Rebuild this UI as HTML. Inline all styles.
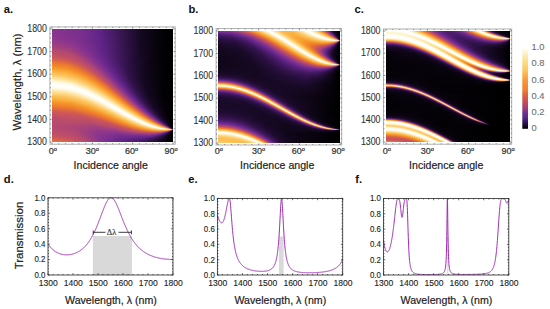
<!DOCTYPE html>
<html><head><meta charset="utf-8"><style>
html,body{margin:0;padding:0;background:#fff;width:550px;height:309px;overflow:hidden;position:relative}
.h{position:absolute;overflow:hidden}
.h i{display:block;height:1px}
svg{position:absolute;left:0;top:0;display:block;font-family:"Liberation Sans", sans-serif}
</style></head><body>
<div class="h" style="left:52px;top:29px;width:121px;height:113px"><i style="background:linear-gradient(90deg,#883490 0.5px,#772e8e 29.5px,#602588 46.5px,#13081f 89.5px,#010002 113.5px,#000000 120.5px)"></i><i style="background:linear-gradient(90deg,#88348f 0.5px,#782e8e 29.5px,#612588 46.5px,#13081f 89.5px,#010002 113.5px,#000000 120.5px)"></i><i style="background:linear-gradient(90deg,#88358f 0.5px,#782e8e 29.5px,#612588 46.5px,#13081f 89.5px,#010002 113.5px,#000000 120.5px)"></i><i style="background:linear-gradient(90deg,#89358f 0.5px,#772e8e 30.5px,#612589 46.5px,#13081f 89.5px,#010002 113.5px,#000000 120.5px)"></i><i style="background:linear-gradient(90deg,#8a358e 0.5px,#782e8e 30.5px,#602487 47.5px,#13081f 89.5px,#010002 113.5px,#000000 120.5px)"></i><i style="background:linear-gradient(90deg,#8a358e 0.5px,#772e8e 31.5px,#602487 47.5px,#13081f 89.5px,#010002 113.5px,#000000 120.5px)"></i><i style="background:linear-gradient(90deg,#8b368d 0.5px,#772e8e 31.5px,#612588 47.5px,#13081f 89.5px,#010002 113.5px,#000000 120.5px)"></i><i style="background:linear-gradient(90deg,#8d368d 0.5px,#772e8e 31.5px,#612588 47.5px,#14081f 89.5px,#010002 113.5px,#000000 120.5px)"></i><i style="background:linear-gradient(90deg,#8e378c 0.5px,#792e8e 30.5px,#612588 47.5px,#14081f 89.5px,#010002 113.5px,#000000 120.5px)"></i><i style="background:linear-gradient(90deg,#90388b 0.5px,#7c2f8f 28.5px,#612589 47.5px,#14081f 89.5px,#010002 113.5px,#000000 120.5px)"></i><i style="background:linear-gradient(90deg,#91388a 0.5px,#7d308f 27.5px,#622589 47.5px,#140820 89.5px,#010002 113.5px,#000000 120.5px)"></i><i style="background:linear-gradient(90deg,#933989 0.5px,#80318f 25.5px,#602487 48.5px,#140820 89.5px,#010002 113.5px,#000000 120.5px)"></i><i style="background:linear-gradient(90deg,#963a87 0.5px,#833290 24.5px,#612588 48.5px,#140820 89.5px,#010002 113.5px,#000000 120.5px)"></i><i style="background:linear-gradient(90deg,#983b86 0.5px,#853390 23.5px,#612588 48.5px,#140820 89.5px,#010002 113.5px,#000000 120.5px)"></i><i style="background:linear-gradient(90deg,#9b3d84 0.5px,#88348f 22.5px,#612588 48.5px,#140820 89.5px,#010002 113.5px,#000000 120.5px)"></i><i style="background:linear-gradient(90deg,#9e3e82 0.5px,#8c368d 21.5px,#622589 48.5px,#140820 89.5px,#010002 113.5px,#000000 120.5px)"></i><i style="background:linear-gradient(90deg,#a13f80 0.5px,#8f388b 20.5px,#742c8e 37.5px,#602487 49.5px,#140820 89.5px,#020103 112.5px,#000000 120.5px)"></i><i style="background:linear-gradient(90deg,#a5417d 0.5px,#923989 20.5px,#7c2f8f 33.5px,#602487 49.5px,#140820 89.5px,#020103 112.5px,#000000 120.5px)"></i><i style="background:linear-gradient(90deg,#a94379 0.5px,#963b87 19.5px,#7f318f 32.5px,#612588 49.5px,#140820 89.5px,#020103 112.5px,#000000 120.5px)"></i><i style="background:linear-gradient(90deg,#ad4576 0.5px,#9b3d84 18.5px,#80318f 32.5px,#612588 49.5px,#140820 89.5px,#020103 112.5px,#000000 120.5px)"></i><i style="background:linear-gradient(90deg,#b24872 0.5px,#a13f80 17.5px,#80318f 33.5px,#612589 49.5px,#140821 89.5px,#020103 112.5px,#000000 120.5px)"></i><i style="background:linear-gradient(90deg,#b64a6e 0.5px,#a7427b 16.5px,#82328f 33.5px,#622589 49.5px,#140821 89.5px,#020103 112.5px,#000000 120.5px)"></i><i style="background:linear-gradient(90deg,#b94b6b 0.5px,#af4674 14.5px,#82328f 34.5px,#602487 50.5px,#140821 89.5px,#020103 112.5px,#000000 120.5px)"></i><i style="background:linear-gradient(90deg,#bc4d69 0.5px,#b04773 16.5px,#82328f 35.5px,#612588 50.5px,#150821 89.5px,#020103 112.5px,#000000 120.5px)"></i><i style="background:linear-gradient(90deg,#bf4e66 0.5px,#b14872 18.5px,#82328f 36.5px,#622589 50.5px,#160923 88.5px,#020103 112.5px,#000000 120.5px)"></i><i style="background:linear-gradient(90deg,#c25063 0.5px,#b4496f 19.5px,#853390 36.5px,#602487 51.5px,#160923 88.5px,#020103 111.5px,#000000 120.5px)"></i><i style="background:linear-gradient(90deg,#c55260 0.5px,#b5496f 21.5px,#853390 37.5px,#612589 51.5px,#170925 87.5px,#020103 111.5px,#000000 120.5px)"></i><i style="background:linear-gradient(90deg,#c9545d 0.5px,#b74a6d 22.5px,#853390 38.5px,#62258a 51.5px,#180a27 86.5px,#030104 110.5px,#000000 120.5px)"></i><i style="background:linear-gradient(90deg,#cd5758 0.5px,#bb4d69 21.5px,#a3407e 30.5px,#82328f 40.5px,#612588 52.5px,#1a0a2a 85.5px,#030105 109.5px,#000000 120.5px)"></i><i style="background:linear-gradient(90deg,#d25c51 0.5px,#bf4e66 21.5px,#ac4576 29.5px,#843390 40.5px,#62258a 52.5px,#200c32 82.5px,#050209 105.5px,#000000 120.5px)"></i><i style="background:linear-gradient(90deg,#d7624a 0.5px,#c55260 19.5px,#ae4675 30.5px,#843390 41.5px,#612588 53.5px,#220d34 81.5px,#07030b 103.5px,#000000 120.5px)"></i><i style="background:linear-gradient(90deg,#dd6842 0.5px,#d25b52 14.5px,#b04773 31.5px,#843390 42.5px,#63258a 53.5px,#280f3d 78.5px,#0c0514 97.5px,#000000 118.5px,#000000 120.5px)"></i><i style="background:linear-gradient(90deg,#e36e39 0.5px,#d7614a 14.5px,#b24871 32.5px,#88348f 42.5px,#612589 54.5px,#2a1040 77.5px,#0d0515 96.5px,#000000 117.5px,#000000 120.5px)"></i><i style="background:linear-gradient(90deg,#ea7630 0.5px,#df6940 13.5px,#be4e67 29.5px,#a6427b 36.5px,#843390 44.5px,#602487 55.5px,#2c1043 76.5px,#0e0617 95.5px,#000000 117.5px,#000000 120.5px)"></i><i style="background:linear-gradient(90deg,#ed7c2c 0.5px,#e77235 12.5px,#bf4f65 30.5px,#a7437a 37.5px,#843390 45.5px,#622589 55.5px,#2e1146 75.5px,#0f0619 94.5px,#000001 116.5px,#000000 120.5px)"></i><i style="background:linear-gradient(90deg,#ef822b 0.5px,#ea7630 14.5px,#c14f64 31.5px,#a94379 38.5px,#843390 46.5px,#612588 56.5px,#2e1146 75.5px,#100619 94.5px,#000001 116.5px,#000000 120.5px)"></i><i style="background:linear-gradient(90deg,#f1882a 0.5px,#eb772f 17.5px,#c35063 32.5px,#aa4478 39.5px,#833390 47.5px,#63268a 56.5px,#301249 74.5px,#100619 94.5px,#000001 116.5px,#000000 120.5px)"></i><i style="background:linear-gradient(90deg,#f48f29 0.5px,#ee7d2c 17.5px,#e57037 22.5px,#c45161 33.5px,#ab4577 40.5px,#833290 48.5px,#622589 57.5px,#31124a 74.5px,#11071b 93.5px,#010001 115.5px,#000000 120.5px)"></i><i style="background:linear-gradient(90deg,#f69629 0.5px,#f0852b 16.5px,#e97531 23.5px,#c65260 34.5px,#ad4576 41.5px,#87348f 48.5px,#602487 58.5px,#2f1147 75.5px,#100619 94.5px,#000001 116.5px,#000000 120.5px)"></i><i style="background:linear-gradient(90deg,#f79d2e 0.5px,#f38e29 15.5px,#ea7630 25.5px,#c45161 36.5px,#ae4675 42.5px,#87348f 49.5px,#63268a 58.5px,#31124b 74.5px,#11071b 93.5px,#010001 115.5px,#000000 120.5px)"></i><i style="background:linear-gradient(90deg,#f8a535 0.5px,#f69529 15.5px,#ea7630 27.5px,#c65260 37.5px,#af4774 43.5px,#87348f 50.5px,#622589 59.5px,#301248 75.5px,#11071b 93.5px,#010001 115.5px,#000000 120.5px)"></i><i style="background:linear-gradient(90deg,#f9ad3d 0.5px,#f79d2e 15.5px,#f1862b 24.5px,#ea7630 29.5px,#c7535e 38.5px,#aa4478 45.5px,#87348f 51.5px,#602487 60.5px,#301249 75.5px,#11071b 93.5px,#010001 115.5px,#000000 120.5px)"></i><i style="background:linear-gradient(90deg,#fab445 0.5px,#f8a737 14.5px,#f49029 23.5px,#ea7630 31.5px,#c55260 40.5px,#ab4477 46.5px,#863490 52.5px,#63268b 60.5px,#31124a 75.5px,#12071d 92.5px,#010002 114.5px,#000000 120.5px)"></i><i style="background:linear-gradient(90deg,#fbba4d 0.5px,#f9ad3d 15.5px,#f49129 25.5px,#e97531 33.5px,#c6525f 41.5px,#ac4576 47.5px,#863490 53.5px,#622589 61.5px,#31124b 75.5px,#12071d 92.5px,#010002 114.5px,#000000 120.5px)"></i><i style="background:linear-gradient(90deg,#fcbf55 0.5px,#fab445 15.5px,#f59229 27.5px,#eb782e 34.5px,#c8535e 42.5px,#ad4576 48.5px,#863490 54.5px,#602588 62.5px,#301249 76.5px,#12071d 92.5px,#010002 114.5px,#000000 120.5px)"></i><i style="background:linear-gradient(90deg,#fcc661 0.5px,#fbb84b 16.5px,#f79a2c 27.5px,#ea772f 36.5px,#c55260 44.5px,#ae4675 49.5px,#863390 55.5px,#64268b 62.5px,#33134d 75.5px,#14081f 91.5px,#010102 113.5px,#000000 120.5px)"></i><i style="background:linear-gradient(90deg,#fdcd6f 0.5px,#fcc45e 12.5px,#f9aa3a 25.5px,#f59329 31.5px,#e97532 38.5px,#c6525f 45.5px,#af4674 50.5px,#853390 56.5px,#63258a 63.5px,#32124b 76.5px,#14081f 91.5px,#010102 113.5px,#000000 120.5px)"></i><i style="background:linear-gradient(90deg,#fdd47d 0.5px,#fccb6c 12.5px,#f9ab3b 27.5px,#f59229 33.5px,#eb782f 39.5px,#c8535e 46.5px,#b04773 51.5px,#853390 57.5px,#612589 64.5px,#301249 77.5px,#140820 91.5px,#010102 113.5px,#000000 120.5px)"></i><i style="background:linear-gradient(90deg,#fddc8e 0.5px,#fdd47d 11.5px,#f9ac3c 29.5px,#f49129 35.5px,#e97531 41.5px,#c9535d 47.5px,#b14773 52.5px,#8b368e 57.5px,#65268c 64.5px,#34134e 76.5px,#150822 90.5px,#020103 112.5px,#000000 120.5px)"></i><i style="background:linear-gradient(90deg,#fee39f 0.5px,#fddd91 10.5px,#fab445 29.5px,#f69529 36.5px,#eb782f 42.5px,#c55260 49.5px,#a94379 54.5px,#843390 59.5px,#64268b 65.5px,#32134c 77.5px,#140820 91.5px,#010102 113.5px,#000000 120.5px)"></i><i style="background:linear-gradient(90deg,#feeab0 0.5px,#fee39f 11.5px,#fcc865 24.5px,#f9a838 34.5px,#f59429 38.5px,#e97432 44.5px,#c6525f 50.5px,#aa4478 55.5px,#843390 60.5px,#63258a 66.5px,#31124a 78.5px,#140820 91.5px,#020103 112.5px,#000000 120.5px)"></i><i style="background:linear-gradient(90deg,#fff1c5 0.5px,#feecb6 9.5px,#fdda8a 20.5px,#f9ac3c 35.5px,#f59229 40.5px,#eb772f 45.5px,#c7535e 51.5px,#aa4478 56.5px,#833290 61.5px,#612588 67.5px,#32134c 78.5px,#140821 91.5px,#020103 112.5px,#000000 120.5px)"></i><i style="background:linear-gradient(90deg,#fff7d9 0.5px,#fff2c9 10.5px,#fdda8b 23.5px,#fab445 35.5px,#f69529 41.5px,#ec7a2d 46.5px,#c9535d 52.5px,#ab4477 57.5px,#83328f 62.5px,#602487 68.5px,#301249 79.5px,#13081f 92.5px,#010102 113.5px,#000000 120.5px)"></i><i style="background:linear-gradient(90deg,#fffbea 0.5px,#fff8dc 10.5px,#feebb4 19.5px,#fbb749 36.5px,#f59329 43.5px,#e97631 48.5px,#ca545c 53.5px,#ab4577 58.5px,#89358e 62.5px,#64268b 68.5px,#32134c 79.5px,#150822 91.5px,#020104 111.5px,#000000 120.5px)"></i><i style="background:linear-gradient(90deg,#fffdf7 0.5px,#fffbeb 11.5px,#fff2c9 19.5px,#fcc967 33.5px,#f9a838 41.5px,#f49029 45.5px,#eb782e 49.5px,#cb555b 54.5px,#ac4576 59.5px,#89358f 63.5px,#63268a 69.5px,#34134e 79.5px,#150922 91.5px,#020104 111.5px,#000000 120.5px)"></i><i style="background:linear-gradient(90deg,#fffffe 0.5px,#fffdf4 13.5px,#fff7d8 20.5px,#fdcd6f 34.5px,#f8a636 43.5px,#f59329 46.5px,#ed7a2d 50.5px,#c6525f 56.5px,#ac4576 60.5px,#88358f 64.5px,#622589 70.5px,#32134c 80.5px,#140820 92.5px,#020103 112.5px,#000000 120.5px)"></i><i style="background:linear-gradient(90deg,#fffffe 0.5px,#fffefa 15.5px,#fff8e0 22.5px,#fdd680 34.5px,#fbb94b 41.5px,#f69629 47.5px,#e97631 52.5px,#c7535e 57.5px,#ad4675 61.5px,#88348f 65.5px,#612588 71.5px,#30124a 81.5px,#150821 92.5px,#020104 111.5px,#000000 120.5px)"></i><i style="background:linear-gradient(90deg,#fffef8 0.5px,#fffefc 18.5px,#fffae6 24.5px,#fdda8a 35.5px,#fbbb4f 42.5px,#f59229 49.5px,#eb782f 53.5px,#c8535e 58.5px,#ae4675 62.5px,#88348f 66.5px,#66278c 71.5px,#32134c 81.5px,#150822 92.5px,#020104 111.5px,#000000 120.5px)"></i><i style="background:linear-gradient(90deg,#fffbec 0.5px,#fffffe 20.5px,#fffbeb 26.5px,#fee29d 35.5px,#fcbe54 43.5px,#f79c2e 49.5px,#ef812c 53.5px,#e77235 55.5px,#c9545c 59.5px,#ae4674 63.5px,#87348f 67.5px,#65268b 72.5px,#35134f 81.5px,#160923 92.5px,#030105 110.5px,#000000 120.5px)"></i><i style="background:linear-gradient(90deg,#fff7da 0.5px,#fffbed 12.5px,#ffffff 22.5px,#fffdf4 27.5px,#fff4d0 32.5px,#fbbd51 45.5px,#f6982b 51.5px,#ed7c2c 55.5px,#d96348 58.5px,#c45161 61.5px,#af4674 64.5px,#87348f 68.5px,#63268a 73.5px,#33134d 82.5px,#150821 93.5px,#020104 111.5px,#000000 120.5px)"></i><i style="background:linear-gradient(90deg,#fff1c6 0.5px,#fff7d8 11.5px,#fffffd 23.5px,#fffefb 28.5px,#fff9e5 32.5px,#fdd47c 42.5px,#fbb648 48.5px,#f59429 53.5px,#ea7730 57.5px,#cb555a 61.5px,#b04773 65.5px,#87348f 69.5px,#622589 74.5px,#31124b 83.5px,#150822 93.5px,#020104 111.5px,#000000 120.5px)"></i><i style="background:linear-gradient(90deg,#feeab1 0.5px,#feefc0 10.5px,#fffffd 26.5px,#fffef9 31.5px,#fff8de 35.5px,#fcc865 46.5px,#f79e2f 53.5px,#f1882a 56.5px,#ec792e 58.5px,#c65260 63.5px,#a5417c 67.5px,#86348f 70.5px,#612588 75.5px,#34134e 83.5px,#160923 93.5px,#030105 110.5px,#000000 120.5px)"></i><i style="background:linear-gradient(90deg,#fee39f 0.5px,#fee9ae 11.5px,#fff9e0 22.5px,#fffffd 29.5px,#fffefa 33.5px,#fff8df 37.5px,#fccb6c 47.5px,#f9aa39 53.5px,#f59229 56.5px,#ed7b2d 59.5px,#c7525f 64.5px,#a5427c 68.5px,#86348f 71.5px,#602487 76.5px,#32134c 84.5px,#150821 94.5px,#030104 111.5px,#000000 120.5px)"></i><i style="background:linear-gradient(90deg,#fddc8e 0.5px,#fee29d 11.5px,#feedba 19.5px,#fffef9 30.5px,#fffffe 34.5px,#fffae9 38.5px,#fdda8a 46.5px,#fbbe54 51.5px,#f59529 57.5px,#e97532 61.5px,#c8535e 65.5px,#a6427c 69.5px,#86338f 72.5px,#66278c 76.5px,#351450 84.5px,#150922 94.5px,#030105 110.5px,#000000 120.5px)"></i><i style="background:linear-gradient(90deg,#fdd47c 0.5px,#fdda8b 11.5px,#feecb5 22.5px,#fffdf7 32.5px,#fffffe 36.5px,#fffcf2 39.5px,#fff1c6 43.5px,#fcc158 52.5px,#f7a031 57.5px,#f48f29 59.5px,#ea7730 62.5px,#c9535d 66.5px,#a6427b 70.5px,#85338f 73.5px,#65268b 77.5px,#34134e 85.5px,#160924 94.5px,#030105 110.5px,#000000 120.5px)"></i><i style="background:linear-gradient(90deg,#fdcc6e 0.5px,#fdd57e 13.5px,#fee9ad 24.5px,#fffdf5 34.5px,#fffffe 38.5px,#fffcf2 41.5px,#fff1c4 45.5px,#fcc45d 53.5px,#f8a334 58.5px,#f59229 60.5px,#ec792e 63.5px,#ca545c 67.5px,#a7427b 71.5px,#85338f 74.5px,#64268b 78.5px,#32134c 86.5px,#150822 95.5px,#030104 111.5px,#000000 120.5px)"></i><i style="background:linear-gradient(90deg,#fcc55f 0.5px,#fdcd6f 13.5px,#fddd90 22.5px,#feeebb 29.5px,#fffef9 37.5px,#fffefc 41.5px,#fffae8 44.5px,#fdd47c 52.5px,#fbbb4f 56.5px,#f59529 61.5px,#ed7b2d 64.5px,#cb555a 68.5px,#a8437a 72.5px,#85338f 75.5px,#63268a 79.5px,#351451 86.5px,#160923 95.5px,#030106 110.5px,#000000 120.5px)"></i><i style="background:linear-gradient(90deg,#fcbe54 0.5px,#fcc561 13.5px,#fdd988 24.5px,#feefbe 32.5px,#fffdf8 39.5px,#fffffe 42.5px,#fffcf0 45.5px,#feeebd 49.5px,#fcc45e 56.5px,#f8a132 61.5px,#f48f29 63.5px,#e87432 66.5px,#c45161 70.5px,#a84379 73.5px,#85338f 76.5px,#622589 80.5px,#34134f 87.5px,#170925 95.5px,#040207 109.5px,#000000 120.5px)"></i><i style="background:linear-gradient(90deg,#fbb84b 0.5px,#fcc25a 16.5px,#fdd680 26.5px,#feedb8 34.5px,#fffdf7 41.5px,#fffffe 44.5px,#fffcef 47.5px,#fee19b 53.5px,#fcc158 58.5px,#f79b2d 63.5px,#ef802c 66.5px,#ea7730 67.5px,#c55260 71.5px,#a94479 74.5px,#85338f 77.5px,#622589 81.5px,#33134d 88.5px,#160923 96.5px,#040106 110.5px,#000000 120.5px)"></i><i style="background:linear-gradient(90deg,#fab343 0.5px,#fbbd52 17.5px,#fdce70 26.5px,#fee5a4 34.5px,#fffdf7 43.5px,#fffffe 46.5px,#fffbed 49.5px,#fdd886 56.5px,#fbbd53 60.5px,#f5952a 65.5px,#ec792e 68.5px,#c7525f 72.5px,#aa4478 75.5px,#85338f 78.5px,#612588 82.5px,#31124b 89.5px,#150822 97.5px,#030105 111.5px,#000000 120.5px)"></i><i style="background:linear-gradient(90deg,#f9ab3b 0.5px,#fbb749 17.5px,#fcc661 26.5px,#fddd90 34.5px,#fff2c7 40.5px,#fffdf7 45.5px,#fffffe 48.5px,#fffbea 51.5px,#fdd57f 58.5px,#fbba4d 62.5px,#f6982b 66.5px,#ed7c2d 69.5px,#c8535e 73.5px,#ac4577 76.5px,#85338f 79.5px,#602487 83.5px,#301249 90.5px,#140820 98.5px,#030104 112.5px,#000000 120.5px)"></i><i style="background:linear-gradient(90deg,#f8a233 0.5px,#fab242 18.5px,#fcc560 29.5px,#fdde94 37.5px,#fff5d0 43.5px,#fffdf7 47.5px,#fffffe 50.5px,#fffae7 53.5px,#fdd278 60.5px,#fbb648 64.5px,#f79b2d 67.5px,#ee7e2c 70.5px,#dd6842 72.5px,#c14f64 75.5px,#85338f 80.5px,#68288c 83.5px,#34134e 90.5px,#150822 98.5px,#030105 111.5px,#000000 120.5px)"></i><i style="background:linear-gradient(90deg,#f79a2c 0.5px,#f9aa3a 18.5px,#fcc25b 31.5px,#fddd91 39.5px,#fff4cf 45.5px,#fffef8 49.5px,#fffffd 52.5px,#fff9e2 55.5px,#fcc763 63.5px,#f79f30 68.5px,#f28a2a 70.5px,#ea7730 72.5px,#cb555a 75.5px,#ae4674 78.5px,#86338f 81.5px,#68278c 84.5px,#32134c 91.5px,#160924 98.5px,#040106 111.5px,#000000 120.5px)"></i><i style="background:linear-gradient(90deg,#f59329 0.5px,#f79f30 17.5px,#fbbc50 31.5px,#fdcd6f 37.5px,#fee8ab 44.5px,#fffcf1 50.5px,#fffffe 53.5px,#fffbec 56.5px,#fdda89 62.5px,#fbbc50 66.5px,#f6982b 70.5px,#ec792e 73.5px,#cd5758 76.5px,#b04773 79.5px,#86348f 82.5px,#67278c 85.5px,#371452 91.5px,#180a26 98.5px,#050207 110.5px,#000000 120.5px)"></i><i style="background:linear-gradient(90deg,#f38c2a 0.5px,#f79a2c 19.5px,#fbba4d 33.5px,#fccb6b 39.5px,#fee7aa 46.5px,#fffcf3 52.5px,#fffffe 55.5px,#fffdf3 57.5px,#fff1c6 60.5px,#fcc662 66.5px,#f79b2d 71.5px,#ed7c2d 74.5px,#c55260 78.5px,#a3407e 81.5px,#87348f 83.5px,#67278c 86.5px,#361451 92.5px,#170924 99.5px,#040206 111.5px,#000000 120.5px)"></i><i style="background:linear-gradient(90deg,#f0852b 0.5px,#f59329 19.5px,#f9ab3a 30.5px,#fcc661 40.5px,#fdde94 46.5px,#fffdf4 54.5px,#fffffe 57.5px,#fffcf0 59.5px,#fee19b 64.5px,#fcc25a 68.5px,#f79f30 72.5px,#f28a2a 74.5px,#e87433 76.5px,#c7535e 79.5px,#a4417d 82.5px,#87348e 84.5px,#67278c 87.5px,#35134f 93.5px,#160923 100.5px,#030105 112.5px,#000000 120.5px)"></i><i style="background:linear-gradient(90deg,#ee7f2c 0.5px,#f38c2a 20.5px,#f79c2d 28.5px,#fcbe54 40.5px,#fdd57f 46.5px,#fff1c4 52.5px,#fffdf5 56.5px,#fffffe 58.5px,#fffdf7 60.5px,#fff3ca 63.5px,#fcc661 69.5px,#f8a334 73.5px,#f38d2a 75.5px,#ea7730 77.5px,#c9545c 80.5px,#a7427b 83.5px,#89358e 85.5px,#67278c 88.5px,#33134e 94.5px,#170925 100.5px,#040207 111.5px,#000000 120.5px)"></i><i style="background:linear-gradient(90deg,#ec792d 0.5px,#f1872b 21.5px,#f79b2d 31.5px,#fcc057 43.5px,#fdd987 49.5px,#fff1c5 54.5px,#fffdf7 58.5px,#fffffe 60.5px,#fffdf4 62.5px,#fff0c3 65.5px,#fcc159 71.5px,#f79c2e 75.5px,#f1862b 77.5px,#ec7b2e 78.5px,#cb565a 81.5px,#a94479 84.5px,#8a358d 86.5px,#67278c 89.5px,#32134c 95.5px,#160924 101.5px,#040206 112.5px,#000000 120.5px)"></i><i style="background:linear-gradient(90deg,#e67235 0.5px,#f0842b 24.5px,#f79b2c 34.5px,#fcbf55 45.5px,#fdd987 51.5px,#fff1c6 56.5px,#fffcf0 59.5px,#fffffd 61.5px,#fffef9 63.5px,#fff9e1 65.5px,#fcc560 72.5px,#f8a132 76.5px,#f2892a 78.5px,#e67235 80.5px,#c35162 83.5px,#9b3d84 86.5px,#7e308f 88.5px,#67278c 90.5px,#381554 95.5px,#180a27 101.5px,#050208 111.5px,#000000 120.5px)"></i><i style="background:linear-gradient(90deg,#e06b3e 0.5px,#ec7a2d 21.5px,#f6982a 36.5px,#fbbe53 47.5px,#fdd886 53.5px,#fff2c8 58.5px,#fffcf2 61.5px,#fffffe 63.5px,#fffdf7 65.5px,#fff7db 67.5px,#fcc968 73.5px,#f8a636 77.5px,#f38e2a 79.5px,#e97631 81.5px,#c6525f 84.5px,#9d3e82 87.5px,#7f318f 89.5px,#68288c 91.5px,#371453 96.5px,#170925 102.5px,#040207 112.5px,#000000 120.5px)"></i><i style="background:linear-gradient(90deg,#da6546 0.5px,#e47038 19.5px,#f0832b 31.5px,#f79c2d 40.5px,#fcc058 50.5px,#fdde92 56.5px,#fffdf4 63.5px,#fffffe 65.5px,#fffdf4 67.5px,#fff5d4 69.5px,#fcc560 75.5px,#f79e30 79.5px,#f1862b 81.5px,#ec7a2e 82.5px,#c9545d 85.5px,#b24871 87.5px,#90388b 89.5px,#68288c 92.5px,#371452 97.5px,#160924 103.5px,#040106 113.5px,#000000 120.5px)"></i><i style="background:linear-gradient(90deg,#d55f4d 0.5px,#df6a40 20.5px,#ee7e2c 32.5px,#f6992b 42.5px,#fcc057 52.5px,#fdd886 57.5px,#fff3cd 62.5px,#fffdf6 65.5px,#fffffe 67.5px,#fffcf0 69.5px,#fee4a2 73.5px,#fcc159 77.5px,#f6972b 81.5px,#ee7f2c 83.5px,#e67236 84.5px,#cc5659 86.5px,#a4417d 89.5px,#83328f 91.5px,#69288c 93.5px,#361451 98.5px,#190a28 103.5px,#050208 112.5px,#000000 120.5px)"></i><i style="background:linear-gradient(90deg,#d05a54 0.5px,#da6447 21.5px,#ee7f2c 36.5px,#f79b2c 45.5px,#fcbf56 54.5px,#fdd886 59.5px,#fff4cf 64.5px,#fffdf8 67.5px,#fffffd 69.5px,#fffbec 71.5px,#fdd886 76.5px,#fbbd52 79.5px,#f79d2f 82.5px,#f0842b 84.5px,#ea7731 85.5px,#c45161 88.5px,#a94379 90.5px,#86338e 92.5px,#6b298d 94.5px,#521f76 96.5px,#280f3d 101.5px,#12071c 106.5px,#020104 115.5px,#000000 120.5px)"></i><i style="background:linear-gradient(90deg,#cc555a 0.5px,#d55f4d 22.5px,#ee7f2c 39.5px,#f6982b 47.5px,#fcbf55 56.5px,#fdd886 61.5px,#fff5d1 66.5px,#fffef9 69.5px,#fffefc 71.5px,#fffae7 73.5px,#fdd57e 78.5px,#fbb94c 81.5px,#f5962b 84.5px,#ed7c2e 86.5px,#c8535e 89.5px,#ad4675 91.5px,#89358d 93.5px,#6c298d 95.5px,#531f77 97.5px,#270f3c 102.5px,#11071b 107.5px,#020103 116.5px,#000000 120.5px)"></i><i style="background:linear-gradient(90deg,#c9535d 0.5px,#d15b52 24.5px,#e67235 37.5px,#f0842b 44.5px,#f79b2c 50.5px,#fcc25b 59.5px,#fdde94 64.5px,#fffcf2 70.5px,#fffffe 72.5px,#fffcf2 74.5px,#feecb6 77.5px,#fcc763 81.5px,#f79c2e 85.5px,#ef822c 87.5px,#e77434 88.5px,#cc5659 90.5px,#b24871 92.5px,#8c368c 94.5px,#6e2a8d 96.5px,#612587 97.5px,#351450 101.5px,#160923 106.5px,#040206 114.5px,#000000 120.5px)"></i><i style="background:linear-gradient(90deg,#c55260 0.5px,#cf5856 27.5px,#e57136 40.5px,#ef822b 46.5px,#f6992b 52.5px,#fcc25a 61.5px,#fddf94 66.5px,#fffdf4 72.5px,#fffffe 74.5px,#fffbee 76.5px,#fee099 80.5px,#fcc35d 83.5px,#f8a334 86.5px,#f5952b 87.5px,#ec7a2f 89.5px,#c45161 92.5px,#a5427c 94.5px,#91388a 95.5px,#712b8d 97.5px,#632689 98.5px,#35134f 102.5px,#150822 107.5px,#030105 115.5px,#000000 120.5px)"></i><i style="background:linear-gradient(90deg,#c35063 0.5px,#cd5658 30.5px,#e26d3b 42.5px,#ef802c 48.5px,#f79b2d 55.5px,#fcc159 63.5px,#fddf95 68.5px,#fffdf5 74.5px,#fffffd 76.5px,#fffbeb 78.5px,#fdd47c 83.5px,#fbb648 86.5px,#f79d2f 88.5px,#ef812c 90.5px,#e67236 91.5px,#c9545c 93.5px,#ac4576 95.5px,#84338e 97.5px,#66278a 99.5px,#351350 103.5px,#180a27 107.5px,#050208 114.5px,#000000 120.5px)"></i><i style="background:linear-gradient(90deg,#c04f65 0.5px,#ca545c 32.5px,#df6a3f 44.5px,#ee7e2c 50.5px,#f6992b 57.5px,#fcc158 65.5px,#fddf95 70.5px,#fffdf6 76.5px,#fffffd 78.5px,#fffae7 80.5px,#fdd176 85.5px,#fab343 88.5px,#f6972c 90.5px,#eb7a2f 92.5px,#cf5955 94.5px,#b34870 96.5px,#8a358d 98.5px,#69288c 100.5px,#351450 104.5px,#170926 108.5px,#040207 115.5px,#000000 120.5px)"></i><i style="background:linear-gradient(90deg,#be4e67 0.5px,#c8535e 34.5px,#d7614a 44.5px,#ed7b2d 52.5px,#f6982a 59.5px,#fcc057 67.5px,#fdde94 72.5px,#fffbeb 77.5px,#fffffd 79.5px,#fffdf4 81.5px,#fff4ce 83.5px,#fcc35d 88.5px,#f7a031 91.5px,#f4912a 92.5px,#ef822c 93.5px,#e67336 94.5px,#c8545d 96.5px,#a7427a 98.5px,#90388a 99.5px,#6d2a8d 101.5px,#5d2383 102.5px,#2c1143 106.5px,#13071e 110.5px,#020103 117.5px,#000000 120.5px)"></i><i style="background:linear-gradient(90deg,#bc4d69 0.5px,#c45161 35.5px,#d45e4e 46.5px,#ed7c2c 55.5px,#f79b2c 62.5px,#fcbf56 69.5px,#fdd784 73.5px,#fff1c6 77.5px,#fffdf7 80.5px,#fffefc 82.5px,#fff9e2 84.5px,#fccb6c 89.5px,#f9aa3b 92.5px,#f69b2e 93.5px,#f38c2a 94.5px,#ec7c2e 95.5px,#d05a54 97.5px,#b04773 99.5px,#84338e 101.5px,#612586 103.5px,#361452 106.5px,#160923 110.5px,#040106 116.5px,#000000 120.5px)"></i><i style="background:linear-gradient(90deg,#ba4c6a 0.5px,#c25063 37.5px,#d15b52 48.5px,#ee7e2c 58.5px,#f6982b 64.5px,#fbbe54 71.5px,#fdd682 75.5px,#fff1c5 79.5px,#fffdf7 82.5px,#fffefc 84.5px,#fffcf2 85.5px,#fff2c9 87.5px,#fcca68 91.5px,#f8a737 94.5px,#f5972c 95.5px,#f1872b 96.5px,#e97633 97.5px,#c9555c 99.5px,#a4417c 101.5px,#8c368b 102.5px,#66278a 104.5px,#381554 107.5px,#1b0b2b 110.5px,#07030b 115.5px,#000000 120.5px)"></i><i style="background:linear-gradient(90deg,#b94c6b 0.5px,#bf4f66 39.5px,#d15a53 51.5px,#ed7b2d 60.5px,#f79c2d 67.5px,#fcc25a 74.5px,#fddc8e 78.5px,#fffdf6 84.5px,#fffefc 86.5px,#fffcf2 87.5px,#fff2c8 89.5px,#fcc866 93.5px,#f8a334 96.5px,#f5932b 97.5px,#ef832c 98.5px,#e47138 99.5px,#c35162 101.5px,#983c85 103.5px,#81318e 104.5px,#6d2a8c 105.5px,#5a227f 106.5px,#2e1146 109.5px,#140821 112.5px,#030105 117.5px,#000000 120.5px)"></i><i style="background:linear-gradient(90deg,#b84b6c 0.5px,#bd4d68 41.5px,#d05a54 54.5px,#ed7c2c 63.5px,#f6992b 69.5px,#fcc057 76.5px,#fdda8a 80.5px,#fffdf4 86.5px,#fffefc 88.5px,#fffdf4 89.5px,#fff2ca 91.5px,#fcc866 95.5px,#f8a133 98.5px,#f4902b 99.5px,#ed7f2e 100.5px,#ce5955 102.5px,#a6427a 104.5px,#8c368b 105.5px,#752d8e 106.5px,#612585 107.5px,#2f1248 110.5px,#14081f 113.5px,#020103 118.5px,#000000 120.5px)"></i><i style="background:linear-gradient(90deg,#b74b6d 0.5px,#b84b6c 40.5px,#cd5758 56.5px,#ee7d2c 66.5px,#f79c2d 72.5px,#fcc35d 79.5px,#fdde94 83.5px,#fffcf0 88.5px,#fffffd 90.5px,#fffdf6 91.5px,#fff4cf 93.5px,#fcc968 97.5px,#f7a133 100.5px,#f38f2b 101.5px,#ec7c30 102.5px,#ca565a 104.5px,#9c3e81 106.5px,#81328d 107.5px,#6a298b 108.5px,#32124b 111.5px,#13071e 114.5px,#030104 118.5px,#000000 120.5px)"></i><i style="background:linear-gradient(90deg,#b74a6d 0.5px,#b34871 38.5px,#c8535d 57.5px,#e16c3c 65.5px,#ee7f2c 69.5px,#f6982b 74.5px,#fcc158 81.5px,#fddb8d 85.5px,#fffbea 90.5px,#fffefc 92.5px,#fffef9 93.5px,#fffbec 94.5px,#fee3a1 97.5px,#fbbf56 100.5px,#f8a234 102.5px,#f38f2c 103.5px,#eb7c31 104.5px,#c7545d 106.5px,#933987 108.5px,#772e8d 109.5px,#5f2482 110.5px,#260e3b 113.5px,#12071d 115.5px,#040106 118.5px,#000000 120.5px)"></i><i style="background:linear-gradient(90deg,#b64a6e 0.5px,#ae4675 40.5px,#ca545c 61.5px,#ea7630 70.5px,#f69a2c 77.5px,#fcc35c 84.5px,#fdde93 88.5px,#fffcf0 93.5px,#fffefa 94.5px,#fffefc 95.5px,#fffdf4 96.5px,#fff2c9 98.5px,#fcc35d 102.5px,#f8a637 104.5px,#f4922d 105.5px,#eb7d31 106.5px,#c5535f 108.5px,#8a3689 110.5px,#6d2a8a 111.5px,#521f75 112.5px,#280f3e 114.5px,#11071b 116.5px,#020103 119.5px,#000000 120.5px)"></i><i style="background:linear-gradient(90deg,#b64a6e 0.5px,#aa4478 42.5px,#c9545d 64.5px,#e67136 72.5px,#f2892a 77.5px,#f8a132 81.5px,#fcc45e 87.5px,#fddf96 91.5px,#fffcf2 96.5px,#fffefb 97.5px,#fffefa 98.5px,#fffcef 99.5px,#feefc0 101.5px,#fbbd53 105.5px,#f59931 107.5px,#ee832f 108.5px,#dd6a42 109.5px,#a74379 111.5px,#83338a 112.5px,#622583 113.5px,#2d1144 115.5px,#1b0a2a 116.5px,#08030d 118.5px,#000001 120.5px)"></i><i style="background:linear-gradient(90deg,#b74a6d 0.5px,#a5417c 44.5px,#c35162 65.5px,#d86249 72.5px,#ec7b2e 77.5px,#f69a2c 83.5px,#fcc35d 90.5px,#fdde94 94.5px,#fffcf0 99.5px,#fffef9 100.5px,#fffef9 101.5px,#fffcef 102.5px,#feeec0 104.5px,#fbb84e 108.5px,#f8a539 109.5px,#f28e30 110.5px,#e3733b 111.5px,#cb5a57 112.5px,#a84377 113.5px,#7e3188 114.5px,#562177 115.5px,#35144f 116.5px,#1c0b2c 117.5px,#0e0516 118.5px,#010001 120.5px)"></i><i style="background:linear-gradient(90deg,#b74b6d 0.5px,#a7437a 27.5px,#a1407f 48.5px,#c25063 68.5px,#d7604b 75.5px,#ee7e2c 81.5px,#f6982c 86.5px,#fcc159 93.5px,#fddb8c 97.5px,#fffae7 102.5px,#fffef8 104.5px,#fffdf4 105.5px,#fff9e5 106.5px,#fee8af 108.5px,#fbba52 111.5px,#f7a43c 112.5px,#ed8837 113.5px,#d76849 114.5px,#b04a6d 115.5px,#7c3081 116.5px,#481b66 117.5px,#210d33 118.5px,#0b0412 119.5px,#020103 120.5px)"></i><i style="background:linear-gradient(90deg,#b84b6c 0.5px,#ac4577 22.5px,#9b3d84 46.5px,#aa4478 61.5px,#d05a54 77.5px,#ec7a2e 84.5px,#f6992d 90.5px,#fcc058 97.5px,#fdd987 101.5px,#fffaea 107.5px,#fffcf2 108.5px,#fffcf2 109.5px,#fff9e7 110.5px,#fff3d3 111.5px,#fddc96 113.5px,#f8b151 115.5px,#ea8e47 116.5px,#c76559 117.5px,#85386c 118.5px,#341446 119.5px,#06030a 120.5px)"></i><i style="background:linear-gradient(90deg,#b94c6b 0.5px,#af4674 20.5px,#973b86 46.5px,#a2407f 62.5px,#cd5758 80.5px,#ee7e2c 89.5px,#f69b2e 95.5px,#fcc35d 103.5px,#fee19e 109.5px,#fef1cc 113.5px,#fff2ce 115.5px,#feeec3 116.5px,#fee5ae 117.5px,#fcd38d 118.5px,#eaa878 119.5px,#79566d 120.5px)"></i><i style="background:linear-gradient(90deg,#ba4c6a 0.5px,#b04773 20.5px,#933989 46.5px,#9a3c84 63.5px,#ce5856 85.5px,#ed7c2e 94.5px,#f5972d 101.5px,#f9ac3f 109.5px,#f7a53e 113.5px,#ef933f 115.5px,#e48246 116.5px,#cd6a56 117.5px,#9e4865 118.5px,#522057 119.5px,#0c0513 120.5px)"></i><i style="background:linear-gradient(90deg,#bc4d68 0.5px,#b04773 21.5px,#90388b 46.5px,#923989 64.5px,#ad4675 77.5px,#d45e4f 93.5px,#e67436 101.5px,#e77636 107.5px,#d86548 111.5px,#c2545f 113.5px,#943b80 115.5px,#722c82 116.5px,#4a1c68 117.5px,#260e3a 118.5px,#0e0516 119.5px,#020103 120.5px)"></i><i style="background:linear-gradient(90deg,#be4e67 0.5px,#b14872 22.5px,#8d378c 46.5px,#8b368e 64.5px,#a4417d 80.5px,#c35162 95.5px,#c6535f 104.5px,#b74b6c 108.5px,#973c83 111.5px,#732c8b 113.5px,#5e247f 114.5px,#1d0b2d 117.5px,#060209 119.5px,#010001 120.5px)"></i><i style="background:linear-gradient(90deg,#c14f64 0.5px,#b24871 23.5px,#8b368d 46.5px,#853390 66.5px,#9f3f81 86.5px,#ae4675 98.5px,#a03f7f 104.5px,#7a2f8e 109.5px,#622584 111.5px,#441963 113.5px,#190a27 116.5px,#030105 119.5px,#000001 120.5px)"></i><i style="background:linear-gradient(90deg,#c35162 0.5px,#b34970 24.5px,#8b368e 45.5px,#7e318f 66.5px,#90388a 96.5px,#80318e 103.5px,#68288a 107.5px,#4b1c6d 110.5px,#100619 116.5px,#020103 119.5px,#000000 120.5px)"></i><i style="background:linear-gradient(90deg,#c7525f 0.5px,#b5496f 25.5px,#8a358e 45.5px,#792e8e 66.5px,#7c2f8f 95.5px,#66278a 103.5px,#4d1d70 107.5px,#10061a 115.5px,#010102 119.5px,#000000 120.5px)"></i><i style="background:linear-gradient(90deg,#ca545b 0.5px,#b84b6d 25.5px,#88348f 46.5px,#732c8e 68.5px,#6d298d 94.5px,#5f2485 100.5px,#3a1557 107.5px,#0c0513 115.5px,#000000 120.5px)"></i><i style="background:linear-gradient(90deg,#cf5856 0.5px,#bb4d69 24.5px,#863490 47.5px,#6d2a8d 70.5px,#612587 93.5px,#4a1c6c 101.5px,#09040f 115.5px,#000000 120.5px)"></i><i style="background:linear-gradient(90deg,#d45e4f 0.5px,#c04f65 23.5px,#a84379 34.5px,#843390 48.5px,#68288c 71.5px,#5b2281 89.5px,#451965 99.5px,#07030c 115.5px,#000000 120.5px)"></i><i style="background:linear-gradient(90deg,#da6446 0.5px,#cd5758 16.5px,#b04773 33.5px,#873490 47.5px,#65268c 70.5px,#4c1d6e 92.5px,#2d1145 103.5px,#06020a 115.5px,#000000 120.5px)"></i><i style="background:linear-gradient(90deg,#e16c3d 0.5px,#d45e4e 15.5px,#ae4675 35.5px,#853390 48.5px,#602487 71.5px,#421861 93.5px,#1f0c31 105.5px,#030106 116.5px,#000000 120.5px)"></i><i style="background:linear-gradient(90deg,#e87432 0.5px,#dc6743 14.5px,#be4e66 30.5px,#a4417d 39.5px,#843390 49.5px,#602587 68.5px,#3b1658 93.5px,#030105 116.5px,#000000 120.5px)"></i></div>
<div class="h" style="left:218px;top:31px;width:122px;height:112px"><i style="background:linear-gradient(90deg,#7f318f 0.5px,#8c368c 11.5px,#ae4675 19.5px,#d45e4f 27.5px,#ec7b2e 31.5px,#f6982c 35.5px,#fbbe54 40.5px,#fddd90 44.5px,#fffcf1 49.5px,#fffffd 51.5px,#fffbea 53.5px,#fdd988 58.5px,#fcc55f 61.5px,#fab647 65.5px,#fab342 70.5px,#fcc057 76.5px,#fdda89 81.5px,#fffdf3 88.5px,#fffffe 90.5px,#fffcf0 92.5px,#feebb4 95.5px,#fcc560 99.5px,#f8a233 102.5px,#f4922b 103.5px,#ef832c 104.5px,#e57138 105.5px,#c25063 107.5px,#913889 109.5px,#782e8e 110.5px,#612586 111.5px,#290f3f 114.5px,#13081f 116.5px,#040206 119.5px,#000000 121.5px)"></i><i style="background:linear-gradient(90deg,#6c298d 0.5px,#792f8e 12.5px,#933989 19.5px,#d25c51 30.5px,#ec7b2e 34.5px,#f79b2d 38.5px,#fcc25b 43.5px,#fee29e 47.5px,#fffcf0 51.5px,#fffefb 52.5px,#fffffd 53.5px,#fffbea 55.5px,#fdd885 60.5px,#fcc35c 63.5px,#fab342 68.5px,#fab545 74.5px,#fcc45e 79.5px,#fde097 84.5px,#fffdf4 90.5px,#fffffe 92.5px,#fffcef 94.5px,#feeab2 97.5px,#fcc25c 101.5px,#f79d2f 104.5px,#f38c2a 105.5px,#eb7a30 106.5px,#c8545c 108.5px,#b4496f 109.5px,#973b85 110.5px,#7b2f8e 111.5px,#622586 112.5px,#260e3a 115.5px,#10061a 117.5px,#020103 120.5px,#000000 121.5px)"></i><i style="background:linear-gradient(90deg,#5c2382 0.5px,#6b298d 13.5px,#8c368c 22.5px,#cc5659 32.5px,#ee7e2d 37.5px,#f6972b 40.5px,#fcc057 45.5px,#fee19b 49.5px,#fffcf0 53.5px,#fffefb 54.5px,#fffffd 55.5px,#fffdf7 56.5px,#fff5d3 58.5px,#fdd681 62.5px,#fcc159 65.5px,#fab140 70.5px,#fab445 76.5px,#fcc45e 81.5px,#fddf96 86.5px,#fffcf3 92.5px,#fffffe 94.5px,#fffcf0 96.5px,#feeab1 99.5px,#fcc159 103.5px,#f6972d 106.5px,#f0852b 107.5px,#e57138 108.5px,#bc4d68 110.5px,#a03f7f 111.5px,#80318d 112.5px,#642687 113.5px,#33134e 115.5px,#150821 117.5px,#020104 120.5px,#000001 121.5px)"></i><i style="background:linear-gradient(90deg,#4e1d71 0.5px,#5a2280 12.5px,#712b8e 20.5px,#8f388b 26.5px,#c8535e 34.5px,#ec7a2e 39.5px,#f5942a 42.5px,#fbb84a 46.5px,#fdcf73 49.5px,#fff1c7 53.5px,#fffcf1 55.5px,#fffefb 56.5px,#fffffd 57.5px,#fffdf5 58.5px,#fff4ce 60.5px,#fddb8d 63.5px,#fcc55f 66.5px,#fab444 70.5px,#f9ae3d 75.5px,#fbbb50 81.5px,#fdcd6f 85.5px,#feeab0 90.5px,#fffcf1 94.5px,#fffffd 96.5px,#fffcf1 98.5px,#fff3cb 100.5px,#fcc058 105.5px,#f8a536 107.5px,#f4922c 108.5px,#ed7f2e 109.5px,#c6535e 111.5px,#ab4576 112.5px,#88358b 113.5px,#682788 114.5px,#31124a 116.5px,#1d0c2e 117.5px,#09030e 119.5px,#000001 121.5px)"></i><i style="background:linear-gradient(90deg,#431963 0.5px,#4e1d70 12.5px,#6b298d 22.5px,#90388b 29.5px,#c55161 36.5px,#e36e39 40.5px,#ef802c 42.5px,#f79b2d 45.5px,#fcc662 50.5px,#feeab1 54.5px,#fffcf3 57.5px,#fffefc 58.5px,#fffefc 59.5px,#fffcf2 60.5px,#fdd987 65.5px,#fcc25a 68.5px,#faaf3e 73.5px,#f9ad3d 78.5px,#fcc25a 85.5px,#fddc8f 90.5px,#fffbed 96.5px,#fffffd 98.5px,#fffdf5 100.5px,#fff4d1 102.5px,#fcc058 107.5px,#f8a334 109.5px,#f38e2c 110.5px,#e87734 111.5px,#b84b6b 113.5px,#933a86 114.5px,#6d2a8a 115.5px,#2d1145 117.5px,#190a27 118.5px,#050207 120.5px,#010001 121.5px)"></i><i style="background:linear-gradient(90deg,#3a1557 0.5px,#451a65 13.5px,#66278b 24.5px,#8b368d 31.5px,#c35062 38.5px,#d96348 41.5px,#e97631 43.5px,#f4912a 46.5px,#faaf3f 49.5px,#fcc663 52.5px,#feebb4 56.5px,#fff9e4 58.5px,#fffdf5 59.5px,#fffffd 60.5px,#fffefa 61.5px,#fffbee 62.5px,#fdd57f 67.5px,#fcbf55 70.5px,#f9ab3b 75.5px,#f9ab3a 80.5px,#fcc057 87.5px,#fdda89 92.5px,#fffcf2 99.5px,#fffffd 101.5px,#fffbed 103.5px,#fef0c2 105.5px,#fab447 110.5px,#f7a235 111.5px,#f28b2d 112.5px,#e3713b 113.5px,#c8565b 114.5px,#a3417b 115.5px,#762d8a 116.5px,#4c1c6d 117.5px,#29103f 118.5px,#13081f 119.5px,#07030b 120.5px,#010002 121.5px)"></i><i style="background:linear-gradient(90deg,#33134e 0.5px,#3e175c 14.5px,#5a227f 24.5px,#6b298d 28.5px,#90388b 34.5px,#c25063 40.5px,#d8624a 43.5px,#e97632 45.5px,#f4912a 48.5px,#faaf3f 51.5px,#fcc764 54.5px,#feedb9 58.5px,#fffae9 60.5px,#fffef8 61.5px,#fffffd 62.5px,#fffdf8 63.5px,#fff4d0 65.5px,#fdda8a 68.5px,#fcc25a 71.5px,#faaf3e 75.5px,#f8a535 80.5px,#fbb749 87.5px,#fccb6c 92.5px,#fee7a9 97.5px,#fffdf4 102.5px,#fffefc 104.5px,#fffae8 106.5px,#fee29e 109.5px,#fbb94d 112.5px,#f8a538 113.5px,#f18b2f 114.5px,#dd6b42 115.5px,#ba4d68 116.5px,#853486 117.5px,#4f1e6f 118.5px,#240e38 119.5px,#0c0514 120.5px,#020103 121.5px)"></i><i style="background:linear-gradient(90deg,#2e1145 0.5px,#381555 15.5px,#531f76 25.5px,#69288d 30.5px,#8e378c 36.5px,#c15064 42.5px,#d7624a 45.5px,#e97632 47.5px,#f4912a 50.5px,#fab040 53.5px,#fcc967 56.5px,#feefbf 60.5px,#fffcee 62.5px,#fffefb 63.5px,#fffffd 64.5px,#fffdf3 65.5px,#fff1c6 67.5px,#fdd681 70.5px,#fcbe54 73.5px,#f8a737 78.5px,#f8a233 83.5px,#fbb749 90.5px,#fccc6c 95.5px,#feecb6 101.5px,#fffcf2 105.5px,#fffefb 107.5px,#fffdf6 108.5px,#fff5d5 110.5px,#fdd37d 113.5px,#f9ad42 115.5px,#f19034 116.5px,#d86948 117.5px,#a24276 118.5px,#582172 119.5px,#1d0b2c 120.5px,#040206 121.5px)"></i><i style="background:linear-gradient(90deg,#290f3e 0.5px,#32134c 15.5px,#4d1d6f 26.5px,#68278c 32.5px,#8d378c 38.5px,#c15064 44.5px,#d86249 47.5px,#ea7731 49.5px,#f5932a 52.5px,#fab242 55.5px,#fccb6b 58.5px,#fff1c6 62.5px,#fffdf3 64.5px,#fffffd 65.5px,#fffefa 66.5px,#fffbed 67.5px,#fddb8c 71.5px,#fcc159 74.5px,#f9ab3a 78.5px,#f79d2e 83.5px,#f9ac3c 90.5px,#fcc560 97.5px,#fee39e 103.5px,#fffcf0 109.5px,#fffef9 111.5px,#fffcf3 112.5px,#fff9e5 113.5px,#fee8b1 115.5px,#fbc465 117.5px,#f4a247 118.5px,#d16e52 119.5px,#743068 120.5px,#11061a 121.5px)"></i><i style="background:linear-gradient(90deg,#240e38 0.5px,#2f1147 16.5px,#481b69 27.5px,#67278c 34.5px,#8d378c 40.5px,#c25063 46.5px,#d96348 49.5px,#eb7830 51.5px,#f5952a 54.5px,#fbbc50 58.5px,#fdd884 61.5px,#fffae7 65.5px,#fffef8 66.5px,#fffffd 67.5px,#fffdf6 68.5px,#fff3ca 70.5px,#fdd681 73.5px,#fbbd52 76.5px,#f8a131 81.5px,#f6992b 87.5px,#fab445 96.5px,#fdcd6e 103.5px,#fff6db 114.5px,#fff8e3 116.5px,#fff7df 117.5px,#fff3d1 118.5px,#fee9b7 119.5px,#facc8a 120.5px,#9f7074 121.5px)"></i><i style="background:linear-gradient(90deg,#210d33 0.5px,#2b1042 17.5px,#471a68 29.5px,#67278c 36.5px,#8e378c 42.5px,#bc4d68 47.5px,#d25b52 50.5px,#ec7a2e 53.5px,#f6972b 56.5px,#fbbe53 60.5px,#fddb8b 63.5px,#fffcef 67.5px,#fffefb 68.5px,#fffefc 69.5px,#fffcf0 70.5px,#fdd177 75.5px,#fcbf56 77.5px,#f79f30 82.5px,#f59329 87.5px,#f7a031 95.5px,#fcc866 110.5px,#fcc968 114.5px,#fbc05c 116.5px,#fab650 117.5px,#f4a246 118.5px,#df7f4d 119.5px,#994763 120.5px,#200c29 121.5px)"></i><i style="background:linear-gradient(90deg,#1e0c2f 0.5px,#270f3d 17.5px,#40175e 29.5px,#68278c 38.5px,#8f388b 44.5px,#be4e67 49.5px,#d45d4f 52.5px,#ed7c2d 55.5px,#f69a2c 58.5px,#fcc057 62.5px,#fdde93 65.5px,#fff9e1 68.5px,#fffdf5 69.5px,#fffffd 70.5px,#fffef8 71.5px,#fffae7 72.5px,#fdd680 76.5px,#fcc25b 78.5px,#f8a536 82.5px,#f69528 85.5px,#f38c2a 91.5px,#f7a031 102.5px,#f8a637 110.5px,#f69a31 113.5px,#ee8531 115.5px,#e2733c 116.5px,#cd5d54 117.5px,#a24277 118.5px,#632678 119.5px,#240e37 120.5px,#050208 121.5px)"></i><i style="background:linear-gradient(90deg,#1b0b2b 0.5px,#250e39 18.5px,#3c165a 30.5px,#68288c 40.5px,#89358e 45.5px,#bf4f66 51.5px,#d6604c 54.5px,#e87532 56.5px,#f4922a 59.5px,#fab243 62.5px,#fdcd6f 65.5px,#feebb5 68.5px,#fffbea 70.5px,#fffefa 71.5px,#fffefd 72.5px,#fffcf2 73.5px,#fdda8b 77.5px,#fcc661 79.5px,#f8a636 83.5px,#f59329 86.5px,#f0842b 92.5px,#f2892a 107.5px,#ea7a32 111.5px,#db6744 113.5px,#bc4e67 115.5px,#a0407d 116.5px,#792f89 117.5px,#4f1e6f 118.5px,#280f3d 119.5px,#0e0616 120.5px,#020103 121.5px)"></i><i style="background:linear-gradient(90deg,#190a28 0.5px,#220d35 18.5px,#3a1557 31.5px,#64268b 41.5px,#8b368d 47.5px,#c14f64 53.5px,#d86349 56.5px,#ea7830 58.5px,#f5952a 61.5px,#fbbd53 65.5px,#fddb8c 68.5px,#fffcf2 72.5px,#fffefd 73.5px,#fffefa 74.5px,#fffae9 75.5px,#fdd57e 79.5px,#fcc058 81.5px,#f79f30 85.5px,#f49129 87.5px,#ed7c2c 93.5px,#e36f39 106.5px,#c8555c 111.5px,#b04773 113.5px,#80318c 115.5px,#642685 116.5px,#2a1040 118.5px,#140821 119.5px,#08030c 120.5px,#010002 121.5px)"></i><i style="background:linear-gradient(90deg,#170925 0.5px,#200c32 19.5px,#381454 32.5px,#602587 42.5px,#85338f 48.5px,#ab4577 52.5px,#d25c51 57.5px,#ec7b2e 60.5px,#f6982c 63.5px,#fcc057 67.5px,#fddf95 70.5px,#fffae6 73.5px,#fffef8 74.5px,#fffffd 75.5px,#fffdf4 76.5px,#feefc0 78.5px,#fdce72 81.5px,#fbbb4f 83.5px,#f6972a 87.5px,#eb772e 93.5px,#c7535e 107.5px,#b34970 110.5px,#81328d 113.5px,#6d2a8c 114.5px,#57217b 115.5px,#190a28 118.5px,#050208 120.5px,#010001 121.5px)"></i><i style="background:linear-gradient(90deg,#160923 0.5px,#1f0c30 20.5px,#381555 34.5px,#622589 44.5px,#88348e 50.5px,#be4e66 56.5px,#d55f4e 59.5px,#e87433 61.5px,#f4912a 64.5px,#f8a738 66.5px,#fcc35d 69.5px,#fee39e 72.5px,#fffcef 75.5px,#fffefc 76.5px,#fffefa 77.5px,#fffbeb 78.5px,#fdd37b 82.5px,#fbbe54 84.5px,#f6972a 88.5px,#e97531 93.5px,#ce5857 100.5px,#b34871 107.5px,#81328e 111.5px,#622586 113.5px,#1c0b2d 117.5px,#030106 120.5px,#000001 121.5px)"></i><i style="background:linear-gradient(90deg,#150821 0.5px,#1e0c2e 21.5px,#361452 35.5px,#5f2486 45.5px,#83328f 51.5px,#a8437a 55.5px,#cf5955 60.5px,#ea7730 63.5px,#f5952a 66.5px,#fbbd53 70.5px,#fddc8f 73.5px,#fff9e1 76.5px,#fffdf6 77.5px,#fffffd 78.5px,#fffdf5 79.5px,#fff8df 80.5px,#fdd987 83.5px,#fcc25a 85.5px,#f6982b 89.5px,#ea772f 93.5px,#cd5658 98.5px,#b44970 104.5px,#81328f 109.5px,#68288b 111.5px,#4a1c6c 113.5px,#150821 117.5px,#030104 120.5px,#000001 121.5px)"></i><i style="background:linear-gradient(90deg,#140820 0.5px,#1c0b2d 22.5px,#351450 36.5px,#5c2382 46.5px,#6c298d 49.5px,#8e378c 54.5px,#bc4d68 59.5px,#d25b52 62.5px,#ec7a2e 65.5px,#f6982c 68.5px,#fcc058 72.5px,#fee098 75.5px,#fffbeb 78.5px,#fffefb 79.5px,#fffefb 80.5px,#fffbec 81.5px,#fdd279 85.5px,#fbbc50 87.5px,#f69a2c 90.5px,#ed7c2c 93.5px,#c9545c 98.5px,#ac4576 103.5px,#83338f 107.5px,#622588 110.5px,#180a26 116.5px,#050209 119.5px,#000000 121.5px)"></i><i style="background:linear-gradient(90deg,#13081e 0.5px,#1b0b2b 23.5px,#33134e 37.5px,#59217e 47.5px,#69288d 50.5px,#89358e 55.5px,#bf4e66 61.5px,#d55f4e 64.5px,#ee7d2c 67.5px,#f79c2e 70.5px,#fcc45e 74.5px,#fee4a2 77.5px,#fffcf3 80.5px,#fffffd 81.5px,#fffdf7 82.5px,#fff9e1 83.5px,#fdd886 86.5px,#fcc057 88.5px,#f79d2e 91.5px,#f0852b 93.5px,#ed7b2d 94.5px,#c9545c 98.5px,#ab4577 102.5px,#8a358e 105.5px,#6b298d 108.5px,#602486 109.5px,#1b0b2b 115.5px,#040207 119.5px,#000000 121.5px)"></i><i style="background:linear-gradient(90deg,#12071d 0.5px,#1b0b2a 24.5px,#35134f 39.5px,#5b2281 49.5px,#6b298d 52.5px,#8c368d 57.5px,#c14f64 63.5px,#d8624a 66.5px,#ea7731 68.5px,#f5942a 71.5px,#fbbe53 75.5px,#fddd91 78.5px,#fffae6 81.5px,#fffef8 82.5px,#fffefc 83.5px,#fffcef 84.5px,#fdde94 87.5px,#fcc560 89.5px,#f7a031 92.5px,#f5932a 93.5px,#ec7a2e 95.5px,#cd5659 98.5px,#b44970 101.5px,#8d378c 104.5px,#6c298d 107.5px,#612588 108.5px,#1f0c30 114.5px,#07030b 118.5px,#000000 121.5px)"></i><i style="background:linear-gradient(90deg,#11071c 0.5px,#1a0a29 25.5px,#33134e 40.5px,#58217d 50.5px,#68288c 53.5px,#8f378b 59.5px,#bd4d68 64.5px,#d25b52 67.5px,#ec7a2e 70.5px,#f6982b 73.5px,#fcc058 77.5px,#fee199 80.5px,#fffbee 83.5px,#fffefc 84.5px,#fffef9 85.5px,#fffae6 86.5px,#fccb6b 90.5px,#fab344 92.5px,#f6962b 94.5px,#ed7b2d 96.5px,#ca545c 99.5px,#a8437a 102.5px,#8a358e 104.5px,#66278c 107.5px,#230e37 113.5px,#0a0410 117.5px,#000000 121.5px)"></i><i style="background:linear-gradient(90deg,#11071b 0.5px,#190a28 26.5px,#32134c 41.5px,#5b2280 52.5px,#6a298d 55.5px,#8a358e 60.5px,#be4e66 66.5px,#d45e4f 69.5px,#ed7c2d 72.5px,#f69b2d 75.5px,#fcc35d 79.5px,#fee4a2 82.5px,#fff8dd 84.5px,#fffdf4 85.5px,#fffefc 86.5px,#fffdf4 87.5px,#fff7da 88.5px,#fdd27a 91.5px,#fbb94c 93.5px,#f79b2e 95.5px,#ed7d2d 97.5px,#c8535e 100.5px,#b04773 102.5px,#8c368d 104.5px,#64268a 107.5px,#29103f 112.5px,#0e0516 116.5px,#010002 120.5px,#000000 121.5px)"></i><i style="background:linear-gradient(90deg,#10071a 0.5px,#190a28 27.5px,#31124b 42.5px,#58217d 53.5px,#67278c 56.5px,#8d378c 62.5px,#c04f65 68.5px,#d6604b 71.5px,#e97532 73.5px,#f5922a 76.5px,#fab445 79.5px,#fcc661 81.5px,#fee7a9 84.5px,#fff9e5 86.5px,#fffef8 87.5px,#fffefb 88.5px,#fffbec 89.5px,#fdda8b 92.5px,#fbbf55 94.5px,#f8a233 96.5px,#f4912a 97.5px,#ef812c 98.5px,#e57137 99.5px,#c7535e 101.5px,#a94478 103.5px,#83338f 105.5px,#66278b 107.5px,#32124b 111.5px,#12071c 115.5px,#010002 120.5px,#000000 121.5px)"></i><i style="background:linear-gradient(90deg,#100619 0.5px,#180a27 28.5px,#301249 43.5px,#56207a 54.5px,#6a288d 58.5px,#90388b 64.5px,#c25063 70.5px,#d86348 73.5px,#ea7730 75.5px,#f5952a 78.5px,#fbbe54 82.5px,#fdd37b 84.5px,#fffbeb 88.5px,#fffefb 89.5px,#fffef9 90.5px,#fff9e4 91.5px,#fcc663 95.5px,#f9aa3b 97.5px,#f6982d 98.5px,#f1872b 99.5px,#e87633 100.5px,#c8545d 102.5px,#a6427b 104.5px,#8f388b 105.5px,#6c298d 107.5px,#5c2382 108.5px,#280f3d 112.5px,#11071c 115.5px,#010002 120.5px,#000000 121.5px)"></i><i style="background:linear-gradient(90deg,#100619 0.5px,#180926 28.5px,#2f1248 44.5px,#531f77 55.5px,#67278c 59.5px,#8a358e 65.5px,#bd4e67 71.5px,#d25b52 74.5px,#eb792f 77.5px,#f6972b 80.5px,#fcc057 84.5px,#fdd580 86.5px,#fffcf0 90.5px,#fffefc 91.5px,#fffdf5 92.5px,#fff7dc 93.5px,#fdd075 96.5px,#fab345 98.5px,#f8a233 99.5px,#f38f2b 100.5px,#ec7c2f 101.5px,#cb565a 103.5px,#a5427c 105.5px,#8d368c 106.5px,#66278a 108.5px,#361452 111.5px,#180926 114.5px,#030104 119.5px,#000000 121.5px)"></i><i style="background:linear-gradient(90deg,#0f0618 0.5px,#170925 29.5px,#2f1147 45.5px,#55207a 57.5px,#69288d 61.5px,#8c368d 67.5px,#be4e66 73.5px,#d35d50 76.5px,#ec7a2e 79.5px,#f6982c 82.5px,#fcc159 86.5px,#fee29d 89.5px,#fff7da 91.5px,#fffcf2 92.5px,#fffefc 93.5px,#fffcf2 94.5px,#fff5d6 95.5px,#fccc6d 98.5px,#f9ad3e 100.5px,#f69a2e 101.5px,#f0862b 102.5px,#e47138 103.5px,#d15b52 104.5px,#a84379 106.5px,#8d378b 107.5px,#762d8e 108.5px,#622587 109.5px,#301249 112.5px,#13081f 115.5px,#030105 119.5px,#000000 121.5px)"></i><i style="background:linear-gradient(90deg,#0f0618 0.5px,#170925 30.5px,#2e1146 46.5px,#531f77 58.5px,#66278c 62.5px,#8e378c 69.5px,#bf4f66 75.5px,#d45d4f 78.5px,#ec7b2e 81.5px,#f6982c 84.5px,#fcc15a 88.5px,#fee39e 91.5px,#fff7dc 93.5px,#fffdf3 94.5px,#fffefb 95.5px,#fffcef 96.5px,#fee8ac 98.5px,#fcc867 100.5px,#f8a738 102.5px,#f4922c 103.5px,#ec7d30 104.5px,#c6535f 106.5px,#923988 108.5px,#772e8e 109.5px,#612586 110.5px,#2b1042 113.5px,#0f0619 116.5px,#010002 120.5px,#000000 121.5px)"></i><i style="background:linear-gradient(90deg,#0f0618 0.5px,#160924 30.5px,#2b1042 46.5px,#511e74 59.5px,#68278c 64.5px,#89358e 70.5px,#c04f65 77.5px,#d45e4f 80.5px,#ec7b2e 83.5px,#f6982c 86.5px,#fcc159 90.5px,#fdd783 92.5px,#fffcf3 96.5px,#fffefb 97.5px,#fffbee 98.5px,#fee7aa 100.5px,#fcc764 102.5px,#f8a235 104.5px,#f28c2c 105.5px,#e67437 106.5px,#d15c52 107.5px,#9c3d82 109.5px,#7d308e 110.5px,#632686 111.5px,#371453 113.5px,#1b0b2b 115.5px,#07030c 118.5px,#000000 121.5px)"></i><i style="background:linear-gradient(90deg,#0f0618 0.5px,#160923 31.5px,#2b1041 47.5px,#4f1d71 60.5px,#69288d 66.5px,#8a358e 72.5px,#bf4f65 79.5px,#d35d50 82.5px,#eb7a2f 85.5px,#f5962b 88.5px,#fbb649 91.5px,#fcc968 93.5px,#feebb6 96.5px,#fffcef 98.5px,#fffefa 99.5px,#fffcf0 100.5px,#fff4d3 101.5px,#fcc764 104.5px,#f7a034 106.5px,#f0872d 107.5px,#e06d3e 108.5px,#ac4576 110.5px,#89358a 111.5px,#6a2889 112.5px,#381553 114.5px,#180a27 116.5px,#050208 119.5px,#000000 121.5px)"></i><i style="background:linear-gradient(90deg,#0f0617 0.5px,#160923 32.5px,#2c1043 49.5px,#501e73 62.5px,#66278c 67.5px,#8a358e 74.5px,#c45161 82.5px,#da6447 85.5px,#ea7731 87.5px,#f5932b 90.5px,#fab345 93.5px,#fcc662 95.5px,#fee8ac 98.5px,#fffae8 100.5px,#fffef8 101.5px,#fffdf5 102.5px,#fff7dc 103.5px,#fcca6a 106.5px,#fab74b 107.5px,#f7a135 108.5px,#ef862f 109.5px,#dd6943 110.5px,#9e3f7e 112.5px,#782e8c 113.5px,#57217a 114.5px,#260e3a 116.5px,#0d0515 118.5px,#000001 121.5px)"></i><i style="background:linear-gradient(90deg,#0f0617 0.5px,#160923 33.5px,#2b1042 50.5px,#521f75 64.5px,#67278c 69.5px,#8a358e 76.5px,#c35062 84.5px,#d7614b 87.5px,#ed7c2d 90.5px,#f6992d 93.5px,#fbb84a 96.5px,#fccb6b 98.5px,#feecba 101.5px,#fffcf0 103.5px,#fffdf8 104.5px,#fffaea 105.5px,#fef1ca 106.5px,#fbbe56 109.5px,#f8a63b 110.5px,#f08b31 111.5px,#dd6b43 112.5px,#be5064 113.5px,#953b82 114.5px,#6a2885 115.5px,#451a64 116.5px,#290f3e 117.5px,#160923 118.5px,#040206 120.5px,#010001 121.5px)"></i><i style="background:linear-gradient(90deg,#0f0618 0.5px,#150922 33.5px,#290f3f 50.5px,#4f1e72 65.5px,#67278c 71.5px,#89358e 78.5px,#c65260 87.5px,#e26d3b 91.5px,#f1882a 94.5px,#f8a636 97.5px,#fcc25b 100.5px,#fdd784 102.5px,#fff6d9 105.5px,#fffcef 106.5px,#fffdf5 107.5px,#fff9e5 108.5px,#feefc4 109.5px,#fccc70 111.5px,#fab54d 112.5px,#f49937 113.5px,#e3763e 114.5px,#c2555e 115.5px,#913980 116.5px,#5d2379 117.5px,#32134b 118.5px,#160923 119.5px,#08030d 120.5px,#010002 121.5px)"></i><i style="background:linear-gradient(90deg,#0f0618 0.5px,#150922 34.5px,#2a1041 52.5px,#501e73 67.5px,#67278c 73.5px,#8d378c 81.5px,#c7535e 90.5px,#e97632 95.5px,#f4902b 98.5px,#f9ad3e 101.5px,#fcc866 104.5px,#fee7ac 107.5px,#fff8e0 109.5px,#fffbee 110.5px,#fffaea 111.5px,#fff3d3 112.5px,#fdd382 114.5px,#fab858 115.5px,#ef9543 116.5px,#d36d50 117.5px,#9c426f 118.5px,#542066 119.5px,#1b0a2a 120.5px,#040106 121.5px)"></i><i style="background:linear-gradient(90deg,#0f0618 0.5px,#150922 35.5px,#2a1040 53.5px,#511e74 69.5px,#67278c 75.5px,#8a358e 83.5px,#c65260 93.5px,#e57137 98.5px,#f1892b 101.5px,#f7a234 104.5px,#fcc35d 108.5px,#fddc93 111.5px,#feecbf 113.5px,#fef1cf 114.5px,#fff4d4 115.5px,#fef1cc 116.5px,#fee9b7 117.5px,#fcd89a 118.5px,#f1b886 119.5px,#c08685 120.5px,#614a54 121.5px)"></i><i style="background:linear-gradient(90deg,#0f0619 0.5px,#150922 36.5px,#29103f 54.5px,#511e74 71.5px,#69288d 78.5px,#8f388b 87.5px,#c25064 96.5px,#e06b3e 102.5px,#f1892c 107.5px,#f7a23a 113.5px,#f29b45 116.5px,#eb914a 117.5px,#dc8055 118.5px,#ba6562 119.5px,#7b3c54 120.5px,#1e0c22 121.5px)"></i><i style="background:linear-gradient(90deg,#10061a 0.5px,#150821 36.5px,#280f3e 55.5px,#511e74 73.5px,#67278c 80.5px,#8c368c 90.5px,#bf4f66 101.5px,#d05c52 110.5px,#c4545e 113.5px,#ab4574 115.5px,#953b7f 116.5px,#772e81 117.5px,#511f6e 118.5px,#2b1042 119.5px,#100619 120.5px,#020104 121.5px)"></i><i style="background:linear-gradient(90deg,#11071a 0.5px,#150821 37.5px,#280f3d 56.5px,#531f77 76.5px,#68278c 83.5px,#8d368c 95.5px,#a6427b 105.5px,#9e3e80 109.5px,#86348b 112.5px,#6b2988 114.5px,#59227b 115.5px,#1d0b2e 118.5px,#06020a 120.5px,#010001 121.5px)"></i><i style="background:linear-gradient(90deg,#11071c 0.5px,#150822 38.5px,#290f3f 58.5px,#59227e 81.5px,#6b298d 88.5px,#82328f 102.5px,#762d8e 108.5px,#612585 111.5px,#3e175d 114.5px,#0f0619 118.5px,#000001 121.5px)"></i><i style="background:linear-gradient(90deg,#12071d 0.5px,#150821 38.5px,#270f3c 58.5px,#66278b 91.5px,#6c298d 102.5px,#5e2484 107.5px,#431962 111.5px,#100619 117.5px,#020103 120.5px,#000000 121.5px)"></i><i style="background:linear-gradient(90deg,#13081f 0.5px,#150821 39.5px,#280f3d 60.5px,#5d2383 93.5px,#5a227f 102.5px,#431963 108.5px,#0b0412 117.5px,#000000 121.5px)"></i><i style="background:linear-gradient(90deg,#150821 0.5px,#140821 39.5px,#260e3a 60.5px,#511e74 91.5px,#4f1d71 100.5px,#391556 107.5px,#050208 118.5px,#000000 121.5px)"></i><i style="background:linear-gradient(90deg,#160924 0.5px,#140820 39.5px,#240e37 60.5px,#481b69 90.5px,#431963 100.5px,#2a1041 108.5px,#040207 118.5px,#000000 121.5px)"></i><i style="background:linear-gradient(90deg,#190a28 0.5px,#140820 39.5px,#230e37 61.5px,#411860 89.5px,#3c1659 99.5px,#270f3b 107.5px,#030105 118.5px,#000000 121.5px)"></i><i style="background:linear-gradient(90deg,#1d0b2d 0.5px,#14081f 37.5px,#210d33 60.5px,#3b1658 88.5px,#351350 99.5px,#1d0b2d 108.5px,#010102 119.5px,#000000 121.5px)"></i><i style="background:linear-gradient(90deg,#220d35 0.5px,#140820 36.5px,#1f0c31 60.5px,#361452 88.5px,#2f1247 99.5px,#010002 119.5px,#000000 121.5px)"></i><i style="background:linear-gradient(90deg,#290f3f 0.5px,#140821 33.5px,#1b0b2b 57.5px,#32134c 87.5px,#2a1040 99.5px,#010002 119.5px,#000000 121.5px)"></i><i style="background:linear-gradient(90deg,#32134c 0.5px,#230d36 16.5px,#150822 33.5px,#1a0a2a 57.5px,#2e1147 87.5px,#260e3a 99.5px,#010001 119.5px,#000000 121.5px)"></i><i style="background:linear-gradient(90deg,#40185f 0.5px,#31124b 12.5px,#180a26 29.5px,#160924 50.5px,#2b1042 87.5px,#200c32 100.5px,#010001 119.5px,#000000 121.5px)"></i><i style="background:linear-gradient(90deg,#56207a 0.5px,#471a68 9.5px,#1e0c30 26.5px,#150822 41.5px,#1f0c31 67.5px,#280f3e 88.5px,#1b0b2b 101.5px,#010001 119.5px,#000000 121.5px)"></i><i style="background:linear-gradient(90deg,#752d8e 0.5px,#642688 8.5px,#2b1041 23.5px,#180a27 34.5px,#170925 54.5px,#260e3a 87.5px,#190a28 101.5px,#010001 119.5px,#000000 121.5px)"></i><i style="background:linear-gradient(90deg,#a5427b 0.5px,#943a86 6.5px,#712b8d 12.5px,#58217d 16.5px,#31124a 24.5px,#1b0b2b 34.5px,#160923 51.5px,#230d37 87.5px,#160923 102.5px,#010001 119.5px,#000000 121.5px)"></i><i style="background:linear-gradient(90deg,#d86349 0.5px,#c9565b 6.5px,#a94478 11.5px,#81328d 15.5px,#68278a 18.5px,#391555 25.5px,#200c32 33.5px,#160923 45.5px,#210d33 88.5px,#0f0618 106.5px,#000000 120.5px,#000000 121.5px)"></i><i style="background:linear-gradient(90deg,#f69e34 0.5px,#f28c2e 6.5px,#e77836 9.5px,#c15063 14.5px,#903888 18.5px,#6d2a8c 21.5px,#4a1c6c 25.5px,#2c1042 31.5px,#190a29 40.5px,#180926 59.5px,#1f0c30 87.5px,#0e0616 106.5px,#000000 121.5px)"></i><i style="background:linear-gradient(90deg,#fdd480 0.5px,#fccd71 4.5px,#f9ac3e 10.5px,#f28e2e 13.5px,#e67637 15.5px,#b84b6b 19.5px,#8a358b 22.5px,#652688 25.5px,#3b1658 30.5px,#210d34 37.5px,#170925 47.5px,#1c0b2d 89.5px,#07030b 111.5px,#000000 121.5px)"></i><i style="background:linear-gradient(90deg,#fffbee 0.5px,#fff9e6 4.5px,#fef2ce 7.5px,#fdda8c 11.5px,#fab246 15.5px,#f59831 17.5px,#f0892f 18.5px,#dd6943 20.5px,#9e3e80 24.5px,#7c308e 26.5px,#622586 28.5px,#371453 33.5px,#220d34 39.5px,#170925 49.5px,#1a0b2a 89.5px,#000000 121.5px)"></i><i style="background:linear-gradient(90deg,#fee5a8 0.5px,#feebba 4.5px,#fffcf0 10.5px,#fffaeb 12.5px,#fef0c9 14.5px,#fcc35f 18.5px,#f8a63a 20.5px,#f49530 21.5px,#ed8230 22.5px,#d35f4f 24.5px,#9c3e81 27.5px,#772e8e 29.5px,#5d2382 31.5px,#391555 35.5px,#220d35 41.5px,#170925 51.5px,#180a27 90.5px,#000000 121.5px)"></i><i style="background:linear-gradient(90deg,#fab043 0.5px,#fbbb52 5.5px,#fdd078 9.5px,#fee7ae 12.5px,#fffaea 15.5px,#fffcf1 16.5px,#fffaea 17.5px,#fff4d6 18.5px,#fbbe57 22.5px,#f9ad41 23.5px,#f59a33 24.5px,#ef8530 25.5px,#d15d51 27.5px,#943a86 30.5px,#702b8d 32.5px,#4a1c6c 35.5px,#2f1248 39.5px,#1c0b2c 46.5px,#170924 61.5px,#170925 90.5px,#000000 121.5px)"></i><i style="background:linear-gradient(90deg,#e57538 0.5px,#ef852f 6.5px,#f7a136 10.5px,#fbbc53 13.5px,#fdd077 15.5px,#fff9e4 19.5px,#fffcf0 20.5px,#fffae8 21.5px,#fef1cd 22.5px,#fbc15c 25.5px,#f9ae42 26.5px,#f59932 27.5px,#ed8231 28.5px,#cb5858 30.5px,#9f3f7f 32.5px,#87348b 33.5px,#652788 35.5px,#3b1658 39.5px,#240e38 44.5px,#180926 53.5px,#150922 92.5px,#000000 121.5px)"></i><i style="background:linear-gradient(90deg,#b74a6d 0.5px,#c45360 6.5px,#e06d3e 11.5px,#f28c2e 14.5px,#f8a439 16.5px,#fbbe57 18.5px,#fdda8c 20.5px,#fff3d3 22.5px,#fffbec 23.5px,#fffbed 24.5px,#fff4d4 25.5px,#fdd37d 27.5px,#fbbf58 28.5px,#f8a93d 29.5px,#f39130 30.5px,#e77737 31.5px,#bf4f65 33.5px,#8e3789 35.5px,#792e8e 36.5px,#5a227e 38.5px,#3b1658 41.5px,#240e37 46.5px,#180926 55.5px,#140820 93.5px,#000000 121.5px)"></i><i style="background:linear-gradient(90deg,#83338d 0.5px,#903889 6.5px,#b84b6c 12.5px,#dc6843 16.5px,#ee8330 18.5px,#f4922f 19.5px,#fab246 21.5px,#fdd17a 23.5px,#fef1ca 25.5px,#fffae9 26.5px,#fffbed 27.5px,#fff2cf 28.5px,#fccd71 30.5px,#fab64c 31.5px,#f69e35 32.5px,#ed8331 33.5px,#c5545e 35.5px,#933986 37.5px,#7b2f8e 38.5px,#69288a 39.5px,#421962 42.5px,#2a1040 46.5px,#1a0a2a 53.5px,#12071d 95.5px,#000000 121.5px)"></i><i style="background:linear-gradient(90deg,#612586 0.5px,#6f2a8d 8.5px,#8b368b 13.5px,#b64a6e 17.5px,#da6646 20.5px,#ef862f 22.5px,#f59832 23.5px,#f9ab3e 24.5px,#fbbd55 25.5px,#fdcf75 26.5px,#fef2cd 28.5px,#fffbec 29.5px,#fff9e7 30.5px,#feedbf 31.5px,#fdd889 32.5px,#fbc15c 33.5px,#f8a83c 34.5px,#f18c30 35.5px,#e16f3e 36.5px,#b14872 38.5px,#953b85 39.5px,#7d308d 40.5px,#6a288a 41.5px,#421861 44.5px,#29103f 48.5px,#1a0a29 55.5px,#11071a 96.5px,#000000 121.5px)"></i><i style="background:linear-gradient(90deg,#491b6a 0.5px,#56207a 9.5px,#792e8e 16.5px,#993c83 19.5px,#c35261 22.5px,#ec8031 25.5px,#f49530 26.5px,#f8a93d 27.5px,#fbbe57 28.5px,#fdd27b 29.5px,#fff6da 31.5px,#fffbee 32.5px,#fff4d5 33.5px,#fcc96b 35.5px,#f9af44 36.5px,#f39331 37.5px,#e4743a 38.5px,#cd5a55 39.5px,#963b84 41.5px,#7c308d 42.5px,#69288a 43.5px,#40185f 46.5px,#280f3e 50.5px,#190a29 57.5px,#100619 96.5px,#000000 121.5px)"></i><i style="background:linear-gradient(90deg,#391556 0.5px,#431963 10.5px,#602485 17.5px,#81328d 21.5px,#9d3e80 23.5px,#ce5b54 26.5px,#ec8131 28.5px,#f59731 29.5px,#f9ae42 30.5px,#fcc461 31.5px,#fdda8d 32.5px,#feeec3 33.5px,#fffaea 34.5px,#fff8e3 35.5px,#fee8b2 36.5px,#fdd078 37.5px,#fab54b 38.5px,#f49733 39.5px,#e67738 40.5px,#cf5c53 41.5px,#953b85 43.5px,#7b2f8d 44.5px,#672789 45.5px,#3e175d 48.5px,#270f3c 52.5px,#190a28 59.5px,#0f0617 97.5px,#000000 121.5px)"></i><i style="background:linear-gradient(90deg,#2f1248 0.5px,#391556 12.5px,#521f75 19.5px,#702b8d 23.5px,#88358b 25.5px,#ac4576 27.5px,#d05c52 29.5px,#ef8730 31.5px,#f7a036 32.5px,#fab84e 33.5px,#fdcf76 34.5px,#fff7e0 36.5px,#fffaea 37.5px,#feedbf 38.5px,#fdd481 39.5px,#fab84f 40.5px,#f59934 41.5px,#e77838 42.5px,#ce5b54 43.5px,#933986 45.5px,#782e8d 46.5px,#642687 47.5px,#3c165a 50.5px,#260e3b 54.5px,#180a26 62.5px,#0d0515 98.5px,#000000 121.5px)"></i><i style="background:linear-gradient(90deg,#280f3d 0.5px,#32134b 14.5px,#471a68 21.5px,#6d2a8c 26.5px,#88358b 28.5px,#af4674 30.5px,#d6624b 32.5px,#e87936 33.5px,#f39331 34.5px,#f9ad42 35.5px,#fcc666 36.5px,#fff4d5 38.5px,#fffbec 39.5px,#fef0c8 40.5px,#fdd787 41.5px,#fbba52 42.5px,#f59a34 43.5px,#e67739 44.5px,#cc5a56 45.5px,#ae4674 46.5px,#8e3788 47.5px,#742d8d 48.5px,#612585 49.5px,#3a1557 52.5px,#250e39 56.5px,#180926 64.5px,#0b0512 100.5px,#000000 121.5px)"></i><i style="background:linear-gradient(90deg,#230d36 0.5px,#2b1042 15.5px,#3f175e 23.5px,#632587 28.5px,#7b2f8e 30.5px,#a1407e 32.5px,#cc5857 34.5px,#e06d3f 35.5px,#f08830 36.5px,#f7a43a 37.5px,#fbbf5a 38.5px,#fdda8e 39.5px,#fef1cc 40.5px,#fffbec 41.5px,#fef1cc 42.5px,#fdd889 43.5px,#fab951 44.5px,#f49834 45.5px,#e4743b 46.5px,#c9575a 47.5px,#a94478 48.5px,#89358a 49.5px,#702b8c 50.5px,#40185f 53.5px,#270f3c 57.5px,#180a27 64.5px,#0a040f 102.5px,#000000 121.5px)"></i><i style="background:linear-gradient(90deg,#1f0c31 0.5px,#270f3c 17.5px,#391556 25.5px,#511e74 29.5px,#712b8d 32.5px,#943a86 34.5px,#c25261 36.5px,#eb8033 38.5px,#f69d35 39.5px,#fbba52 40.5px,#fdd685 41.5px,#feefc6 42.5px,#fffbeb 43.5px,#fef1cc 44.5px,#fdd787 45.5px,#fab74f 46.5px,#f39433 47.5px,#e16f3e 48.5px,#c45360 49.5px,#a3417c 50.5px,#82328c 51.5px,#6a298a 52.5px,#3d165b 55.5px,#250e3a 59.5px,#180a26 66.5px,#08030d 104.5px,#000000 121.5px)"></i><i style="background:linear-gradient(90deg,#1c0b2d 0.5px,#240e38 19.5px,#351450 27.5px,#4a1c6c 31.5px,#6a288b 34.5px,#8b368a 36.5px,#bb4d69 38.5px,#d25f4f 39.5px,#e87936 40.5px,#f59833 41.5px,#fab64d 42.5px,#fdd480 43.5px,#feeec3 44.5px,#fffaea 45.5px,#fef0ca 46.5px,#fdd583 47.5px,#fab34a 48.5px,#f18f32 49.5px,#dc6a44 50.5px,#bd4f66 51.5px,#9b3d81 52.5px,#7b2f8d 53.5px,#642687 54.5px,#3a1557 57.5px,#240e37 61.5px,#170924 69.5px,#060209 107.5px,#000000 121.5px)"></i><i style="background:linear-gradient(90deg,#1a0a2a 0.5px,#220d35 21.5px,#31124b 29.5px,#4e1d70 34.5px,#722b8d 37.5px,#83338c 38.5px,#9b3d82 39.5px,#ce5b55 41.5px,#e4743a 42.5px,#f49532 43.5px,#fab44b 44.5px,#fdd37e 45.5px,#feeec3 46.5px,#fffaea 47.5px,#feeec4 48.5px,#fdd17b 49.5px,#f9ae44 50.5px,#ee8833 51.5px,#d6634b 52.5px,#b54a6e 53.5px,#913986 54.5px,#742c8d 55.5px,#5e2482 56.5px,#361452 59.5px,#220d35 63.5px,#160923 71.5px,#000000 121.5px)"></i><i style="background:linear-gradient(90deg,#190a28 0.5px,#200c32 23.5px,#2f1147 31.5px,#491b6b 36.5px,#6d298c 39.5px,#7e308d 40.5px,#953a85 41.5px,#ca5858 43.5px,#e2723c 44.5px,#f39332 45.5px,#fab44a 46.5px,#fdd380 47.5px,#feefc7 48.5px,#fffae9 49.5px,#feebbb 50.5px,#fccc71 51.5px,#f8a73e 52.5px,#ea7f35 53.5px,#ce5c54 54.5px,#ab4576 55.5px,#88358a 56.5px,#6c298b 57.5px,#481b69 59.5px,#2d1144 62.5px,#1c0b2c 67.5px,#10071a 86.5px,#000000 121.5px)"></i><i style="background:linear-gradient(90deg,#180a27 0.5px,#1e0c30 25.5px,#2c1144 33.5px,#461a66 38.5px,#69288a 41.5px,#7a2f8e 42.5px,#913987 43.5px,#ad4575 44.5px,#c8565b 45.5px,#e1703d 46.5px,#f39332 47.5px,#fab54c 48.5px,#fdd584 49.5px,#fef1cd 50.5px,#fff9e7 51.5px,#fee7af 52.5px,#fcc565 53.5px,#f69f38 54.5px,#e4753b 55.5px,#c5555e 56.5px,#a0407d 57.5px,#7e308d 58.5px,#652687 59.5px,#431962 61.5px,#2a1041 64.5px,#190a28 70.5px,#000000 121.5px)"></i><i style="background:linear-gradient(90deg,#180a26 0.5px,#1d0b2e 27.5px,#2e1146 36.5px,#431963 40.5px,#662788 43.5px,#772e8e 44.5px,#8e3788 45.5px,#ab4576 46.5px,#c7565c 47.5px,#e1713d 48.5px,#f39433 49.5px,#fab74f 50.5px,#fdd98c 51.5px,#fff3d4 52.5px,#fff8e2 53.5px,#fee1a0 54.5px,#fbbd58 55.5px,#f39534 56.5px,#dd6b43 57.5px,#bb4d68 58.5px,#953a84 59.5px,#752d8d 60.5px,#5d2381 61.5px,#3e175c 63.5px,#280f3d 66.5px,#180a26 72.5px,#000000 121.5px)"></i><i style="background:linear-gradient(90deg,#180a26 0.5px,#1c0b2c 29.5px,#2c1144 38.5px,#411860 42.5px,#642687 45.5px,#752d8d 46.5px,#8c3789 47.5px,#aa4477 48.5px,#c8565b 49.5px,#e2723c 50.5px,#f49734 51.5px,#fbbb54 52.5px,#fddd96 53.5px,#fff6dc 54.5px,#fff5d9 55.5px,#fdd98e 56.5px,#fab34b 57.5px,#ef8934 58.5px,#d4614d 59.5px,#af4773 60.5px,#893589 61.5px,#6c298a 62.5px,#451a66 64.5px,#2b1041 67.5px,#1a0a29 72.5px,#000001 118.5px,#000000 121.5px)"></i><i style="background:linear-gradient(90deg,#180a26 0.5px,#1b0b2b 31.5px,#2b1042 40.5px,#3f175e 44.5px,#632586 47.5px,#742d8d 48.5px,#8c3689 49.5px,#aa4477 50.5px,#c9575a 51.5px,#e4753b 52.5px,#f59b36 53.5px,#fbbf5b 54.5px,#fee2a3 55.5px,#fff8e2 56.5px,#fef1cc 57.5px,#fdd17c 58.5px,#f8a940 59.5px,#e87d37 60.5px,#c95859 61.5px,#a2417c 62.5px,#7d308c 63.5px,#632686 64.5px,#40185f 66.5px,#280f3d 69.5px,#170925 75.5px,#000000 120.5px,#000000 121.5px)"></i><i style="background:linear-gradient(90deg,#180a27 0.5px,#1a0a2a 33.5px,#2a1040 42.5px,#3e175d 46.5px,#622586 49.5px,#742c8d 50.5px,#8d3789 51.5px,#ac4576 52.5px,#cb5957 53.5px,#e67839 54.5px,#f69f39 55.5px,#fcc565 56.5px,#fee7b2 57.5px,#fff9e5 58.5px,#feebbb 59.5px,#fcc769 60.5px,#f59d38 61.5px,#e0703f 62.5px,#bd4f66 63.5px,#953a84 64.5px,#732c8c 65.5px,#481b69 67.5px,#2b1041 70.5px,#190a28 75.5px,#020103 112.5px,#000000 121.5px)"></i><i style="background:linear-gradient(90deg,#190a28 0.5px,#1a0a29 35.5px,#29103f 44.5px,#3d175c 48.5px,#622585 51.5px,#742d8d 52.5px,#8e3788 53.5px,#ae4674 54.5px,#ce5c54 55.5px,#e97d36 56.5px,#f7a53d 57.5px,#fccb71 58.5px,#feedc1 59.5px,#fff8e4 60.5px,#fee3a7 61.5px,#fbbc58 62.5px,#f19035 63.5px,#d6654a 64.5px,#af4772 65.5px,#883589 66.5px,#692889 67.5px,#421861 69.5px,#280f3d 72.5px,#180926 77.5px,#010001 116.5px,#000000 121.5px)"></i><i style="background:linear-gradient(90deg,#1a0a29 0.5px,#190a28 37.5px,#280f3e 46.5px,#3d165b 50.5px,#622585 53.5px,#752d8d 54.5px,#903887 55.5px,#b14871 56.5px,#d25f50 57.5px,#ec8335 58.5px,#f8ac43 59.5px,#fdd27f 60.5px,#fef2cf 61.5px,#fff6dc 62.5px,#fdda90 63.5px,#f9b049 64.5px,#eb8237 65.5px,#cb5a57 66.5px,#a2407c 67.5px,#7b2f8c 68.5px,#602483 69.5px,#3d165a 71.5px,#250e39 74.5px,#160924 79.5px,#000001 117.5px,#000000 121.5px)"></i><i style="background:linear-gradient(90deg,#1b0b2a 0.5px,#180a27 38.5px,#250e39 47.5px,#351451 51.5px,#531f76 54.5px,#632586 55.5px,#772e8d 56.5px,#933a85 57.5px,#b54a6e 58.5px,#d6634b 59.5px,#ef8a34 60.5px,#f9b34b 61.5px,#fdda90 62.5px,#fff5da 63.5px,#fef1ce 64.5px,#fcd07a 65.5px,#f7a43e 66.5px,#e3753d 67.5px,#be5064 68.5px,#943a84 69.5px,#712b8b 70.5px,#451a65 72.5px,#280f3d 75.5px,#170924 80.5px,#030104 110.5px,#000000 121.5px)"></i><i style="background:linear-gradient(90deg,#1c0b2d 0.5px,#170926 39.5px,#220d35 48.5px,#351450 53.5px,#531f77 56.5px,#642686 57.5px,#792e8d 58.5px,#963b84 59.5px,#b94c6a 60.5px,#da6846 61.5px,#f19134 62.5px,#faba55 63.5px,#fee1a2 64.5px,#fff8e1 65.5px,#feebbc 66.5px,#fbc566 67.5px,#f39738 68.5px,#d96847 69.5px,#b04871 70.5px,#873489 71.5px,#672787 72.5px,#3f175d 74.5px,#250e39 77.5px,#150922 82.5px,#020103 112.5px,#000000 121.5px)"></i><i style="background:linear-gradient(90deg,#1e0c2f 0.5px,#170925 41.5px,#210d34 50.5px,#351450 55.5px,#541f77 58.5px,#652687 59.5px,#7b2f8d 60.5px,#9a3d81 61.5px,#be5065 62.5px,#de6e41 63.5px,#f49837 64.5px,#fbc261 65.5px,#fee8b3 66.5px,#fff8e1 67.5px,#fee3a7 68.5px,#fab955 69.5px,#ee8937 70.5px,#ce5d53 71.5px,#a3417b 72.5px,#7b2f8c 73.5px,#5e2481 74.5px,#3a1556 76.5px,#220d35 79.5px,#140820 84.5px,#020102 113.5px,#000000 121.5px)"></i><i style="background:linear-gradient(90deg,#200c32 0.5px,#170924 42.5px,#210d33 52.5px,#351450 57.5px,#542078 60.5px,#662788 61.5px,#7d308c 62.5px,#9e3f7f 63.5px,#c25360 64.5px,#e2743d 65.5px,#f69f3b 66.5px,#fcca6f 67.5px,#feedc3 68.5px,#fff6db 69.5px,#fdda91 70.5px,#f8ad47 71.5px,#e77c3b 72.5px,#c25460 73.5px,#963b82 74.5px,#702b8a 75.5px,#421962 77.5px,#2c1143 79.5px,#180a27 83.5px,#0a040f 97.5px,#000000 121.5px)"></i><i style="background:linear-gradient(90deg,#220d36 0.5px,#160923 42.5px,#1e0c30 53.5px,#2f1147 58.5px,#471a68 61.5px,#682788 63.5px,#80318c 64.5px,#a2407c 65.5px,#c7565c 66.5px,#e67a3a 67.5px,#f7a640 68.5px,#fcd17e 69.5px,#fef2d0 70.5px,#fff2d1 71.5px,#fcd07d 72.5px,#f6a13e 73.5px,#df7042 74.5px,#b64b6c 75.5px,#893688 76.5px,#672787 77.5px,#3d175b 79.5px,#220d35 82.5px,#13081f 87.5px,#020104 111.5px,#000000 121.5px)"></i><i style="background:linear-gradient(90deg,#250e3a 0.5px,#150922 43.5px,#1e0c2f 55.5px,#2f1147 60.5px,#471b68 63.5px,#692889 65.5px,#83328b 66.5px,#a54279 67.5px,#cb5a57 68.5px,#e98038 69.5px,#f8ad46 70.5px,#fdd88d 71.5px,#fff5d7 72.5px,#feedc3 73.5px,#fcc76b 74.5px,#f2963a 75.5px,#d6664b 76.5px,#aa4575 77.5px,#7f318a 78.5px,#5f2481 79.5px,#381554 81.5px,#200c31 84.5px,#10071a 90.5px,#010001 115.5px,#000000 121.5px)"></i><i style="background:linear-gradient(90deg,#290f3e 0.5px,#150822 43.5px,#1c0b2c 56.5px,#2e1146 62.5px,#471b68 65.5px,#6a2889 67.5px,#85338a 68.5px,#a94477 69.5px,#cf5d53 70.5px,#ec8537 71.5px,#f9b34d 72.5px,#fddd9a 73.5px,#fff6db 74.5px,#fee8b5 75.5px,#fabe5d 76.5px,#ee8b39 77.5px,#cd5d54 78.5px,#9f3f7c 79.5px,#752d8a 80.5px,#58217b 81.5px,#34134f 83.5px,#1d0b2e 86.5px,#0e0616 93.5px,#000000 118.5px,#000000 121.5px)"></i><i style="background:linear-gradient(90deg,#2c1144 0.5px,#1c0b2c 26.5px,#150822 49.5px,#1d0b2e 59.5px,#2e1146 64.5px,#471b68 67.5px,#6b298a 69.5px,#873489 70.5px,#ab4575 71.5px,#d2604f 72.5px,#ee8a37 73.5px,#fab854 74.5px,#fee2a5 75.5px,#fff6db 76.5px,#fee2a7 77.5px,#f9b653 78.5px,#e9823b 79.5px,#c4565d 80.5px,#953b82 81.5px,#6d2a88 82.5px,#521f74 83.5px,#31124a 85.5px,#1b0b2b 88.5px,#0c0513 96.5px,#000000 120.5px,#000000 121.5px)"></i><i style="background:linear-gradient(90deg,#31124a 0.5px,#220d35 22.5px,#150821 44.5px,#190a29 59.5px,#290f3e 65.5px,#3c1659 68.5px,#57217b 70.5px,#6b2989 71.5px,#883589 72.5px,#ad4673 73.5px,#d3634d 74.5px,#ef8d38 75.5px,#fabc5a 76.5px,#fee5ae 77.5px,#fff5d9 78.5px,#fddd9c 79.5px,#f8af4c 80.5px,#e47b3e 81.5px,#bd5164 82.5px,#8d3785 83.5px,#672785 84.5px,#4d1d6e 85.5px,#2e1145 87.5px,#190a28 90.5px,#0b0411 98.5px,#000000 121.5px)"></i><i style="background:linear-gradient(90deg,#361451 0.5px,#280f3d 19.5px,#160923 41.5px,#170925 59.5px,#240e38 66.5px,#3b1658 70.5px,#56207a 72.5px,#6b2989 73.5px,#883589 74.5px,#ad4773 75.5px,#d4644c 76.5px,#ef8f39 77.5px,#fabe5e 78.5px,#fee6b2 79.5px,#fff4d7 80.5px,#fdda95 81.5px,#f7aa48 82.5px,#e17641 83.5px,#b74d69 84.5px,#883586 85.5px,#622582 86.5px,#491b6a 87.5px,#2b1042 89.5px,#170926 92.5px,#09030e 101.5px,#000000 121.5px)"></i><i style="background:linear-gradient(90deg,#3c165a 0.5px,#2e1147 17.5px,#160924 40.5px,#160924 60.5px,#230e37 68.5px,#3a1557 72.5px,#552078 74.5px,#6a2888 75.5px,#873489 76.5px,#ac4674 77.5px,#d3634d 78.5px,#ef8e3a 79.5px,#fabe5f 80.5px,#fee7b3 81.5px,#fff4d4 82.5px,#fdd892 83.5px,#f6a848 84.5px,#df7343 85.5px,#b34b6c 86.5px,#843387 87.5px,#5f2480 88.5px,#461a66 89.5px,#290f3f 91.5px,#160923 94.5px,#08030c 103.5px,#000000 121.5px)"></i><i style="background:linear-gradient(90deg,#441964 0.5px,#361452 15.5px,#180926 39.5px,#150821 60.5px,#200c31 69.5px,#31124a 73.5px,#431963 75.5px,#672787 77.5px,#833389 78.5px,#a94476 79.5px,#d16150 80.5px,#ed8b3b 81.5px,#fabb5c 82.5px,#fee5af 83.5px,#fff3d3 84.5px,#fdd994 85.5px,#f6a849 86.5px,#df7444 87.5px,#b34b6c 88.5px,#833386 89.5px,#5e247e 90.5px,#441964 91.5px,#270f3d 93.5px,#150822 96.5px,#07030a 105.5px,#000000 121.5px)"></i><i style="background:linear-gradient(90deg,#4d1d70 0.5px,#3e175d 14.5px,#190a27 39.5px,#140820 60.5px,#1c0b2d 70.5px,#2f1248 75.5px,#411860 77.5px,#632684 79.5px,#7e318a 80.5px,#a3417a 81.5px,#cc5d55 82.5px,#ea853c 83.5px,#f9b655 84.5px,#fde1a5 85.5px,#fff3d2 86.5px,#fddd9d 87.5px,#f7ad4f 88.5px,#e17843 89.5px,#b64e69 90.5px,#853485 91.5px,#5f247e 92.5px,#441964 93.5px,#270f3b 95.5px,#140820 98.5px,#060209 107.5px,#000000 121.5px)"></i><i style="background:linear-gradient(90deg,#59227e 0.5px,#4b1c6d 12.5px,#1c0b2d 37.5px,#13081e 56.5px,#190a29 71.5px,#280f3d 76.5px,#3e175c 79.5px,#5e2480 81.5px,#772e8a 82.5px,#9a3d7f 83.5px,#c3565e 84.5px,#e57c3f 85.5px,#f7ac4c 86.5px,#fdd995 87.5px,#fef1ce 88.5px,#fee3ac 89.5px,#f9b65a 90.5px,#e58042 91.5px,#bd5362 92.5px,#8c3782 93.5px,#632680 94.5px,#461a66 95.5px,#270f3c 97.5px,#14081f 100.5px,#060209 108.5px,#000000 121.5px)"></i><i style="background:linear-gradient(90deg,#67278c 0.5px,#5b2281 10.5px,#220d34 35.5px,#140820 51.5px,#160923 70.5px,#220d35 77.5px,#31124b 80.5px,#461a66 82.5px,#6e2a88 84.5px,#8e3884 85.5px,#b64d6a 86.5px,#db6f46 87.5px,#f39d43 88.5px,#fccd7c 89.5px,#feedc3 90.5px,#feeabd 91.5px,#fbc571 92.5px,#ec8f44 93.5px,#ca5f57 94.5px,#983d7c 95.5px,#6b2982 96.5px,#4c1c6c 97.5px,#280f3e 99.5px,#13081f 102.5px,#050208 110.5px,#000000 121.5px)"></i><i style="background:linear-gradient(90deg,#762d8e 0.5px,#64268a 12.5px,#280f3e 33.5px,#160923 47.5px,#13081f 68.5px,#1d0b2e 78.5px,#2e1146 82.5px,#40185e 84.5px,#632683 86.5px,#7f3188 87.5px,#a44278 88.5px,#cd5f54 89.5px,#ea8941 90.5px,#f9b95e 91.5px,#fde2a9 92.5px,#feefc7 93.5px,#fdd794 94.5px,#f4a650 95.5px,#d9724b 96.5px,#ac496e 97.5px,#7c3082 98.5px,#562075 99.5px,#3c1659 100.5px,#200c32 102.5px,#10061a 105.5px,#030105 113.5px,#000000 121.5px)"></i><i style="background:linear-gradient(90deg,#8a358d 0.5px,#762d8e 11.5px,#5e2485 18.5px,#2d1144 33.5px,#170925 47.5px,#12071d 69.5px,#1b0b2b 80.5px,#2a1040 84.5px,#451a65 87.5px,#6d2a87 89.5px,#8e3883 90.5px,#b54d6a 91.5px,#da7049 92.5px,#f19c47 93.5px,#fbcb7d 94.5px,#feeabb 95.5px,#fee8b7 96.5px,#fac576 97.5px,#ea904b 98.5px,#c76058 99.5px,#973d79 100.5px,#6a287e 101.5px,#491b68 102.5px,#250e38 104.5px,#11071a 107.5px,#030106 114.5px,#000000 121.5px)"></i><i style="background:linear-gradient(90deg,#a6427b 0.5px,#963b87 8.5px,#762d8e 16.5px,#602486 21.5px,#2f1247 34.5px,#180a26 47.5px,#11071c 69.5px,#190a28 82.5px,#2b1041 87.5px,#481b69 90.5px,#742c87 92.5px,#963c7e 93.5px,#bd5462 94.5px,#df7847 95.5px,#f3a550 96.5px,#fcd28b 97.5px,#feeaba 98.5px,#fde2ab 99.5px,#f8bc6e 100.5px,#e4884e 101.5px,#bf5a5e 102.5px,#8e397a 103.5px,#622578 104.5px,#431961 105.5px,#210d33 107.5px,#0e0617 110.5px,#020103 117.5px,#000000 121.5px)"></i><i style="background:linear-gradient(90deg,#c14f64 0.5px,#b4496f 8.5px,#85338e 17.5px,#65268a 23.5px,#34134f 34.5px,#190a28 47.5px,#11071b 68.5px,#170925 84.5px,#250e39 89.5px,#3b1657 92.5px,#5a227a 94.5px,#722c85 95.5px,#933b7e 96.5px,#b95264 97.5px,#da754b 98.5px,#f09f51 99.5px,#fbcb83 100.5px,#fee5af 101.5px,#fde2aa 102.5px,#f9c37d 103.5px,#e79157 104.5px,#c4635c 105.5px,#963f72 106.5px,#692876 107.5px,#461a63 108.5px,#2f1247 109.5px,#170924 111.5px,#07030b 115.5px,#000000 121.5px)"></i><i style="background:linear-gradient(90deg,#db6545 0.5px,#cc5758 8.5px,#af4674 15.5px,#89358d 20.5px,#632689 26.5px,#34134f 36.5px,#1a0a29 48.5px,#10071a 68.5px,#160924 87.5px,#230d36 92.5px,#361452 95.5px,#511e72 97.5px,#662780 98.5px,#833381 99.5px,#a54571 100.5px,#c76159 101.5px,#e3864f 102.5px,#f4af68 103.5px,#fcd393 104.5px,#fee1a4 105.5px,#fcd697 106.5px,#f2b47a 107.5px,#da8561 108.5px,#b55b63 109.5px,#89396c 110.5px,#5e246b 111.5px,#3d1757 112.5px,#270f3c 113.5px,#11071c 115.5px,#030104 119.5px,#000000 121.5px)"></i><i style="background:linear-gradient(90deg,#f1882a 0.5px,#e97733 8.5px,#bd4e68 17.5px,#8a358d 23.5px,#67278b 28.5px,#371453 37.5px,#1c0b2c 48.5px,#10071a 66.5px,#140820 89.5px,#1f0c31 95.5px,#361451 99.5px,#501e6f 101.5px,#63267c 102.5px,#7d317e 103.5px,#b95861 105.5px,#d37759 106.5px,#e89b65 107.5px,#f5bb82 108.5px,#fbd08c 109.5px,#fcd389 110.5px,#f7c284 111.5px,#e5a685 112.5px,#a45a66 114.5px,#7d3b59 115.5px,#552254 116.5px,#321345 117.5px,#1b0a2a 118.5px,#0d0515 119.5px,#010002 121.5px)"></i><i style="background:linear-gradient(90deg,#f9ad3f 0.5px,#f79f32 7.5px,#f0852b 12.5px,#de6940 16.5px,#bb4c69 21.5px,#89358d 26.5px,#622589 31.5px,#361452 39.5px,#1c0b2d 49.5px,#10061a 66.5px,#13071e 92.5px,#1f0c31 100.5px,#34134e 104.5px,#562171 107.5px,#7c3173 109.5px,#a55065 111.5px,#b66567 112.5px,#c47b74 113.5px,#cd8d8a 114.5px,#d99879 116.5px,#d68f78 117.5px,#c37c74 118.5px,#a56357 119.5px,#7b3f40 120.5px,#2b1227 121.5px)"></i><i style="background:linear-gradient(90deg,#fdd076 0.5px,#fcc662 6.5px,#f8a536 13.5px,#f0852b 17.5px,#de6941 20.5px,#bc4d68 24.5px,#8f388a 28.5px,#6b298d 32.5px,#391556 40.5px,#1d0b2e 50.5px,#10061a 66.5px,#11071b 96.5px,#200c32 109.5px,#250e38 114.5px,#1b0a2a 117.5px,#010102 121.5px)"></i><i style="background:linear-gradient(90deg,#fff3d0 0.5px,#feedbd 5.5px,#fdd580 11.5px,#f9ab3c 17.5px,#f38d2b 20.5px,#ea7832 22.5px,#c45161 26.5px,#89358d 31.5px,#65268a 35.5px,#381554 42.5px,#1e0c2e 51.5px,#10071a 66.5px,#0f0618 105.5px,#0a0410 115.5px,#000000 121.5px)"></i><i style="background:linear-gradient(90deg,#fffefc 0.5px,#fffef8 7.5px,#fffae7 10.5px,#feeebe 13.5px,#fbbe55 19.5px,#f79f32 22.5px,#f1872b 24.5px,#e26d3c 26.5px,#c14f64 29.5px,#8d368c 33.5px,#65268a 37.5px,#371452 44.5px,#1c0b2d 53.5px,#0f0619 69.5px,#07030b 113.5px,#000000 121.5px)"></i><i style="background:linear-gradient(90deg,#fff8dd 0.5px,#fffcf0 8.5px,#fffefb 13.5px,#fffcf0 15.5px,#fff3d1 17.5px,#fcc560 22.5px,#f7a234 25.5px,#f0862b 27.5px,#de6940 29.5px,#bb4d69 32.5px,#8f388a 35.5px,#6d2a8d 38.5px,#531f77 41.5px,#31124a 47.5px,#190a28 56.5px,#0d0515 76.5px,#030105 115.5px,#000000 121.5px)"></i><i style="background:linear-gradient(90deg,#fee9ae 0.5px,#feefbe 7.5px,#fffefb 17.5px,#fffdf5 19.5px,#fffae8 20.5px,#feebb6 22.5px,#fcc866 25.5px,#f7a033 28.5px,#ee812d 30.5px,#d86249 32.5px,#a1407f 36.5px,#83328e 38.5px,#632689 41.5px,#371454 47.5px,#1d0b2e 55.5px,#100619 69.5px,#000000 121.5px)"></i><i style="background:linear-gradient(90deg,#fdda89 0.5px,#fee098 8.5px,#feeebc 14.5px,#fffdf5 20.5px,#fffefa 22.5px,#fffcf2 23.5px,#fff7dd 24.5px,#fcc764 28.5px,#f9ab3c 30.5px,#f2892b 32.5px,#ea7932 33.5px,#ce5956 35.5px,#91388a 39.5px,#6b298c 42.5px,#3a1558 48.5px,#1e0c2f 56.5px,#100619 69.5px,#000000 121.5px)"></i><i style="background:linear-gradient(90deg,#fdcd6e 0.5px,#fdd37b 9.5px,#fee099 15.5px,#fff2ca 20.5px,#fffdf8 24.5px,#fffefb 25.5px,#fffdf5 26.5px,#fff8e0 27.5px,#fdd279 30.5px,#fab346 32.5px,#f8a335 33.5px,#f4902c 34.5px,#ed7e2f 35.5px,#d15b52 37.5px,#90388a 41.5px,#69288c 44.5px,#3e175c 49.5px,#210d34 56.5px,#12071d 66.5px,#000000 121.5px)"></i><i style="background:linear-gradient(90deg,#fcc45e 0.5px,#fcca69 11.5px,#fdd783 17.5px,#feeab2 22.5px,#fffdf6 27.5px,#fffefb 28.5px,#fffdf3 29.5px,#fff6db 30.5px,#fccb6c 33.5px,#f9a93b 35.5px,#f5962e 36.5px,#ef832d 37.5px,#e36f3a 38.5px,#c35162 40.5px,#8e378b 43.5px,#66278a 46.5px,#3b1658 51.5px,#1f0c31 58.5px,#11071b 69.5px,#000000 121.5px)"></i><i style="background:linear-gradient(90deg,#fcc056 0.5px,#fcc55f 14.5px,#fdd279 20.5px,#fee39e 24.5px,#fffdf7 30.5px,#fffefa 31.5px,#fffbed 32.5px,#fff2cd 33.5px,#fdd27a 35.5px,#f9ae40 37.5px,#f69a30 38.5px,#f0862c 39.5px,#e47139 40.5px,#c35162 42.5px,#8b368c 45.5px,#622588 48.5px,#381554 53.5px,#1d0b2e 60.5px,#0f0617 73.5px,#000000 121.5px)"></i><i style="background:linear-gradient(90deg,#fcbf56 0.5px,#fcc159 17.5px,#fccb6c 22.5px,#fddc8e 26.5px,#feedb9 29.5px,#fffcef 32.5px,#fffef9 33.5px,#fffdf7 34.5px,#fff7de 35.5px,#fcc561 38.5px,#fab245 39.5px,#f69d32 40.5px,#f1872c 41.5px,#e47239 42.5px,#c25063 44.5px,#9a3d83 46.5px,#87348d 47.5px,#6a288c 49.5px,#3b1658 54.5px,#210d33 60.5px,#11071b 70.5px,#000000 121.5px)"></i><i style="background:linear-gradient(90deg,#fcc159 0.5px,#fcbf55 20.5px,#fcc967 25.5px,#fddb8c 29.5px,#feeebd 32.5px,#fffdf5 35.5px,#fffefa 36.5px,#fffaea 37.5px,#feefc2 38.5px,#fcc968 40.5px,#fab548 41.5px,#f79f33 42.5px,#f1882c 43.5px,#e4713a 44.5px,#bf4f65 46.5px,#953a86 48.5px,#732c8e 50.5px,#5a227f 52.5px,#371453 56.5px,#1c0b2c 63.5px,#0d0515 77.5px,#000000 121.5px)"></i><i style="background:linear-gradient(90deg,#fcc662 0.5px,#fbbd52 22.5px,#fcc45e 27.5px,#fdd680 31.5px,#feeab0 34.5px,#fffcef 37.5px,#fffefa 38.5px,#fffcf1 39.5px,#fff2cd 40.5px,#fccb6c 42.5px,#fab64a 43.5px,#f79f33 44.5px,#f0872d 45.5px,#e26f3c 46.5px,#ce5a55 47.5px,#90388a 50.5px,#6e2a8d 52.5px,#552079 54.5px,#34134e 58.5px,#1a0a29 65.5px,#0c0513 80.5px,#000000 121.5px)"></i><i style="background:linear-gradient(90deg,#fdcd70 0.5px,#fcc45e 13.5px,#fbbb4f 25.5px,#fcc35c 30.5px,#fdd176 33.5px,#fee5a6 36.5px,#fffae9 39.5px,#fffef8 40.5px,#fffdf5 41.5px,#fff4d4 42.5px,#fccc6f 44.5px,#fab64a 45.5px,#f69e33 46.5px,#ef852e 47.5px,#df6b3f 48.5px,#cb5759 49.5px,#a03f7f 51.5px,#89358c 52.5px,#69288b 54.5px,#3d165b 58.5px,#200c32 64.5px,#11071b 73.5px,#010001 115.5px,#000000 121.5px)"></i></div>
<div class="h" style="left:386px;top:31px;width:124px;height:111px"><i style="background:linear-gradient(90deg,#fff8e0 0.5px,#fffcf2 10.5px,#ffffff 18.5px,#fffef8 21.5px,#fff9e4 23.5px,#fdd178 29.5px,#fab040 33.5px,#f6992d 35.5px,#f0832b 37.5px,#e06c3d 39.5px,#c25063 42.5px,#8b368d 47.5px,#622589 53.5px,#4f1e71 59.5px,#501e74 66.5px,#6f2a8d 73.5px,#89358d 76.5px,#bf4f66 80.5px,#d86348 82.5px,#e67336 83.5px,#f0842c 84.5px,#f5952d 85.5px,#fab649 87.5px,#fdd57f 89.5px,#fffbed 92.5px,#fffefb 93.5px,#fffdf4 94.5px,#fff5d6 95.5px,#fcce73 97.5px,#f9b149 98.5px,#f19036 99.5px,#db6b45 100.5px,#b74d69 101.5px,#8f3883 102.5px,#6a2884 103.5px,#381553 105.5px,#1e0c2f 107.5px,#0e0617 110.5px,#020103 118.5px,#000000 123.5px)"></i><i style="background:linear-gradient(90deg,#fff4cd 0.5px,#fff5d3 9.5px,#fffefc 19.5px,#fffefb 24.5px,#fffae8 26.5px,#fdd885 31.5px,#fbbd52 34.5px,#f79d2f 37.5px,#f0852b 39.5px,#e26d3c 41.5px,#c25063 44.5px,#88358e 49.5px,#602486 55.5px,#4d1d6f 61.5px,#4f1e71 68.5px,#6d2a8d 75.5px,#86348e 78.5px,#b04773 81.5px,#d5604d 84.5px,#ee802d 86.5px,#f4912c 87.5px,#f8a234 88.5px,#fcc15a 90.5px,#fee098 92.5px,#fff9e4 94.5px,#fffef8 95.5px,#fffef9 96.5px,#fff9e4 97.5px,#feecbb 98.5px,#fbbe59 100.5px,#f59f3b 101.5px,#e57b3c 102.5px,#c85a58 103.5px,#a14179 104.5px,#7a2f86 105.5px,#592278 106.5px,#2e1146 108.5px,#190a27 110.5px,#09040e 114.5px,#000000 123.5px)"></i><i style="background:linear-gradient(90deg,#fff8dc 0.5px,#fff3ca 13.5px,#fff7da 17.5px,#fffef9 22.5px,#fffefc 27.5px,#fffae8 29.5px,#fdd47c 34.5px,#fbb749 37.5px,#f5932b 40.5px,#ec7b2f 42.5px,#cb565a 45.5px,#9d3e82 49.5px,#86348f 51.5px,#622589 56.5px,#4c1c6e 62.5px,#4b1c6d 69.5px,#65268b 76.5px,#84338e 80.5px,#9d3e82 82.5px,#d15c52 86.5px,#eb7b31 88.5px,#f28b2b 89.5px,#f69c30 90.5px,#fbbb51 92.5px,#fdd989 94.5px,#fff4d3 96.5px,#fffcf0 97.5px,#fffefb 98.5px,#fffcf1 99.5px,#fff4d4 100.5px,#fcce75 102.5px,#f9b24c 103.5px,#f19239 104.5px,#dc6f45 105.5px,#933a7f 107.5px,#6d2a82 108.5px,#381553 110.5px,#1c0b2d 112.5px,#0c0513 115.5px,#000001 122.5px,#000000 123.5px)"></i><i style="background:linear-gradient(90deg,#fffdf6 0.5px,#fffbeb 8.5px,#fff1c6 17.5px,#fff4cf 20.5px,#fffdf7 25.5px,#ffffff 29.5px,#fffdf3 31.5px,#fff3cd 33.5px,#fdcd70 37.5px,#faaf3f 40.5px,#f5952b 42.5px,#ec7b2f 44.5px,#ca555b 47.5px,#a84379 50.5px,#83328f 53.5px,#5f2486 58.5px,#4a1c6b 64.5px,#491b6b 71.5px,#5d2383 77.5px,#772e8e 81.5px,#973b86 84.5px,#cc5759 88.5px,#e67337 90.5px,#ef832d 91.5px,#f4932d 92.5px,#fab346 94.5px,#fdcf75 96.5px,#fff7dd 99.5px,#fffdf4 100.5px,#fffefa 101.5px,#fffbec 102.5px,#fef1cc 103.5px,#fcca6f 105.5px,#f8ae49 106.5px,#ee8e3b 107.5px,#d86c49 108.5px,#8e387f 110.5px,#68287e 111.5px,#34134d 113.5px,#190a27 115.5px,#09040e 118.5px,#000000 123.5px)"></i><i style="background:linear-gradient(90deg,#ffffff 0.5px,#fffef8 11.5px,#fff8e0 16.5px,#fff1c4 20.5px,#fff2c7 23.5px,#fffdf6 28.5px,#fffffe 32.5px,#fffbed 34.5px,#fddb8d 38.5px,#fbbb4f 41.5px,#f5952c 44.5px,#eb7b2f 46.5px,#c8545d 49.5px,#8a358d 54.5px,#622589 59.5px,#4a1b6b 65.5px,#461a66 72.5px,#55207a 78.5px,#6c298d 82.5px,#90388a 86.5px,#d15c52 91.5px,#e97933 93.5px,#f1882c 94.5px,#f8a739 96.5px,#fcc45e 98.5px,#fedf98 100.5px,#fff6dc 102.5px,#fffcf2 103.5px,#fffef9 104.5px,#fffbed 105.5px,#fff3d1 106.5px,#fccf7a 108.5px,#f9b552 109.5px,#f0963f 110.5px,#dd7546 111.5px,#963d78 113.5px,#6f2b7b 114.5px,#4d1d6a 115.5px,#210d33 117.5px,#0e0516 119.5px,#020103 122.5px,#000000 123.5px)"></i><i style="background:linear-gradient(90deg,#ffffff 0.5px,#fffefb 15.5px,#fffae8 19.5px,#feefbe 24.5px,#fef0c1 26.5px,#fffdf7 31.5px,#ffffff 34.5px,#fffdf4 36.5px,#fff2c9 38.5px,#fcc764 42.5px,#f8a434 45.5px,#f1872b 47.5px,#eb7930 48.5px,#c6535f 51.5px,#923989 55.5px,#742c8e 58.5px,#5f2486 61.5px,#471a68 67.5px,#441964 74.5px,#57217c 81.5px,#6e2a8d 85.5px,#89358d 88.5px,#c7545d 93.5px,#ea7a32 96.5px,#f1892c 97.5px,#f8a638 99.5px,#fcc15b 101.5px,#fddb8f 103.5px,#fff2cf 105.5px,#fff9e7 106.5px,#fffdf5 107.5px,#fffdf5 108.5px,#fff8e3 109.5px,#feeec5 110.5px,#fcca72 112.5px,#f7af51 113.5px,#eb8f47 114.5px,#d36f51 115.5px,#853674 117.5px,#5b236c 118.5px,#371550 119.5px,#1e0b2e 120.5px,#0f0617 121.5px,#010002 123.5px)"></i><i style="background:linear-gradient(90deg,#fffdf7 0.5px,#fffffe 18.5px,#fffbed 22.5px,#feedba 27.5px,#feeebd 29.5px,#fffef9 34.5px,#fffffe 37.5px,#fffef8 38.5px,#fffae9 39.5px,#fdd47d 43.5px,#fbbd52 45.5px,#f8a334 47.5px,#f5942b 48.5px,#ea7831 50.5px,#d05a54 52.5px,#9c3d83 56.5px,#82328f 58.5px,#622589 62.5px,#471a68 68.5px,#401860 75.5px,#4f1e72 82.5px,#69288c 87.5px,#8a358c 91.5px,#c6535f 96.5px,#ef832e 100.5px,#f79e33 102.5px,#fbb84d 104.5px,#fddb8f 107.5px,#fff7de 110.5px,#fffbed 111.5px,#fffcf3 112.5px,#fffaeb 113.5px,#fff4d7 114.5px,#fdd996 116.5px,#fac374 117.5px,#efa45f 118.5px,#d8825d 119.5px,#b15d60 120.5px,#7b375a 121.5px,#381643 122.5px,#08030d 123.5px)"></i><i style="background:linear-gradient(90deg,#fff2cb 0.5px,#fff7dc 6.5px,#fffefc 14.5px,#fffefb 23.5px,#fff9e4 26.5px,#feeebc 29.5px,#feebb4 31.5px,#fff2c8 33.5px,#fffdf5 36.5px,#ffffff 39.5px,#fffefb 40.5px,#fffbee 41.5px,#fee19b 44.5px,#fbbd52 47.5px,#f8a233 49.5px,#f4932b 50.5px,#f0842b 51.5px,#e87534 52.5px,#cd5857 54.5px,#a7437a 57.5px,#8a358d 59.5px,#65268b 63.5px,#471a68 69.5px,#3e175c 76.5px,#4b1c6d 84.5px,#68288c 90.5px,#88348d 94.5px,#c04f64 99.5px,#e67537 103.5px,#f28d2d 105.5px,#f9af42 108.5px,#fdd482 112.5px,#feebbb 115.5px,#fff3d4 117.5px,#fff4d6 119.5px,#fef0cb 120.5px,#fee7b6 121.5px,#f9cf97 122.5px,#b6867a 123.5px)"></i><i style="background:linear-gradient(90deg,#fdd47e 0.5px,#fddb8d 5.5px,#feebb6 10.5px,#fffcf1 16.5px,#ffffff 21.5px,#fffefb 26.5px,#fffbee 28.5px,#feebb4 32.5px,#fee9af 33.5px,#feeebd 35.5px,#fffcf0 38.5px,#fffffe 40.5px,#fffefc 42.5px,#fffcf1 43.5px,#feedbb 45.5px,#fcc866 48.5px,#f7a032 51.5px,#f4912b 52.5px,#ef822c 53.5px,#e67236 54.5px,#ca555b 56.5px,#923989 60.5px,#712b8d 63.5px,#5b2280 66.5px,#421861 72.5px,#3c165a 80.5px,#4d1d70 88.5px,#6c298d 94.5px,#8a358c 98.5px,#cc5857 105.5px,#e77737 109.5px,#f39433 113.5px,#f59e3c 117.5px,#ef9542 119.5px,#e88946 120.5px,#d87651 121.5px,#af5562 122.5px,#481d48 123.5px)"></i><i style="background:linear-gradient(90deg,#f9aa3c 0.5px,#fab74b 6.5px,#fdce72 11.5px,#fff2c9 17.5px,#fffcf0 20.5px,#fffffe 23.5px,#fffefb 29.5px,#fffae9 31.5px,#feecb6 34.5px,#fee8ac 35.5px,#fee8ab 36.5px,#feebb3 37.5px,#fffbeb 40.5px,#fffffd 42.5px,#fffffd 44.5px,#fffcf3 45.5px,#fff7dc 46.5px,#fcc764 50.5px,#f79e30 53.5px,#f38e2a 54.5px,#ed7f2d 55.5px,#c7535e 58.5px,#8d378c 62.5px,#65268b 66.5px,#441964 72.5px,#391556 79.5px,#421861 88.5px,#652689 97.5px,#8a358b 103.5px,#b64a6e 110.5px,#bd4f66 114.5px,#ad4773 117.5px,#903981 119.5px,#762e82 120.5px,#542071 121.5px,#0c0513 123.5px)"></i><i style="background:linear-gradient(90deg,#e16e3d 0.5px,#ec7f31 6.5px,#f59a31 10.5px,#fab244 13.5px,#fdd27a 17.5px,#fff7da 22.5px,#fffdf3 24.5px,#ffffff 27.5px,#fffef9 32.5px,#fff8e0 34.5px,#fee8ab 37.5px,#fee6a6 38.5px,#fee8ab 39.5px,#fff4d0 41.5px,#fffdf4 43.5px,#ffffff 45.5px,#fffffd 46.5px,#fffdf4 47.5px,#fff7dc 48.5px,#fdd47d 51.5px,#fbba4d 53.5px,#f69b2f 55.5px,#f28b2a 56.5px,#ec7b2f 57.5px,#d05a54 59.5px,#a7437a 62.5px,#88348e 64.5px,#612588 68.5px,#451a65 73.5px,#371453 80.5px,#3b1659 89.5px,#5f2484 101.5px,#782e8e 109.5px,#742c8c 114.5px,#5d237f 117.5px,#421961 119.5px,#050208 123.5px)"></i><i style="background:linear-gradient(90deg,#a6427a 0.5px,#b84b6c 6.5px,#d96547 11.5px,#ee8330 14.5px,#f69b32 16.5px,#fbbd54 19.5px,#fddc8f 22.5px,#fffae5 26.5px,#fffefa 28.5px,#fffffe 33.5px,#fffdf4 35.5px,#fff4d1 37.5px,#fee7aa 39.5px,#fee4a2 40.5px,#fee5a5 41.5px,#feebb3 42.5px,#fffcf2 45.5px,#fffffe 47.5px,#fffffd 48.5px,#fffdf4 49.5px,#fff7dc 50.5px,#fdd27a 53.5px,#fbb84b 55.5px,#f6982d 57.5px,#f1872b 58.5px,#e97732 59.5px,#cc5758 61.5px,#a1407f 64.5px,#83328f 66.5px,#65268b 69.5px,#421861 75.5px,#34134e 83.5px,#3a1558 94.5px,#531f77 108.5px,#4b1c6d 113.5px,#34134e 117.5px,#030104 123.5px)"></i><i style="background:linear-gradient(90deg,#692889 0.5px,#772d8d 6.5px,#9b3d81 11.5px,#c7555c 15.5px,#e77836 18.5px,#ef872f 19.5px,#f8a538 21.5px,#fccb6d 24.5px,#fff4d2 28.5px,#fffdf4 30.5px,#ffffff 33.5px,#fffdf6 37.5px,#fff5d5 39.5px,#fee7a8 41.5px,#fee29e 42.5px,#fee39f 43.5px,#fee8ac 44.5px,#fffcf0 47.5px,#fffffe 49.5px,#fffffd 50.5px,#fffdf3 51.5px,#fff7da 52.5px,#fdd176 55.5px,#fab547 57.5px,#f5942c 59.5px,#f0832c 60.5px,#e67236 61.5px,#c8545d 63.5px,#8b368d 67.5px,#612588 71.5px,#431962 76.5px,#32124b 84.5px,#351450 97.5px,#3b1658 108.5px,#2e1146 114.5px,#020103 123.5px)"></i><i style="background:linear-gradient(90deg,#411860 0.5px,#4d1d6f 7.5px,#702b8b 13.5px,#913986 16.5px,#be4f65 19.5px,#e77836 22.5px,#f18a2f 23.5px,#f9ad3f 25.5px,#fdd784 28.5px,#fff6d8 31.5px,#fffdf7 33.5px,#ffffff 37.5px,#fffef8 39.5px,#fffbec 40.5px,#fee6a6 43.5px,#fee099 44.5px,#fee099 45.5px,#fee6a6 46.5px,#fffcef 49.5px,#fffffe 51.5px,#fffffd 52.5px,#fffcf2 53.5px,#fff6d8 54.5px,#fdce72 57.5px,#fab244 59.5px,#f8a233 60.5px,#f4902b 61.5px,#ee7f2d 62.5px,#d25c51 64.5px,#a6427b 67.5px,#85338e 69.5px,#65278b 72.5px,#3f175e 78.5px,#2f1147 86.5px,#2b1042 109.5px,#160923 117.5px,#010002 123.5px)"></i><i style="background:linear-gradient(90deg,#2a1041 0.5px,#351450 9.5px,#4b1c6d 14.5px,#6f2a8b 18.5px,#8b3689 20.5px,#c15162 23.5px,#e2703d 25.5px,#ee8430 26.5px,#f59931 27.5px,#f9ab3e 28.5px,#fccb6c 30.5px,#fff1c8 33.5px,#fff9e1 34.5px,#fffcf3 35.5px,#fffffe 37.5px,#fffef9 41.5px,#fffbed 42.5px,#fee4a2 45.5px,#fdde94 46.5px,#fdde93 47.5px,#fee3a1 48.5px,#fffbee 51.5px,#fffefa 52.5px,#fffffd 54.5px,#fffcf1 55.5px,#fff5d4 56.5px,#fccc6d 59.5px,#faaf40 61.5px,#f79e30 62.5px,#f28c2a 63.5px,#eb7a30 64.5px,#cd5857 66.5px,#8e378b 70.5px,#6a288c 73.5px,#451a65 78.5px,#301249 85.5px,#280f3d 99.5px,#200c32 110.5px,#010001 123.5px)"></i><i style="background:linear-gradient(90deg,#1c0b2d 0.5px,#250e39 10.5px,#381554 16.5px,#56207a 20.5px,#6e2a8b 22.5px,#903986 24.5px,#ba4d69 26.5px,#e06e3f 28.5px,#ee8430 29.5px,#f69a32 30.5px,#f9ae41 31.5px,#fdd076 33.5px,#fff6d7 36.5px,#fffbed 37.5px,#fffffe 39.5px,#fffefa 43.5px,#fffbed 44.5px,#fee29e 47.5px,#fddc8e 48.5px,#fddc8d 49.5px,#fee29c 50.5px,#fffbee 53.5px,#fffefa 54.5px,#fffefc 56.5px,#fffbee 57.5px,#fdd887 60.5px,#fbbb4f 62.5px,#f6992e 64.5px,#f1872b 65.5px,#e87534 66.5px,#c9555c 68.5px,#983c85 71.5px,#7b2f8f 73.5px,#66278b 75.5px,#421861 80.5px,#2d1145 87.5px,#160924 112.5px,#010001 123.5px)"></i><i style="background:linear-gradient(90deg,#150822 0.5px,#1d0c2e 13.5px,#301249 19.5px,#4d1d6f 23.5px,#672787 25.5px,#772e8c 26.5px,#8b3688 27.5px,#b94d6a 29.5px,#e2713c 31.5px,#f08a2f 32.5px,#f7a136 33.5px,#fab64a 34.5px,#fdd888 36.5px,#fff3cd 38.5px,#fffae8 39.5px,#fffdf7 40.5px,#ffffff 43.5px,#fffefa 45.5px,#fffbed 46.5px,#fee098 49.5px,#fdd987 50.5px,#fdd987 51.5px,#fde098 52.5px,#fffbee 55.5px,#fffefb 56.5px,#fffefc 58.5px,#fffbeb 59.5px,#fdd681 62.5px,#fbb84b 64.5px,#f5952c 66.5px,#ef832c 67.5px,#e47039 68.5px,#c55260 70.5px,#923989 73.5px,#762d8e 75.5px,#612588 77.5px,#3e175d 82.5px,#290f3e 90.5px,#0e0617 115.5px,#010001 123.5px)"></i><i style="background:linear-gradient(90deg,#11071b 0.5px,#180926 15.5px,#270f3b 21.5px,#3f175d 25.5px,#642685 28.5px,#762d8c 29.5px,#8c3788 30.5px,#bf5065 32.5px,#e87a35 34.5px,#f49531 35.5px,#f9ac3f 36.5px,#fdd27b 38.5px,#fef0c5 40.5px,#fff9e3 41.5px,#fffdf5 42.5px,#ffffff 44.5px,#fffef9 47.5px,#fffbeb 48.5px,#fddd91 51.5px,#fdd680 52.5px,#fdd682 53.5px,#fdde94 54.5px,#fff5d5 56.5px,#fffcef 57.5px,#fffefb 58.5px,#fffefb 60.5px,#fffae8 61.5px,#fdd37b 64.5px,#fab446 66.5px,#f8a334 67.5px,#f4902b 68.5px,#ed7e2e 69.5px,#cf5955 71.5px,#8c368c 75.5px,#67278b 78.5px,#40185f 83.5px,#29103f 90.5px,#050207 120.5px,#000001 123.5px)"></i><i style="background:linear-gradient(90deg,#0e0516 0.5px,#150822 18.5px,#230e37 24.5px,#3d165a 28.5px,#662786 31.5px,#7a2f8c 32.5px,#933a84 33.5px,#ae4673 34.5px,#df6e40 36.5px,#f08930 37.5px,#f7a338 38.5px,#fbba50 39.5px,#feeebf 42.5px,#fff8df 43.5px,#fffdf4 44.5px,#ffffff 46.5px,#fffef8 49.5px,#fffae8 50.5px,#fdda89 53.5px,#fdd37a 54.5px,#fdd47d 55.5px,#fddd91 56.5px,#fff5d5 58.5px,#fffcf0 59.5px,#fffefc 60.5px,#fffffe 61.5px,#fffef9 62.5px,#fff9e3 63.5px,#fdd074 66.5px,#fab142 68.5px,#f79e31 69.5px,#f28b2b 70.5px,#ea7931 71.5px,#ca565a 73.5px,#973b86 76.5px,#782e8e 78.5px,#622588 80.5px,#3d165b 85.5px,#250e38 93.5px,#000001 123.5px)"></i><i style="background:linear-gradient(90deg,#0c0512 0.5px,#12071d 20.5px,#1e0c2f 26.5px,#34134e 30.5px,#59227c 33.5px,#6c2989 34.5px,#83338a 35.5px,#a03f7d 36.5px,#d7644a 38.5px,#eb7f34 39.5px,#f69c34 40.5px,#fab549 41.5px,#fddd91 43.5px,#fff7dd 45.5px,#fffdf3 46.5px,#ffffff 48.5px,#fffffe 50.5px,#fffdf7 51.5px,#fff9e4 52.5px,#fdd680 55.5px,#fdcf73 56.5px,#fdd278 57.5px,#fddc8f 58.5px,#fff6d7 60.5px,#fffcf1 61.5px,#fffefc 62.5px,#fffffe 63.5px,#fffdf7 64.5px,#fff8de 65.5px,#fccc6e 68.5px,#f9ad3e 70.5px,#f69a2f 71.5px,#f1872b 72.5px,#e77436 73.5px,#c6535f 75.5px,#913889 78.5px,#742c8e 80.5px,#5e2484 82.5px,#3a1556 87.5px,#220d34 95.5px,#000001 123.5px)"></i><i style="background:linear-gradient(90deg,#0a0410 0.5px,#10071a 22.5px,#1d0b2e 29.5px,#361451 33.5px,#612582 36.5px,#772e8c 37.5px,#933a84 38.5px,#b14870 39.5px,#e67738 41.5px,#f49531 42.5px,#fab044 43.5px,#fddb8d 45.5px,#fff7dc 47.5px,#fffcf3 48.5px,#ffffff 50.5px,#fffffd 52.5px,#fffdf5 53.5px,#fff8de 54.5px,#fdde94 56.5px,#fdd177 57.5px,#fccb6b 58.5px,#fdcf74 59.5px,#fddb8e 60.5px,#fff6d9 62.5px,#fffcf2 63.5px,#fffefd 64.5px,#fffffe 65.5px,#fffdf5 66.5px,#fff6d9 67.5px,#fcc969 70.5px,#f9a93a 72.5px,#f5952d 73.5px,#ef822c 74.5px,#e36f3a 75.5px,#c25063 77.5px,#8b368c 80.5px,#642689 83.5px,#3c1659 88.5px,#230d36 95.5px,#09040e 115.5px,#000001 123.5px)"></i><i style="background:linear-gradient(90deg,#09030e 0.5px,#100619 25.5px,#1e0c2f 32.5px,#301249 35.5px,#58217b 38.5px,#6d2a89 39.5px,#883589 40.5px,#a84378 41.5px,#e2713d 43.5px,#f29031 44.5px,#f9ad41 45.5px,#fcc562 46.5px,#feebb6 48.5px,#fff7dc 49.5px,#fffdf4 50.5px,#ffffff 52.5px,#fffefc 54.5px,#fffcf2 55.5px,#fff6d7 56.5px,#fdd989 58.5px,#fdcc6d 59.5px,#fcc764 60.5px,#fdcd70 61.5px,#fddb8d 62.5px,#fff7da 64.5px,#fffdf3 65.5px,#fffffd 66.5px,#fffffe 67.5px,#fffcf2 68.5px,#fff5d4 69.5px,#fdd785 71.5px,#fbb74a 73.5px,#f8a536 74.5px,#f4912c 75.5px,#ed7e2e 76.5px,#cd5856 78.5px,#983c85 81.5px,#782e8e 83.5px,#602586 85.5px,#391555 90.5px,#1e0c2f 98.5px,#000000 123.5px)"></i><i style="background:linear-gradient(90deg,#08030d 0.5px,#0e0617 27.5px,#1b0b2a 34.5px,#2c1043 37.5px,#511e74 40.5px,#662785 41.5px,#80318b 42.5px,#a1407d 43.5px,#de6c41 45.5px,#f18d31 46.5px,#f9ab3f 47.5px,#fcc460 48.5px,#feecb7 50.5px,#fff7de 51.5px,#fffdf5 52.5px,#ffffff 54.5px,#fffefb 56.5px,#fffbee 57.5px,#fff3ce 58.5px,#fdd47d 60.5px,#fcc763 61.5px,#fcc45d 62.5px,#fccb6c 63.5px,#fdda8c 64.5px,#fff7dc 66.5px,#fffdf5 67.5px,#fffffd 68.5px,#fffffd 69.5px,#fffcf0 70.5px,#fff3cf 71.5px,#fdd57f 73.5px,#fab446 75.5px,#f7a234 76.5px,#f38d2b 77.5px,#ea7a31 78.5px,#ca565b 80.5px,#933988 83.5px,#742c8e 85.5px,#5d2382 87.5px,#361451 92.5px,#1b0b2b 100.5px,#000000 123.5px)"></i><i style="background:linear-gradient(90deg,#07030b 0.5px,#0d0515 29.5px,#180a27 36.5px,#280f3e 39.5px,#3c1659 41.5px,#602481 43.5px,#7a2f8b 44.5px,#9b3d80 45.5px,#dc6a44 47.5px,#f08b31 48.5px,#f9aa3e 49.5px,#fcc460 50.5px,#feecba 52.5px,#fff8e0 53.5px,#fffdf6 54.5px,#ffffff 56.5px,#fffefa 58.5px,#fffae8 59.5px,#fef0c4 60.5px,#fdce71 62.5px,#fcc25a 63.5px,#fcc158 64.5px,#fcca69 65.5px,#fdda8c 66.5px,#fff7de 68.5px,#fffdf6 69.5px,#fffffe 70.5px,#fffefd 71.5px,#fffbed 72.5px,#fee3a0 74.5px,#fcc25b 76.5px,#f79e31 78.5px,#f28a2b 79.5px,#e87634 80.5px,#c7535e 82.5px,#8e378a 85.5px,#702b8d 87.5px,#59227e 89.5px,#33134e 94.5px,#190a27 102.5px,#000000 123.5px)"></i><i style="background:linear-gradient(90deg,#07030a 0.5px,#0c0514 31.5px,#170924 38.5px,#250e3a 41.5px,#381554 43.5px,#5b237e 45.5px,#752d8b 46.5px,#963b82 47.5px,#ba4e68 48.5px,#da6846 49.5px,#f08a31 50.5px,#f9aa3f 51.5px,#fcc562 52.5px,#feeebe 54.5px,#fff9e3 55.5px,#fffdf8 56.5px,#ffffff 58.5px,#fffdf7 60.5px,#fff8e0 61.5px,#fdd98a 63.5px,#fcc765 64.5px,#fbbd52 65.5px,#fbbe53 66.5px,#fcc867 67.5px,#fdda8b 68.5px,#fff8df 70.5px,#fffdf6 71.5px,#fffffe 72.5px,#fffefc 73.5px,#fffaea 74.5px,#fdd076 77.5px,#faaf40 79.5px,#f69b30 80.5px,#f1872b 81.5px,#e67337 82.5px,#c45261 84.5px,#8b368c 87.5px,#6d2a8d 89.5px,#56207a 91.5px,#31124a 96.5px,#170924 104.5px,#000000 123.5px)"></i><i style="background:linear-gradient(90deg,#06020a 0.5px,#0c0513 33.5px,#180a27 41.5px,#2b1042 44.5px,#441964 46.5px,#722b8a 48.5px,#933a83 49.5px,#b84c6a 50.5px,#da6746 51.5px,#f08a32 52.5px,#f9ab40 53.5px,#fcc664 54.5px,#feefc2 56.5px,#fffae7 57.5px,#fffef9 58.5px,#fffffd 61.5px,#fffdf3 62.5px,#fff6d7 63.5px,#fdd37c 65.5px,#fcc15a 66.5px,#fbb94b 67.5px,#fbbb4f 68.5px,#fcc764 69.5px,#feecb8 71.5px,#fff8e0 72.5px,#fffdf7 73.5px,#fffffe 74.5px,#fffefb 75.5px,#fffae8 76.5px,#fdcf73 79.5px,#f9ad3e 81.5px,#f6992f 82.5px,#f0852c 83.5px,#e47039 84.5px,#c25063 86.5px,#87348d 89.5px,#6a288c 91.5px,#3a1556 96.5px,#1b0b2b 103.5px,#030105 120.5px,#000000 123.5px)"></i><i style="background:linear-gradient(90deg,#060209 0.5px,#0b0412 35.5px,#170925 43.5px,#290f3f 46.5px,#421861 48.5px,#6f2b89 50.5px,#923984 51.5px,#b84c6a 52.5px,#da6846 53.5px,#f08c32 54.5px,#f9ad42 55.5px,#fcc868 56.5px,#fff1c8 58.5px,#fffbeb 59.5px,#fffefb 60.5px,#fffefc 63.5px,#fffbee 64.5px,#fff2cc 65.5px,#fccc6e 67.5px,#fbbb50 68.5px,#fab444 69.5px,#fbb84a 70.5px,#fcc561 71.5px,#feebb7 73.5px,#fff8e0 74.5px,#fffdf7 75.5px,#fffffe 76.5px,#fffefb 77.5px,#fffae7 78.5px,#fdce71 81.5px,#f9ac3d 83.5px,#f5982e 84.5px,#ef832d 85.5px,#e26f3b 86.5px,#c04f64 88.5px,#983c84 90.5px,#85338d 91.5px,#68288b 93.5px,#3e175d 97.5px,#200c31 103.5px,#0a0410 114.5px,#000000 123.5px)"></i><i style="background:linear-gradient(90deg,#050209 0.5px,#0b0411 37.5px,#160924 45.5px,#270f3d 48.5px,#40185e 50.5px,#6e2a89 52.5px,#913984 53.5px,#b84d6a 54.5px,#db6945 55.5px,#f18e32 56.5px,#f9b044 57.5px,#fccb6d 58.5px,#fff3ce 60.5px,#fffcef 61.5px,#fffefc 62.5px,#fffefa 65.5px,#fffae8 66.5px,#feeec0 67.5px,#fcc561 69.5px,#fab546 70.5px,#f9ae3d 71.5px,#fab345 72.5px,#fcc35e 73.5px,#feebb5 75.5px,#fff8df 76.5px,#fffdf6 77.5px,#fffffe 78.5px,#fffefb 79.5px,#fffae7 80.5px,#fdce71 83.5px,#f9ac3d 85.5px,#f5972e 86.5px,#ef832d 87.5px,#e26e3c 88.5px,#bf4f65 90.5px,#973b85 92.5px,#742c8e 94.5px,#5a227f 96.5px,#361451 100.5px,#1a0a29 106.5px,#030105 120.5px,#000001 123.5px)"></i><i style="background:linear-gradient(90deg,#050208 0.5px,#0a0410 39.5px,#160922 47.5px,#260f3b 50.5px,#3f175d 52.5px,#6e2a88 54.5px,#923984 55.5px,#b94d68 56.5px,#dc6b43 57.5px,#f29132 58.5px,#fab348 59.5px,#fee5a5 61.5px,#fff5d4 62.5px,#fffcf2 63.5px,#fffffd 64.5px,#fffffe 66.5px,#fffdf8 67.5px,#fff8e0 68.5px,#fdd47f 70.5px,#fbbe55 71.5px,#f9ad3d 72.5px,#f8a636 73.5px,#f9af40 74.5px,#fbc059 75.5px,#fdd581 76.5px,#fff7dc 78.5px,#fffdf5 79.5px,#fffffe 80.5px,#fffefb 81.5px,#fffae8 82.5px,#fdce73 85.5px,#f9ac3e 87.5px,#f5982f 88.5px,#ef832d 89.5px,#e26f3c 90.5px,#bf4f65 92.5px,#973b85 94.5px,#732c8e 96.5px,#59227e 98.5px,#34134f 102.5px,#180a27 108.5px,#010002 122.5px,#000001 123.5px)"></i><i style="background:linear-gradient(90deg,#050208 0.5px,#0a0410 41.5px,#150821 49.5px,#250e3a 52.5px,#3e175c 54.5px,#6e2a88 56.5px,#933a83 57.5px,#bb4f66 58.5px,#de6e41 59.5px,#f39433 60.5px,#fab64c 61.5px,#fee7ad 63.5px,#fff6da 64.5px,#fffdf5 65.5px,#ffffff 67.5px,#fffffd 68.5px,#fffdf4 69.5px,#fff5d6 70.5px,#fccd71 72.5px,#fab64a 73.5px,#f8a435 74.5px,#f79e2f 75.5px,#f9a93a 76.5px,#fbbc53 77.5px,#fdd27b 78.5px,#fff6d8 80.5px,#fffdf3 81.5px,#fffffd 82.5px,#fffefc 83.5px,#fffbeb 84.5px,#fee19d 86.5px,#fbbf57 88.5px,#f9ae40 89.5px,#f69a30 90.5px,#f0852d 91.5px,#e3703a 92.5px,#c15064 94.5px,#983c84 96.5px,#742c8e 98.5px,#58217d 100.5px,#33134d 104.5px,#170924 110.5px,#000001 123.5px)"></i><i style="background:linear-gradient(90deg,#050208 0.5px,#09040f 43.5px,#140821 51.5px,#250e39 54.5px,#3d175b 56.5px,#6f2a88 58.5px,#953b82 59.5px,#be5164 60.5px,#e0713f 61.5px,#f49834 62.5px,#fbb950 63.5px,#feeab4 65.5px,#fff8e0 66.5px,#fffdf7 67.5px,#ffffff 69.5px,#fffefc 70.5px,#fffcef 71.5px,#fff2cb 72.5px,#fcc664 74.5px,#f9ae40 75.5px,#f69a2c 76.5px,#f5962b 77.5px,#f7a235 78.5px,#fab74c 79.5px,#fcce73 80.5px,#fff4d1 82.5px,#fffcf0 83.5px,#fffefc 84.5px,#fffffd 85.5px,#fffbef 86.5px,#fff3ce 87.5px,#fdd37d 89.5px,#fab143 91.5px,#f79e32 92.5px,#f1892c 93.5px,#e67437 94.5px,#c35261 96.5px,#9b3d82 98.5px,#86348c 99.5px,#662789 101.5px,#391556 105.5px,#1c0b2c 110.5px,#040207 120.5px,#000001 123.5px)"></i><i style="background:linear-gradient(90deg,#050207 0.5px,#09040f 45.5px,#140820 53.5px,#240e38 56.5px,#3d175b 58.5px,#702b88 60.5px,#973c81 61.5px,#c15361 62.5px,#e3743d 63.5px,#f59b36 64.5px,#fbbd55 65.5px,#feedbb 67.5px,#fff9e5 68.5px,#fffef9 69.5px,#ffffff 71.5px,#fffefb 72.5px,#fffae9 73.5px,#feeec0 74.5px,#fbbf58 76.5px,#f8a537 77.5px,#f4902a 78.5px,#f38c2a 79.5px,#f59930 80.5px,#f9af44 81.5px,#fcc868 82.5px,#fef0c7 84.5px,#fffaea 85.5px,#fffefa 86.5px,#fffffe 87.5px,#fffdf4 88.5px,#fff5d7 89.5px,#fdd887 91.5px,#fab64a 93.5px,#f8a336 94.5px,#f38f2d 95.5px,#e97a33 96.5px,#c8555c 98.5px,#8a368b 101.5px,#69288a 103.5px,#391556 107.5px,#1a0a29 112.5px,#020103 122.5px,#010001 123.5px)"></i><i style="background:linear-gradient(90deg,#050207 0.5px,#09040e 47.5px,#14081f 55.5px,#240e37 58.5px,#3d175b 60.5px,#712b89 62.5px,#993d80 63.5px,#c3555e 64.5px,#e5773b 65.5px,#f69f38 66.5px,#fbc05b 67.5px,#feefc2 69.5px,#fffae9 70.5px,#fffefb 71.5px,#fffffe 73.5px,#fffef9 74.5px,#fff9e3 75.5px,#feebb5 76.5px,#fdd37d 77.5px,#fab84d 78.5px,#f69b31 79.5px,#f1862b 80.5px,#ef822b 81.5px,#f38e2d 82.5px,#f8a63b 83.5px,#fbc05a 84.5px,#feebb8 86.5px,#fff8e0 87.5px,#fffdf7 88.5px,#fffffe 89.5px,#fffef9 90.5px,#fff9e3 91.5px,#fccd70 94.5px,#f9ab3d 96.5px,#f5972f 97.5px,#ee822f 98.5px,#cf5a54 100.5px,#923987 103.5px,#6d2a8c 105.5px,#441964 108.5px,#1d0c2e 113.5px,#040207 121.5px,#010001 123.5px)"></i><i style="background:linear-gradient(90deg,#040207 0.5px,#09030e 49.5px,#13081f 57.5px,#230e37 60.5px,#3d175b 62.5px,#542076 63.5px,#732c89 64.5px,#9b3e7e 65.5px,#c6575b 66.5px,#e77b39 67.5px,#f7a23a 68.5px,#fcc35f 69.5px,#fef1c7 71.5px,#fffbec 72.5px,#fffefc 73.5px,#fffffe 75.5px,#fffdf7 76.5px,#fff7dd 77.5px,#fee7ab 78.5px,#fcce72 79.5px,#f9b045 80.5px,#f4922e 81.5px,#ed7c2d 82.5px,#e97632 83.5px,#ed8130 84.5px,#f59934 85.5px,#fab44b 86.5px,#fee3a4 88.5px,#fff3d1 89.5px,#fffcef 90.5px,#fffefc 91.5px,#fffefc 92.5px,#fffcef 93.5px,#fff3d1 94.5px,#fdd682 96.5px,#fab448 98.5px,#f7a135 99.5px,#f28d2d 100.5px,#e87835 101.5px,#c6545e 103.5px,#9d3e81 105.5px,#86348b 106.5px,#742c8d 107.5px,#552079 109.5px,#2a1040 113.5px,#0f0618 118.5px,#010001 123.5px)"></i><i style="background:linear-gradient(90deg,#040207 0.5px,#08030d 51.5px,#13081e 59.5px,#230d36 62.5px,#3d175b 64.5px,#542076 65.5px,#742c88 66.5px,#9d3f7d 67.5px,#c85959 68.5px,#e87d38 69.5px,#f7a53c 70.5px,#fcc564 71.5px,#fff2cc 73.5px,#fffcef 74.5px,#fffefc 75.5px,#fffffe 77.5px,#fffdf5 78.5px,#fff5d6 79.5px,#fee3a2 80.5px,#fcc96a 81.5px,#f8a93e 82.5px,#f0892e 83.5px,#e36f3a 84.5px,#dc6644 85.5px,#e2703c 86.5px,#ee8832 87.5px,#f7a43c 88.5px,#fbc05c 89.5px,#feebb9 91.5px,#fff7df 92.5px,#fffdf6 93.5px,#fffffd 94.5px,#fffef9 95.5px,#fff9e6 96.5px,#fdd077 99.5px,#f9af41 101.5px,#f69b32 102.5px,#f0872e 103.5px,#d35f4f 105.5px,#943a85 108.5px,#7f318d 109.5px,#6c298a 110.5px,#3f175d 113.5px,#1a0a2a 117.5px,#010002 123.5px)"></i><i style="background:linear-gradient(90deg,#040207 0.5px,#08030d 53.5px,#13071e 61.5px,#230d36 64.5px,#3d175b 66.5px,#552076 67.5px,#752d88 68.5px,#9f3f7c 69.5px,#ca5a57 70.5px,#e97f38 71.5px,#f8a73e 72.5px,#fcc767 73.5px,#fff3cf 75.5px,#fffcf1 76.5px,#fffffd 77.5px,#fffffd 79.5px,#fffcf2 80.5px,#fff4d1 81.5px,#fee09b 82.5px,#fcc563 83.5px,#f7a33a 84.5px,#ec8032 85.5px,#d96348 86.5px,#cd5757 87.5px,#d35e4f 88.5px,#e2723e 89.5px,#f08e35 90.5px,#f8ac44 91.5px,#fcc768 92.5px,#feefc3 94.5px,#fff9e5 95.5px,#fffdf8 96.5px,#fffffd 97.5px,#fffdf6 98.5px,#fff8e1 99.5px,#fdcf75 102.5px,#f9ad41 104.5px,#f59a33 105.5px,#ef8630 106.5px,#d25e50 108.5px,#a84378 110.5px,#7a2f8c 112.5px,#662786 113.5px,#361452 116.5px,#180925 119.5px,#020103 123.5px)"></i><i style="background:linear-gradient(90deg,#040207 0.5px,#08030d 55.5px,#12071d 63.5px,#220d35 66.5px,#3d175a 68.5px,#542076 69.5px,#752d88 70.5px,#9f407c 71.5px,#cb5b56 72.5px,#ea8138 73.5px,#f8a83f 74.5px,#fcc869 75.5px,#fff4d1 77.5px,#fffcf2 78.5px,#fffffd 79.5px,#fffffd 81.5px,#fffcf1 82.5px,#fff2ce 83.5px,#fdde96 84.5px,#fbc25e 85.5px,#f69f38 86.5px,#e67839 87.5px,#cf5a54 88.5px,#c14f64 89.5px,#c15063 90.5px,#ce5c54 91.5px,#e07240 92.5px,#f09038 93.5px,#f9ae47 94.5px,#fcc96b 95.5px,#feefc4 97.5px,#fff9e4 98.5px,#fffdf7 99.5px,#fffefd 100.5px,#fffdf7 101.5px,#fff9e4 102.5px,#fdd37d 105.5px,#fab247 107.5px,#f6a037 108.5px,#f08c31 109.5px,#e57639 110.5px,#c15261 112.5px,#913984 114.5px,#782e8b 115.5px,#622582 116.5px,#2a1041 119.5px,#0a0410 122.5px,#030104 123.5px)"></i><i style="background:linear-gradient(90deg,#040207 0.5px,#08030c 57.5px,#12071d 65.5px,#220d34 68.5px,#3c1659 70.5px,#531f75 71.5px,#742d88 72.5px,#9e3f7c 73.5px,#ca5b57 74.5px,#e98038 75.5px,#f8a83f 76.5px,#fcc869 77.5px,#fff4d2 79.5px,#fffcf2 80.5px,#fffffd 81.5px,#fffffd 83.5px,#fffcf0 84.5px,#fff2cc 85.5px,#fddd95 86.5px,#fbc05c 87.5px,#f59c38 88.5px,#e2733d 89.5px,#c7555c 90.5px,#b34870 91.5px,#aa4478 92.5px,#b14871 93.5px,#c5565c 94.5px,#db6d45 95.5px,#ec8a3b 96.5px,#f7a843 97.5px,#fbc262 98.5px,#feeab6 100.5px,#fff5d9 101.5px,#fffcef 102.5px,#fffefa 103.5px,#fffefb 104.5px,#fffbef 105.5px,#fff5d8 106.5px,#fbbf5a 110.5px,#f9ad43 111.5px,#f59b36 112.5px,#ec8536 113.5px,#df7041 114.5px,#b44b6d 116.5px,#983c7f 117.5px,#792f86 118.5px,#5b227a 119.5px,#270f3b 121.5px,#050209 123.5px)"></i><i style="background:linear-gradient(90deg,#040207 0.5px,#08030c 59.5px,#12071c 67.5px,#210d33 70.5px,#3b1658 72.5px,#521f73 73.5px,#722c87 74.5px,#9c3e7d 75.5px,#c85959 76.5px,#e87f39 77.5px,#f7a73e 78.5px,#fcc767 79.5px,#fff3d0 81.5px,#fffcf1 82.5px,#fffffd 83.5px,#fffffd 85.5px,#fffcf1 86.5px,#fff2ce 87.5px,#fdde97 88.5px,#fbc15e 89.5px,#f59c39 90.5px,#e07240 91.5px,#c15262 92.5px,#a2407e 93.5px,#8f378b 94.5px,#8f3889 95.5px,#9c3e7f 96.5px,#cc5f54 98.5px,#e27942 99.5px,#f0953e 100.5px,#f8b04d 101.5px,#fddc94 103.5px,#fff5d8 105.5px,#fffbed 106.5px,#fffef8 107.5px,#fffefa 108.5px,#fffcf1 109.5px,#feefc6 111.5px,#fcc86b 114.5px,#f6a441 116.5px,#ee8d3c 117.5px,#df7644 118.5px,#c85d58 119.5px,#a44572 120.5px,#752d7a 121.5px,#3e1757 122.5px,#0f0618 123.5px)"></i><i style="background:linear-gradient(90deg,#040207 0.5px,#07030c 61.5px,#11071c 69.5px,#200c32 72.5px,#391555 74.5px,#4f1e70 75.5px,#6e2a86 76.5px,#983c7f 77.5px,#c4565d 78.5px,#e67b3b 79.5px,#f7a33c 80.5px,#fcc463 81.5px,#fff2cb 83.5px,#fffbee 84.5px,#fffefc 85.5px,#fffffd 87.5px,#fffcf3 88.5px,#fff4d3 89.5px,#fee19d 90.5px,#fbc464 91.5px,#f59f3c 92.5px,#e17440 93.5px,#be5164 94.5px,#983c83 95.5px,#7c308e 96.5px,#712b8e 97.5px,#732c8d 98.5px,#923a80 100.5px,#c45a5b 102.5px,#da7249 103.5px,#ea8a42 104.5px,#f4a347 105.5px,#fab95b 106.5px,#fee8b6 109.5px,#fff7e1 111.5px,#fffdf5 113.5px,#fffaea 115.5px,#feeec7 117.5px,#fdda99 119.5px,#fbc980 120.5px,#f3b16e 121.5px,#d98c6c 122.5px,#7e4554 123.5px)"></i><i style="background:linear-gradient(90deg,#050207 0.5px,#07030c 63.5px,#11071b 71.5px,#1e0c30 74.5px,#361452 76.5px,#4b1c6c 77.5px,#692884 78.5px,#923981 79.5px,#be5263 80.5px,#e2753f 81.5px,#f59e3a 82.5px,#fbc05c 83.5px,#feefc4 85.5px,#fffaea 86.5px,#fffefb 87.5px,#fffffe 89.5px,#fffdf6 90.5px,#fff6da 91.5px,#fee5a8 92.5px,#fcca6f 93.5px,#f7a642 94.5px,#e57b3e 95.5px,#c1555f 96.5px,#963b81 97.5px,#722c8c 98.5px,#5e2483 99.5px,#542078 100.5px,#59227a 102.5px,#752d80 104.5px,#9e4274 106.5px,#c66158 108.5px,#e2834b 110.5px,#f4ad5e 113.5px,#fac781 116.5px,#fac98c 118.5px,#eebb97 120.5px,#daa896 121.5px,#b08686 122.5px,#665051 123.5px)"></i><i style="background:linear-gradient(90deg,#050208 0.5px,#07030b 65.5px,#10061a 73.5px,#1d0b2d 76.5px,#33134d 78.5px,#461a66 79.5px,#622580 80.5px,#883584 81.5px,#b44c6b 82.5px,#db6d45 83.5px,#f29538 84.5px,#fab852 85.5px,#feebb7 87.5px,#fff8e2 88.5px,#fffdf8 89.5px,#fffffe 91.5px,#fffef9 92.5px,#fff9e4 93.5px,#feebb9 94.5px,#fdd380 95.5px,#f9b24d 96.5px,#eb883d 97.5px,#cb5e55 98.5px,#9d3f7b 99.5px,#732c87 100.5px,#552077 101.5px,#421962 102.5px,#351450 104.5px,#3c1658 107.5px,#57216e 111.5px,#67286a 114.5px,#5a235f 117.5px,#3a164c 119.5px,#12071d 121.5px,#06020a 122.5px,#010001 123.5px)"></i><i style="background:linear-gradient(90deg,#050208 0.5px,#07030b 67.5px,#0f0619 75.5px,#1b0b2a 78.5px,#2f1247 80.5px,#5a2279 82.5px,#7d3086 83.5px,#a74475 84.5px,#d1624f 85.5px,#ec8839 86.5px,#f9ad46 87.5px,#fccc71 88.5px,#fff4d4 90.5px,#fffcf2 91.5px,#fffffd 92.5px,#fffefc 94.5px,#fffcef 95.5px,#fff2ce 96.5px,#fddf9a 97.5px,#fbc262 98.5px,#f39b40 99.5px,#da7048 100.5px,#af4a6c 101.5px,#7f3282 102.5px,#582177 103.5px,#3e175c 104.5px,#250e39 106.5px,#190a28 109.5px,#0c0514 117.5px,#000000 123.5px)"></i><i style="background:linear-gradient(90deg,#050209 0.5px,#07030a 69.5px,#11071b 78.5px,#200c32 81.5px,#391555 83.5px,#4f1e70 84.5px,#6e2a84 85.5px,#963c7e 86.5px,#c1555f 87.5px,#e2773f 88.5px,#f59e3c 89.5px,#fbbf5c 90.5px,#feedbf 92.5px,#fff9e5 93.5px,#fffef8 94.5px,#fffffe 96.5px,#fffef8 97.5px,#fff8e3 98.5px,#feebba 99.5px,#fdd483 100.5px,#f9b452 101.5px,#ea8b41 102.5px,#ca6155 103.5px,#9a3f77 104.5px,#6b297c 105.5px,#471b65 106.5px,#301248 107.5px,#180a26 109.5px,#09040e 114.5px,#000000 123.5px)"></i><i style="background:linear-gradient(90deg,#060209 0.5px,#06030a 71.5px,#100619 80.5px,#1c0b2c 83.5px,#31124a 85.5px,#5d237b 87.5px,#813284 88.5px,#aa4672 89.5px,#d2644f 90.5px,#eb883b 91.5px,#f8ac45 92.5px,#fcca6e 93.5px,#fff2cd 95.5px,#fffbec 96.5px,#fffefb 97.5px,#fffffd 99.5px,#fffdf5 100.5px,#fff6dc 101.5px,#fee7b1 102.5px,#fcd07b 103.5px,#f7ae4f 104.5px,#e68445 105.5px,#c25c5b 106.5px,#923b76 107.5px,#632675 108.5px,#3f185b 109.5px,#280f3d 110.5px,#12071d 112.5px,#050208 116.5px,#000000 123.5px)"></i><i style="background:linear-gradient(90deg,#07030b 0.5px,#060209 72.5px,#0e0617 82.5px,#180a27 85.5px,#29103f 87.5px,#4c1c6c 89.5px,#682880 90.5px,#8d3881 91.5px,#b54e68 92.5px,#d96c48 93.5px,#ef903b 94.5px,#f9b24c 95.5px,#fee3a5 97.5px,#fff3d0 98.5px,#fffbed 99.5px,#fffefa 100.5px,#fffffd 102.5px,#fffdf5 103.5px,#fff7de 104.5px,#fee9b7 105.5px,#fdd384 106.5px,#f8b457 107.5px,#e88c49 108.5px,#c76458 109.5px,#99416f 110.5px,#692972 111.5px,#42195c 112.5px,#280f3d 113.5px,#190a27 114.5px,#0a0410 116.5px,#010001 121.5px,#000000 123.5px)"></i><i style="background:linear-gradient(90deg,#08030c 0.5px,#050208 72.5px,#0d0515 84.5px,#1a0a29 88.5px,#2c1043 90.5px,#4f1e6f 92.5px,#6c2981 93.5px,#90397f 94.5px,#d86c49 96.5px,#ed8e3d 97.5px,#f8ae4a 98.5px,#fedf9b 100.5px,#feefc5 101.5px,#fff9e4 102.5px,#fffdf6 103.5px,#fffffe 105.5px,#fffefa 106.5px,#fffaeb 107.5px,#fef1ce 108.5px,#fee1a3 109.5px,#fbc874 110.5px,#f2a555 111.5px,#db7e52 112.5px,#b55860 113.5px,#85386a 114.5px,#572164 115.5px,#321349 116.5px,#1c0b2b 117.5px,#08030e 119.5px,#000000 123.5px)"></i><i style="background:linear-gradient(90deg,#09040f 0.5px,#040206 68.5px,#0a0410 85.5px,#150822 90.5px,#2b1041 93.5px,#4c1c6b 95.5px,#65277d 96.5px,#863580 97.5px,#aa4770 98.5px,#cc6154 99.5px,#e47f42 100.5px,#f39d42 101.5px,#faba59 102.5px,#fee3a6 104.5px,#fef0ca 105.5px,#fff9e4 106.5px,#fffdf5 107.5px,#fffffe 109.5px,#fffefa 110.5px,#fffbed 111.5px,#fff3d6 112.5px,#fcd18a 114.5px,#f4b26a 115.5px,#de8d60 116.5px,#ba675f 117.5px,#592454 119.5px,#2b113d 120.5px,#100619 121.5px,#040207 122.5px,#000001 123.5px)"></i><i style="background:linear-gradient(90deg,#0b0512 0.5px,#030105 56.5px,#08030d 86.5px,#140820 93.5px,#260f3b 96.5px,#40185e 98.5px,#6e2a7e 100.5px,#8c377d 101.5px,#c96056 103.5px,#e07a47 104.5px,#ee9445 105.5px,#f7ae50 106.5px,#fdd78b 108.5px,#feefc7 110.5px,#fffaec 112.5px,#fffefb 114.5px,#fffdf4 116.5px,#fff8e4 117.5px,#fddeae 119.5px,#f2c29b 120.5px,#d09c8f 121.5px,#986c6d 122.5px,#3f292a 123.5px)"></i><i style="background:linear-gradient(90deg,#0f0619 0.5px,#040106 43.5px,#07030c 88.5px,#12071c 96.5px,#250e3a 100.5px,#4a1c68 103.5px,#5d2376 104.5px,#8b3878 106.5px,#cd6955 109.5px,#e78c4d 111.5px,#f6b667 114.5px,#fac988 117.5px,#f7c693 119.5px,#efbd98 120.5px,#dcaa98 121.5px,#b38989 122.5px,#695457 123.5px)"></i><i style="background:linear-gradient(90deg,#170925 0.5px,#050208 32.5px,#060209 89.5px,#10071a 100.5px,#220d34 105.5px,#4f1e68 111.5px,#622669 114.5px,#612663 116.5px,#4c1e57 118.5px,#3b164c 119.5px,#13071e 121.5px,#06020a 122.5px,#010001 123.5px)"></i><i style="background:linear-gradient(90deg,#2c1043 0.5px,#1d0b2e 9.5px,#0b0411 22.5px,#030105 52.5px,#07030c 97.5px,#12071d 113.5px,#000000 123.5px)"></i><i style="background:linear-gradient(90deg,#6c2980 0.5px,#592278 5.5px,#220d34 14.5px,#0f0619 21.5px,#050208 37.5px,#060209 100.5px,#050208 115.5px,#000000 123.5px)"></i><i style="background:linear-gradient(90deg,#e68849 0.5px,#da764e 4.5px,#bf585f 7.5px,#90397d 10.5px,#6c297f 12.5px,#4d1d6d 14.5px,#260e3a 18.5px,#12071d 23.5px,#06020a 35.5px,#040207 103.5px,#000000 123.5px)"></i><i style="background:linear-gradient(90deg,#fee8b5 0.5px,#fee9b7 5.5px,#fde1a9 7.5px,#fbc980 9.5px,#f8b766 10.5px,#f0a054 11.5px,#e6894b 12.5px,#d7724f 13.5px,#8c377e 16.5px,#722c80 17.5px,#5a2278 18.5px,#2e1146 21.5px,#190a28 24.5px,#0a0411 31.5px,#030105 55.5px,#000000 123.5px)"></i><i style="background:linear-gradient(90deg,#d16a51 0.5px,#de7c4b 4.5px,#ea8f4c 6.5px,#f5ad5c 8.5px,#fddfa5 11.5px,#fee7b4 12.5px,#fee9b8 13.5px,#fee3ab 14.5px,#fcd08b 15.5px,#f6b464 16.5px,#ea924e 17.5px,#d67250 18.5px,#963d79 20.5px,#752d80 21.5px,#582176 22.5px,#34134e 24.5px,#1a0a29 27.5px,#0b0411 33.5px,#030105 53.5px,#000000 123.5px)"></i><i style="background:linear-gradient(90deg,#572176 0.5px,#62257d 4.5px,#88367f 8.5px,#a9486e 10.5px,#ce6853 12.5px,#df7e4b 13.5px,#ed9750 14.5px,#f7b565 15.5px,#fcd18d 16.5px,#fee4ae 17.5px,#fee9b6 18.5px,#fddea3 19.5px,#f9c074 20.5px,#ec9751 21.5px,#d47051 22.5px,#b14e69 23.5px,#88367e 24.5px,#64267c 25.5px,#361450 27.5px,#1f0c31 29.5px,#0f0618 33.5px,#050208 44.5px,#000000 123.5px)"></i><i style="background:linear-gradient(90deg,#250e39 0.5px,#2d1145 6.5px,#41185f 10.5px,#63267d 13.5px,#8e387d 15.5px,#c55f5a 17.5px,#de7c4d 18.5px,#ef9f54 19.5px,#fac57b 20.5px,#fde1a8 21.5px,#fee8b5 22.5px,#fcd899 23.5px,#f5b063 24.5px,#e0814e 25.5px,#bc5760 26.5px,#8f397b 27.5px,#66277c 28.5px,#481b67 29.5px,#260e3b 31.5px,#13081e 34.5px,#07030b 42.5px,#000000 123.5px)"></i><i style="background:linear-gradient(90deg,#140821 0.5px,#1b0b2b 9.5px,#2f1147 14.5px,#4e1d6e 17.5px,#61257c 18.5px,#7c3080 19.5px,#9b4077 20.5px,#bf595e 21.5px,#dd7c4d 22.5px,#f2a65a 23.5px,#fcd18d 24.5px,#fee7b3 25.5px,#fde0a6 26.5px,#f7ba6e 27.5px,#e3854f 28.5px,#bb5761 29.5px,#8a377c 30.5px,#5e2479 31.5px,#41185f 32.5px,#210d34 34.5px,#11071b 37.5px,#06020a 45.5px,#000000 123.5px)"></i><i style="background:linear-gradient(90deg,#0e0617 0.5px,#160922 13.5px,#220d35 17.5px,#3b1657 20.5px,#60257b 22.5px,#80327f 23.5px,#a7476f 24.5px,#ce6955 25.5px,#eb9651 26.5px,#fac880 27.5px,#fee5b0 28.5px,#fddfa6 29.5px,#f6b56a 30.5px,#dc7c4f 31.5px,#ae4d6a 32.5px,#792f7e 33.5px,#501e6f 34.5px,#361451 35.5px,#1c0b2c 37.5px,#0c0514 41.5px,#040206 54.5px,#000000 123.5px)"></i><i style="background:linear-gradient(90deg,#0b0411 0.5px,#12071c 16.5px,#200d33 21.5px,#31124a 23.5px,#541f72 25.5px,#732c7f 26.5px,#9c4175 27.5px,#c96458 28.5px,#ea9452 29.5px,#fbca84 30.5px,#fee6b1 31.5px,#fcd799 32.5px,#efa15a 33.5px,#cb6757 34.5px,#943c78 35.5px,#612579 36.5px,#3f185d 37.5px,#2b1041 38.5px,#170924 40.5px,#09040f 45.5px,#030104 66.5px,#000000 123.5px)"></i><i style="background:linear-gradient(90deg,#08030d 0.5px,#0e0617 18.5px,#180a26 23.5px,#2c1144 26.5px,#501e6f 28.5px,#712b7e 29.5px,#9e4274 30.5px,#ce6a55 31.5px,#efa159 32.5px,#fcd798 33.5px,#fee5af 34.5px,#f9c27a 35.5px,#df8251 36.5px,#ac4b6b 37.5px,#712c7d 38.5px,#481b66 39.5px,#2f1247 40.5px,#180926 42.5px,#0b0411 46.5px,#030105 62.5px,#000000 123.5px)"></i><i style="background:linear-gradient(90deg,#07030b 0.5px,#0d0515 21.5px,#160924 26.5px,#2b1042 29.5px,#3b1657 30.5px,#531f71 31.5px,#792f7e 32.5px,#ac4c6b 33.5px,#dc7d50 34.5px,#f7ba71 35.5px,#fee4ad 36.5px,#fcd798 37.5px,#ec9a57 38.5px,#be5b5f 39.5px,#80327c 40.5px,#4f1e6d 41.5px,#32134c 42.5px,#220d35 43.5px,#13071e 45.5px,#07030b 51.5px,#010102 97.5px,#000000 123.5px)"></i><i style="background:linear-gradient(90deg,#060209 0.5px,#0c0514 24.5px,#160923 29.5px,#220d35 31.5px,#2e1145 32.5px,#40185e 33.5px,#5e2478 34.5px,#8d397b 35.5px,#c5615b 36.5px,#ee9e59 37.5px,#fcd89a 38.5px,#fde1a8 39.5px,#f3ae67 40.5px,#cc6957 41.5px,#8c3979 42.5px,#552072 43.5px,#35144f 44.5px,#230d36 45.5px,#13071e 47.5px,#07030b 53.5px,#010002 104.5px,#000000 123.5px)"></i><i style="background:linear-gradient(90deg,#050208 0.5px,#0b0411 26.5px,#170924 32.5px,#250e3a 34.5px,#34134e 35.5px,#4c1c6b 36.5px,#742d7d 37.5px,#ad4d6a 38.5px,#e18552 39.5px,#fac985 40.5px,#fee4ad 41.5px,#f7bd77 42.5px,#d57454 43.5px,#953d76 44.5px,#592274 45.5px,#361451 46.5px,#230d36 47.5px,#12071d 49.5px,#07030b 55.5px,#000001 114.5px,#000000 123.5px)"></i><i style="background:linear-gradient(90deg,#050207 0.5px,#0a0410 28.5px,#140820 34.5px,#200c31 36.5px,#2c1042 37.5px,#3f185d 38.5px,#622579 39.5px,#994075 40.5px,#d57354 41.5px,#f6ba73 42.5px,#fee4ac 43.5px,#f9c682 44.5px,#da7c54 45.5px,#994074 46.5px,#5b2374 47.5px,#361451 48.5px,#220d35 49.5px,#12071d 51.5px,#06030a 57.5px,#000000 123.5px)"></i><i style="background:linear-gradient(90deg,#040207 0.5px,#0a040f 31.5px,#160923 37.5px,#260e3a 39.5px,#371552 40.5px,#552072 41.5px,#89377a 42.5px,#c96659 43.5px,#f3ae68 44.5px,#fde1a8 45.5px,#facc8a 46.5px,#dc8055 47.5px,#9b4172 48.5px,#5b2274 49.5px,#35144f 50.5px,#210d34 51.5px,#11071c 53.5px,#06020a 59.5px,#000000 123.5px)"></i><i style="background:linear-gradient(90deg,#040206 0.5px,#09040e 33.5px,#140820 39.5px,#220d35 41.5px,#31124a 42.5px,#4c1d6b 43.5px,#7d317c 44.5px,#bf5d5f 45.5px,#efa562 46.5px,#fddfa4 47.5px,#fbce8d 48.5px,#dc8156 49.5px,#994173 50.5px,#582172 51.5px,#33134c 52.5px,#200c32 53.5px,#11071b 55.5px,#060209 61.5px,#000000 123.5px)"></i><i style="background:linear-gradient(90deg,#040206 0.5px,#08030d 35.5px,#13071e 41.5px,#1f0c31 43.5px,#2d1145 44.5px,#461a64 45.5px,#752e7c 46.5px,#b95862 47.5px,#eda05f 48.5px,#fddea2 49.5px,#facd8c 50.5px,#db7f57 51.5px,#953e74 52.5px,#54206f 53.5px,#301249 54.5px,#1e0c2f 55.5px,#100619 57.5px,#060209 63.5px,#000000 123.5px)"></i><i style="background:linear-gradient(90deg,#040106 0.5px,#08030d 37.5px,#12071c 43.5px,#1d0b2e 45.5px,#2a1041 46.5px,#421960 47.5px,#702b7b 48.5px,#b55564 49.5px,#ec9e5f 50.5px,#fddda1 51.5px,#facb89 52.5px,#d77a57 53.5px,#8e3b75 54.5px,#4e1e6b 55.5px,#2d1144 56.5px,#1c0b2c 57.5px,#0f0618 59.5px,#050208 66.5px,#000000 123.5px)"></i><i style="background:linear-gradient(90deg,#040106 0.5px,#08030c 39.5px,#11071b 45.5px,#1c0b2c 47.5px,#280f3e 48.5px,#40185d 49.5px,#6e2a7a 50.5px,#b45465 51.5px,#ec9f60 52.5px,#fddea2 53.5px,#f9c684 54.5px,#d17358 55.5px,#863678 56.5px,#481b65 57.5px,#29103f 58.5px,#1a0a29 59.5px,#0b0512 62.5px,#030105 73.5px,#000000 123.5px)"></i><i style="background:linear-gradient(90deg,#030106 0.5px,#07030c 41.5px,#10061a 47.5px,#1b0b2a 49.5px,#270f3c 50.5px,#3f185c 51.5px,#6d2a79 52.5px,#b55564 53.5px,#eda364 54.5px,#fddfa3 55.5px,#f6bf7d 56.5px,#c96a5b 57.5px,#7b3178 58.5px,#42195f 59.5px,#260e3a 60.5px,#180a26 61.5px,#0b0411 64.5px,#030104 76.5px,#000000 123.5px)"></i><i style="background:linear-gradient(90deg,#030106 0.5px,#07030b 43.5px,#100619 49.5px,#1a0a2a 51.5px,#270f3c 52.5px,#3f185b 53.5px,#6e2b79 54.5px,#b85863 55.5px,#efa869 56.5px,#fddfa4 57.5px,#f4b674 58.5px,#bf6060 59.5px,#702b78 60.5px,#3b1657 61.5px,#220d35 62.5px,#160923 63.5px,#0a0410 66.5px,#020104 79.5px,#000000 123.5px)"></i><i style="background:linear-gradient(90deg,#030106 0.5px,#07030b 45.5px,#0f0619 51.5px,#1a0a29 53.5px,#270f3b 54.5px,#40185c 55.5px,#722c79 56.5px,#bd5d61 57.5px,#f2b070 58.5px,#fddfa3 59.5px,#efaa6c 60.5px,#b35565 61.5px,#642775 62.5px,#35144f 63.5px,#1f0c30 64.5px,#0f0618 66.5px,#050208 72.5px,#000000 123.5px)"></i><i style="background:linear-gradient(90deg,#040106 0.5px,#07030b 47.5px,#0f0618 53.5px,#1a0a29 55.5px,#270f3c 56.5px,#41185e 57.5px,#762e79 58.5px,#c3635d 59.5px,#f5b978 60.5px,#fddda0 61.5px,#e99d65 62.5px,#a64b6b 63.5px,#5a2270 64.5px,#2f1248 65.5px,#1c0b2c 66.5px,#0e0617 68.5px,#050208 74.5px,#000000 123.5px)"></i><i style="background:linear-gradient(90deg,#040106 0.5px,#06030a 49.5px,#0f0618 55.5px,#1a0a29 57.5px,#280f3d 58.5px,#431960 59.5px,#7c3178 60.5px,#c96b5c 61.5px,#f7c181 62.5px,#fcd99b 63.5px,#e28f60 64.5px,#984170 65.5px,#4f1e6a 66.5px,#2a1041 67.5px,#1a0a29 68.5px,#0d0515 70.5px,#040207 77.5px,#000000 123.5px)"></i><i style="background:linear-gradient(90deg,#040206 0.5px,#06030a 51.5px,#0f0618 57.5px,#1a0a2a 59.5px,#290f3e 60.5px,#461a63 61.5px,#833576 62.5px,#d0745b 63.5px,#f9c989 64.5px,#fbd394 65.5px,#d9815d 66.5px,#8a3973 67.5px,#461a63 68.5px,#260e3b 69.5px,#170925 70.5px,#0a0410 73.5px,#020104 85.5px,#000000 123.5px)"></i><i style="background:linear-gradient(90deg,#040207 0.5px,#06020a 53.5px,#0f0618 59.5px,#1b0b2a 61.5px,#2a1040 62.5px,#4a1c67 63.5px,#8b3974 64.5px,#d77e5c 65.5px,#fad091 66.5px,#f9ca8b 67.5px,#ce745d 68.5px,#7d3275 69.5px,#3f185a 70.5px,#220d35 71.5px,#160922 72.5px,#09040f 75.5px,#020103 89.5px,#000000 123.5px)"></i><i style="background:linear-gradient(90deg,#050207 0.5px,#06020a 55.5px,#0f0618 61.5px,#1b0b2b 63.5px,#2c1042 64.5px,#4e1d69 65.5px,#933e71 66.5px,#dd885f 67.5px,#fcd595 68.5px,#f6c183 69.5px,#c36760 70.5px,#702c75 71.5px,#381553 72.5px,#1f0c31 73.5px,#0f0617 75.5px,#050207 81.5px,#000000 123.5px)"></i><i style="background:linear-gradient(90deg,#050208 0.5px,#050209 56.5px,#0f0618 63.5px,#1c0b2c 65.5px,#2d1144 66.5px,#521f6c 67.5px,#9a436f 68.5px,#e29164 69.5px,#fcd898 70.5px,#f3b77a 71.5px,#b85d63 72.5px,#652773 73.5px,#33134c 74.5px,#1d0b2d 75.5px,#0e0616 77.5px,#040207 83.5px,#000000 123.5px)"></i><i style="background:linear-gradient(90deg,#060209 0.5px,#050208 57.5px,#0c0513 64.5px,#140820 66.5px,#1c0b2d 67.5px,#2f1246 68.5px,#56216e 69.5px,#a0486c 70.5px,#e69969 71.5px,#fdd998 72.5px,#eead75 73.5px,#ae5466 74.5px,#5d246f 75.5px,#2f1247 76.5px,#1b0b2a 77.5px,#0d0515 79.5px,#030106 86.5px,#000000 123.5px)"></i><i style="background:linear-gradient(90deg,#07030b 0.5px,#040207 58.5px,#0c0513 66.5px,#140820 68.5px,#1d0b2d 69.5px,#301248 70.5px,#5a226f 71.5px,#a64d69 72.5px,#e9a06d 73.5px,#fdd897 74.5px,#eaa471 75.5px,#a64e68 76.5px,#57216c 77.5px,#2c1142 78.5px,#190a28 79.5px,#0d0514 81.5px,#030105 88.5px,#000000 123.5px)"></i><i style="background:linear-gradient(90deg,#09030e 0.5px,#040106 57.5px,#0a0410 67.5px,#140820 70.5px,#1d0b2e 71.5px,#311249 72.5px,#5c236f 73.5px,#aa5067 74.5px,#eba571 75.5px,#fcd795 76.5px,#e79e6f 77.5px,#a0496a 78.5px,#521f69 79.5px,#2a1040 80.5px,#180a27 81.5px,#0c0514 83.5px,#030104 90.5px,#000000 123.5px)"></i><i style="background:linear-gradient(90deg,#0b0412 0.5px,#030105 51.5px,#08030d 68.5px,#140820 72.5px,#1d0b2e 73.5px,#31124a 74.5px,#5d246f 75.5px,#ab5167 76.5px,#eba773 77.5px,#fcd693 78.5px,#e59b70 79.5px,#9c476b 80.5px,#501e67 81.5px,#290f3e 82.5px,#180926 83.5px,#0c0513 85.5px,#020104 92.5px,#000000 123.5px)"></i><i style="background:linear-gradient(90deg,#0f0619 0.5px,#030105 42.5px,#07030b 69.5px,#0f0618 73.5px,#1d0b2d 75.5px,#301249 76.5px,#5c236e 77.5px,#a95067 78.5px,#eaa574 79.5px,#fcd591 80.5px,#e49c71 81.5px,#9d486a 82.5px,#501f67 83.5px,#280f3d 84.5px,#170924 85.5px,#0b0411 87.5px,#020103 94.5px,#000000 123.5px)"></i><i style="background:linear-gradient(90deg,#170925 0.5px,#040207 32.5px,#050209 69.5px,#0f0617 75.5px,#1c0b2c 77.5px,#2f1246 78.5px,#58226c 79.5px,#a44d68 80.5px,#e7a072 81.5px,#fcd48f 82.5px,#e6a074 83.5px,#a04b68 84.5px,#511f66 85.5px,#270f3b 86.5px,#160922 87.5px,#0a0410 89.5px,#020103 96.5px,#000000 123.5px)"></i><i style="background:linear-gradient(90deg,#2b1042 0.5px,#1b0b2b 10.5px,#09030e 24.5px,#030104 56.5px,#08030c 74.5px,#12071d 78.5px,#1b0a2a 79.5px,#2c1142 80.5px,#521f69 81.5px,#9a466b 82.5px,#e0956f 83.5px,#fbcf85 84.5px,#e9a572 85.5px,#a34f66 86.5px,#511f64 87.5px,#260e3a 88.5px,#140820 89.5px,#09040e 91.5px,#010002 99.5px,#000000 123.5px)"></i><i style="background:linear-gradient(90deg,#5e247d 0.5px,#4c1c6d 6.5px,#1b0a2a 16.5px,#0a040f 26.5px,#030104 52.5px,#08030c 76.5px,#11071c 80.5px,#190a27 81.5px,#280f3d 82.5px,#491c63 83.5px,#8b3b6d 84.5px,#d38167 85.5px,#f8c070 86.5px,#eca669 87.5px,#a95565 88.5px,#542064 89.5px,#250e38 90.5px,#13081e 91.5px,#08030c 93.5px,#010001 101.5px,#000000 123.5px)"></i><i style="background:linear-gradient(90deg,#c75b59 0.5px,#ba5065 4.5px,#883583 9.5px,#6c2983 11.5px,#481b68 14.5px,#200d33 19.5px,#0f0617 25.5px,#040207 39.5px,#060209 76.5px,#0d0514 81.5px,#160924 83.5px,#220d35 84.5px,#3c1656 85.5px,#712d6e 86.5px,#ba6464 87.5px,#eea55f 88.5px,#efa455 89.5px,#b15e62 90.5px,#592362 91.5px,#250e38 92.5px,#12071c 93.5px,#07030b 95.5px,#000001 104.5px,#000000 123.5px)"></i><i style="background:linear-gradient(90deg,#fbc364 0.5px,#fab753 4.5px,#f0943d 8.5px,#e37a41 10.5px,#ca5d56 12.5px,#8e3881 15.5px,#792f85 16.5px,#531f74 18.5px,#2e1146 21.5px,#160923 25.5px,#08030d 33.5px,#020104 62.5px,#08030d 81.5px,#13081f 85.5px,#1b0b2b 86.5px,#2c1143 87.5px,#511f64 88.5px,#934367 89.5px,#d47f5a 90.5px,#ee9542 91.5px,#bc675a 92.5px,#642960 93.5px,#270f3a 94.5px,#11071b 95.5px,#060209 97.5px,#000001 107.5px,#000000 123.5px)"></i><i style="background:linear-gradient(90deg,#fffcf0 0.5px,#fff9e6 4.5px,#fef1cc 7.5px,#fddd97 10.5px,#f9b653 13.5px,#f6a442 14.5px,#ee8f3d 15.5px,#e27a41 16.5px,#d1644f 17.5px,#9e3f7a 19.5px,#833384 20.5px,#682881 21.5px,#34134e 24.5px,#1b0a2a 27.5px,#0b0411 33.5px,#030104 51.5px,#06030a 82.5px,#100619 87.5px,#1e0c2f 89.5px,#33134b 90.5px,#5f2565 91.5px,#a2505f 92.5px,#d6734a 93.5px,#c7644f 94.5px,#75315e 95.5px,#2c113f 96.5px,#11071a 97.5px,#040207 99.5px,#000000 112.5px,#000000 123.5px)"></i><i style="background:linear-gradient(90deg,#fffffd 0.5px,#fffffd 10.5px,#fffcf2 12.5px,#fff3d3 14.5px,#fddd98 16.5px,#fab856 18.5px,#f4a041 19.5px,#e8843f 20.5px,#d5694b 21.5px,#993d7c 23.5px,#792f84 24.5px,#5d237b 25.5px,#361451 27.5px,#1a0a29 30.5px,#0b0512 35.5px,#030105 50.5px,#06020a 84.5px,#0f0618 90.5px,#1c0b2c 92.5px,#301247 93.5px,#5b245f 94.5px,#96435d 95.5px,#ad496b 96.5px,#7f3368 97.5px,#371548 98.5px,#11071b 99.5px,#07030b 100.5px,#010001 104.5px,#000000 123.5px)"></i><i style="background:linear-gradient(90deg,#fff8e0 0.5px,#ffffff 14.5px,#fffdf7 17.5px,#fff9e8 18.5px,#fef1ce 19.5px,#fcd27f 21.5px,#fab957 22.5px,#f39b40 23.5px,#e37b41 24.5px,#c85d57 25.5px,#a44375 26.5px,#803283 27.5px,#5f247c 28.5px,#35144f 30.5px,#1e0c30 32.5px,#0e0616 36.5px,#040206 47.5px,#050208 86.5px,#0c0514 93.5px,#150822 95.5px,#220d34 96.5px,#612667 98.5px,#592274 99.5px,#36154f 100.5px,#14081f 101.5px,#06020a 102.5px,#000001 105.5px,#000000 123.5px)"></i><i style="background:linear-gradient(90deg,#fee098 0.5px,#fee7aa 6.5px,#fffdf4 15.5px,#fffffe 20.5px,#fffef9 21.5px,#fffae9 22.5px,#fef0ca 23.5px,#fbc76c 25.5px,#f6a847 26.5px,#e88340 27.5px,#cd6153 28.5px,#a54474 29.5px,#7d3183 30.5px,#5b2279 31.5px,#301248 33.5px,#1b0b2a 35.5px,#0c0514 39.5px,#030105 51.5px,#060209 92.5px,#0c0513 98.5px,#1f0c30 101.5px,#040106 104.5px,#000000 113.5px,#000000 123.5px)"></i><i style="background:linear-gradient(90deg,#fdce71 0.5px,#fdd37a 8.5px,#fdde94 12.5px,#fffbee 19.5px,#fffffd 22.5px,#fffffe 24.5px,#fffdf4 25.5px,#fff5d9 26.5px,#fee5ab 27.5px,#fccb74 28.5px,#f7a949 29.5px,#e68241 30.5px,#c75c58 31.5px,#9c3f7a 32.5px,#712b82 33.5px,#501e70 34.5px,#280f3e 36.5px,#170924 38.5px,#09040f 43.5px,#020104 62.5px,#030105 104.5px,#000000 123.5px)"></i><i style="background:linear-gradient(90deg,#fddc8f 0.5px,#fdd279 8.5px,#fdce70 13.5px,#fdd681 16.5px,#fee7ab 19.5px,#fffbee 23.5px,#fffffe 26.5px,#fffdf7 28.5px,#fff6db 29.5px,#fee4aa 30.5px,#fbc86e 31.5px,#f4a145 32.5px,#df7645 33.5px,#b75066 34.5px,#883581 35.5px,#5e247b 36.5px,#411860 37.5px,#2d1145 38.5px,#180a26 40.5px,#0b0411 44.5px,#030104 58.5px,#000000 123.5px)"></i><i style="background:linear-gradient(90deg,#fff6d6 0.5px,#fff2c9 5.5px,#fee5a5 10.5px,#fdce71 16.5px,#fdcf72 19.5px,#fdd887 21.5px,#fffae8 26.5px,#fffefb 28.5px,#fffffe 30.5px,#fffdf5 31.5px,#fff3d4 32.5px,#fddd9a 33.5px,#fabb5c 34.5px,#ed8f40 35.5px,#ce6353 36.5px,#9d4078 37.5px,#6d2a81 38.5px,#4a1c69 39.5px,#32134b 40.5px,#190a28 42.5px,#0b0411 46.5px,#030104 59.5px,#000000 123.5px)"></i><i style="background:linear-gradient(90deg,#fffefc 0.5px,#fffcf2 8.5px,#fff6d9 12.5px,#fdcf73 20.5px,#fccc6c 22.5px,#fdd37b 24.5px,#fee39f 26.5px,#fff9e5 29.5px,#fffefb 31.5px,#fffffd 33.5px,#fffbed 34.5px,#feecbf 35.5px,#fccf7c 36.5px,#f5a548 37.5px,#dd7447 38.5px,#af4b6c 39.5px,#7b3082 40.5px,#511f71 41.5px,#361451 42.5px,#250e39 43.5px,#140820 45.5px,#08030c 50.5px,#020103 74.5px,#000000 123.5px)"></i><i style="background:linear-gradient(90deg,#fffefc 0.5px,#fffefa 13.5px,#fffbea 16.5px,#feefc0 19.5px,#fdd37a 23.5px,#fccb6a 25.5px,#fdd075 27.5px,#fee19b 29.5px,#fffae7 32.5px,#fffefc 34.5px,#fffef9 36.5px,#fff5d9 37.5px,#fddd9a 38.5px,#f9b656 39.5px,#e78442 40.5px,#bd5561 41.5px,#863580 42.5px,#572175 43.5px,#391555 44.5px,#260e3b 45.5px,#140820 47.5px,#07030c 52.5px,#020103 76.5px,#000000 123.5px)"></i><i style="background:linear-gradient(90deg,#fff4d0 0.5px,#fff9e5 7.5px,#fffffd 13.5px,#fffefb 18.5px,#fff9e4 21.5px,#fdd580 26.5px,#fcca69 28.5px,#fcca69 29.5px,#fdcf72 30.5px,#fee29d 32.5px,#fff6d7 34.5px,#fffbed 35.5px,#fffffe 37.5px,#fffffd 38.5px,#fffaea 39.5px,#fee7b3 40.5px,#fbc368 41.5px,#ed9142 42.5px,#c75e58 43.5px,#8f397d 44.5px,#5c2378 45.5px,#3b1657 46.5px,#270f3b 47.5px,#14081f 49.5px,#07030b 54.5px,#020103 80.5px,#000000 123.5px)"></i><i style="background:linear-gradient(90deg,#fddc90 0.5px,#fee39f 6.5px,#fff2cb 12.5px,#fffef8 17.5px,#fffffe 21.5px,#fffbed 24.5px,#fff1c8 26.5px,#fdd581 29.5px,#fdcd70 30.5px,#fcc967 31.5px,#fcc968 32.5px,#fdcf73 33.5px,#fee5a5 35.5px,#fff8e2 37.5px,#fffdf4 38.5px,#fffffe 40.5px,#fffcf3 41.5px,#feeec5 42.5px,#fccd78 43.5px,#f19a44 44.5px,#ce6453 45.5px,#943b7b 46.5px,#5e2479 47.5px,#3b1658 48.5px,#260f3b 49.5px,#13081f 51.5px,#07030b 56.5px,#020102 83.5px,#000000 123.5px)"></i><i style="background:linear-gradient(90deg,#fcc35c 0.5px,#fccb6b 7.5px,#fdde94 13.5px,#fffdf5 21.5px,#ffffff 24.5px,#fffcf1 27.5px,#fff2cb 29.5px,#fdd37c 32.5px,#fccb6b 33.5px,#fcc764 34.5px,#fcca68 35.5px,#fdd279 36.5px,#feebb5 38.5px,#fff5d6 39.5px,#fffbee 40.5px,#fffefa 41.5px,#fffffe 42.5px,#fffef8 43.5px,#fef2d1 44.5px,#fcd385 45.5px,#f3a148 46.5px,#d26850 47.5px,#973d79 48.5px,#5f2479 49.5px,#3b1657 50.5px,#250e3a 51.5px,#12071e 53.5px,#07030a 58.5px,#010102 88.5px,#000000 123.5px)"></i><i style="background:linear-gradient(90deg,#f9ab3c 0.5px,#fbb84b 9.5px,#fcc866 14.5px,#fee29d 19.5px,#fffbed 24.5px,#fffffd 26.5px,#fffefa 29.5px,#fffcf1 30.5px,#fff8e0 31.5px,#fdcf73 35.5px,#fcc865 36.5px,#fcc662 37.5px,#fdcc6d 38.5px,#fdd785 39.5px,#fffae7 42.5px,#fffef8 43.5px,#fffffe 44.5px,#fffefb 45.5px,#fff5d9 46.5px,#fdd78e 47.5px,#f4a54b 48.5px,#d36a4f 49.5px,#973d79 50.5px,#5e2478 51.5px,#391555 52.5px,#240e38 53.5px,#12071c 55.5px,#06020a 60.5px,#010001 96.5px,#000000 123.5px)"></i><i style="background:linear-gradient(90deg,#f4902a 0.5px,#f79e30 9.5px,#fbb94d 16.5px,#fdce70 20.5px,#fee8ae 24.5px,#fffae7 27.5px,#fffefc 29.5px,#fffef9 32.5px,#fffbee 33.5px,#fff6da 34.5px,#fdd47e 37.5px,#fcc968 38.5px,#fcc55f 39.5px,#fcc865 40.5px,#fdd279 41.5px,#fff8e1 44.5px,#fffdf6 45.5px,#fffffd 46.5px,#fffefc 47.5px,#fff6de 48.5px,#fdd993 49.5px,#f4a64c 50.5px,#d26a50 51.5px,#943c7a 52.5px,#5b2276 53.5px,#361451 54.5px,#220d35 55.5px,#11071b 57.5px,#060209 62.5px,#000001 106.5px,#000000 123.5px)"></i><i style="background:linear-gradient(90deg,#ea7830 0.5px,#f2892a 11.5px,#f79f30 16.5px,#fcc159 22.5px,#fdd681 25.5px,#fff9e5 30.5px,#fffefc 32.5px,#fffffd 34.5px,#fffdf6 35.5px,#fffae7 36.5px,#fee7aa 38.5px,#fccc6d 40.5px,#fcc45e 41.5px,#fcc55f 42.5px,#fdcd70 43.5px,#fddc8f 44.5px,#fff7db 46.5px,#fffdf3 47.5px,#fffffd 48.5px,#fffffd 49.5px,#fff7e0 50.5px,#fdda94 51.5px,#f4a54d 52.5px,#d06852 53.5px,#903a7b 54.5px,#562173 55.5px,#33134d 56.5px,#200c32 57.5px,#100619 59.5px,#050208 65.5px,#000000 123.5px)"></i><i style="background:linear-gradient(90deg,#d86249 0.5px,#e26d3c 9.5px,#f2892a 17.5px,#f7a132 21.5px,#fcc35c 26.5px,#fddb8d 29.5px,#fffae8 33.5px,#fffdf7 34.5px,#fffffe 36.5px,#fffcf0 38.5px,#fff6d9 39.5px,#fdcf73 42.5px,#fcc45f 43.5px,#fcc25b 44.5px,#fcca69 45.5px,#fdd886 46.5px,#fff5d6 48.5px,#fffcf1 49.5px,#fffefc 50.5px,#fffffd 51.5px,#fff7e0 52.5px,#fdd993 53.5px,#f3a24b 54.5px,#cc6455 55.5px,#89377c 56.5px,#511e6e 57.5px,#2f1248 58.5px,#1e0c2e 59.5px,#0f0618 61.5px,#040207 67.5px,#000000 123.5px)"></i><i style="background:linear-gradient(90deg,#cb555b 0.5px,#d35d50 11.5px,#ef802c 20.5px,#f69a2d 24.5px,#fbba4d 28.5px,#fdd27a 31.5px,#fffbee 36.5px,#fffefb 37.5px,#fffffd 39.5px,#fffdf5 40.5px,#fff9e2 41.5px,#fdd177 44.5px,#fcc55f 45.5px,#fcc158 46.5px,#fcc763 47.5px,#fdd580 48.5px,#fff4d2 50.5px,#fffcf0 51.5px,#fffefc 52.5px,#fffffd 53.5px,#fff6df 54.5px,#fdd78e 55.5px,#f19d4a 56.5px,#c65e59 57.5px,#81337d 58.5px,#4b1c69 59.5px,#2c1042 60.5px,#1b0b2b 61.5px,#0e0616 63.5px,#040207 69.5px,#000000 123.5px)"></i><i style="background:linear-gradient(90deg,#c65260 0.5px,#ce5757 15.5px,#e26e3b 21.5px,#f1862b 25.5px,#f79e30 28.5px,#fcc159 32.5px,#fdde94 35.5px,#fff9e3 38.5px,#fffdf6 39.5px,#fffffe 41.5px,#fffef9 42.5px,#fffae9 43.5px,#fff1c9 44.5px,#fdd37b 46.5px,#fcc560 47.5px,#fcbf56 48.5px,#fcc45f 49.5px,#fdd27b 50.5px,#fff3cf 52.5px,#fffcef 53.5px,#fffefc 54.5px,#fffefd 55.5px,#fff5db 56.5px,#fcd388 57.5px,#ee9748 58.5px,#be585f 59.5px,#782f7d 60.5px,#441a62 61.5px,#280f3d 62.5px,#190a28 63.5px,#0a0410 66.5px,#020104 76.5px,#000000 123.5px)"></i><i style="background:linear-gradient(90deg,#c8535d 0.5px,#c9535d 18.5px,#d8624a 23.5px,#ec7c2e 27.5px,#f5932b 30.5px,#fab142 33.5px,#fdcd6f 36.5px,#feedbb 39.5px,#fffcf0 41.5px,#fffefc 42.5px,#fffefb 44.5px,#fffbed 45.5px,#fff3cf 46.5px,#fdd47d 48.5px,#fcc55f 49.5px,#fbbe54 50.5px,#fcc25b 51.5px,#fdd077 52.5px,#fff3ce 54.5px,#fffcef 55.5px,#fffefc 56.5px,#fffefc 57.5px,#fff4d7 58.5px,#fccf7f 59.5px,#eb9047 60.5px,#b45166 61.5px,#6e2b7c 62.5px,#3e175a 63.5px,#240e38 64.5px,#170924 65.5px,#09040f 68.5px,#020103 79.5px,#000000 123.5px)"></i><i style="background:linear-gradient(90deg,#d55f4d 0.5px,#c45161 19.5px,#cf5955 25.5px,#ef822c 31.5px,#f79e30 34.5px,#fbbd52 37.5px,#fdd279 39.5px,#fffae9 43.5px,#fffef9 44.5px,#fffefc 46.5px,#fffcf0 47.5px,#fff4d3 48.5px,#fdd47e 50.5px,#fcc45e 51.5px,#fbbd51 52.5px,#fcc058 53.5px,#fdcf73 54.5px,#fff3cd 56.5px,#fffcef 57.5px,#fffefc 58.5px,#fffefb 59.5px,#fef1d0 60.5px,#fbc976 61.5px,#e58748 62.5px,#aa4a6c 63.5px,#652678 64.5px,#381553 65.5px,#210d33 66.5px,#0f0618 68.5px,#050208 73.5px,#000000 123.5px)"></i><i style="background:linear-gradient(90deg,#eb7a30 0.5px,#e26d3b 8.5px,#c6525f 18.5px,#c7525f 26.5px,#d7614b 30.5px,#ef822b 34.5px,#f5962c 36.5px,#fbb84a 39.5px,#fccd6e 41.5px,#fef0c4 44.5px,#fff9e2 45.5px,#fffdf7 46.5px,#fffffe 47.5px,#fffefc 48.5px,#fffcf2 49.5px,#fff5d6 50.5px,#fdd47e 52.5px,#fcc35c 53.5px,#fbbb4f 54.5px,#fbbf56 55.5px,#fdce71 56.5px,#fff3ce 58.5px,#fffcf0 59.5px,#fffefd 60.5px,#fffef9 61.5px,#feeec8 62.5px,#fac26c 63.5px,#df7e4a 64.5px,#9e4272 65.5px,#5b2274 66.5px,#32134b 67.5px,#1d0b2e 68.5px,#0e0616 70.5px,#040206 76.5px,#000000 123.5px)"></i></div>
<svg width="550" height="309" viewBox="0 0 550 309">
<defs><linearGradient id="cb" x1="0" y1="0" x2="0" y2="1"><stop offset="0.000" stop-color="#fffffa"/><stop offset="0.050" stop-color="#fff5d0"/><stop offset="0.150" stop-color="#fde090"/><stop offset="0.270" stop-color="#fcc860"/><stop offset="0.400" stop-color="#f89838"/><stop offset="0.520" stop-color="#f08030"/><stop offset="0.580" stop-color="#e06040"/><stop offset="0.680" stop-color="#c04a60"/><stop offset="0.740" stop-color="#a03e7d"/><stop offset="0.800" stop-color="#733091"/><stop offset="0.870" stop-color="#502687"/><stop offset="0.930" stop-color="#281450"/><stop offset="1.000" stop-color="#000000"/></linearGradient></defs>
<text x="3.80" y="13.10" font-size="11.20" fill="#111" stroke="#111" stroke-width="0.00" text-anchor="start" font-weight="bold">a.</text>
<text x="188.40" y="13.10" font-size="11.20" fill="#111" stroke="#111" stroke-width="0.00" text-anchor="start" font-weight="bold">b.</text>
<text x="354.60" y="13.10" font-size="11.20" fill="#111" stroke="#111" stroke-width="0.00" text-anchor="start" font-weight="bold">c.</text>
<text x="3.80" y="183.20" font-size="11.20" fill="#111" stroke="#111" stroke-width="0.00" text-anchor="start" font-weight="bold">d.</text>
<text x="188.20" y="182.80" font-size="11.20" fill="#111" stroke="#111" stroke-width="0.00" text-anchor="start" font-weight="bold">e.</text>
<text x="355.20" y="182.80" font-size="11.20" fill="#111" stroke="#111" stroke-width="0.00" text-anchor="start" font-weight="bold">f.</text>
<rect x="49.90" y="26.90" width="125.30" height="117.30" fill="none" stroke="#a8a8a8" stroke-width="0.9"/>
<path d="M52.00 144.20v-1.60M52.00 26.90v1.60M58.72 144.20v-0.90M58.72 26.90v0.90M65.44 144.20v-0.90M65.44 26.90v0.90M72.17 144.20v-0.90M72.17 26.90v0.90M78.89 144.20v-0.90M78.89 26.90v0.90M85.61 144.20v-0.90M85.61 26.90v0.90M92.33 144.20v-1.60M92.33 26.90v1.60M99.06 144.20v-0.90M99.06 26.90v0.90M105.78 144.20v-0.90M105.78 26.90v0.90M112.50 144.20v-0.90M112.50 26.90v0.90M119.22 144.20v-0.90M119.22 26.90v0.90M125.94 144.20v-0.90M125.94 26.90v0.90M132.67 144.20v-1.60M132.67 26.90v1.60M139.39 144.20v-0.90M139.39 26.90v0.90M146.11 144.20v-0.90M146.11 26.90v0.90M152.83 144.20v-0.90M152.83 26.90v0.90M159.56 144.20v-0.90M159.56 26.90v0.90M166.28 144.20v-0.90M166.28 26.90v0.90M173.00 144.20v-1.60M173.00 26.90v1.60M49.90 142.00h1.60M175.20 142.00h-1.60M49.90 137.48h0.90M175.20 137.48h-0.90M49.90 132.96h0.90M175.20 132.96h-0.90M49.90 128.44h0.90M175.20 128.44h-0.90M49.90 123.92h0.90M175.20 123.92h-0.90M49.90 119.40h1.60M175.20 119.40h-1.60M49.90 114.88h0.90M175.20 114.88h-0.90M49.90 110.36h0.90M175.20 110.36h-0.90M49.90 105.84h0.90M175.20 105.84h-0.90M49.90 101.32h0.90M175.20 101.32h-0.90M49.90 96.80h1.60M175.20 96.80h-1.60M49.90 92.28h0.90M175.20 92.28h-0.90M49.90 87.76h0.90M175.20 87.76h-0.90M49.90 83.24h0.90M175.20 83.24h-0.90M49.90 78.72h0.90M175.20 78.72h-0.90M49.90 74.20h1.60M175.20 74.20h-1.60M49.90 69.68h0.90M175.20 69.68h-0.90M49.90 65.16h0.90M175.20 65.16h-0.90M49.90 60.64h0.90M175.20 60.64h-0.90M49.90 56.12h0.90M175.20 56.12h-0.90M49.90 51.60h1.60M175.20 51.60h-1.60M49.90 47.08h0.90M175.20 47.08h-0.90M49.90 42.56h0.90M175.20 42.56h-0.90M49.90 38.04h0.90M175.20 38.04h-0.90M49.90 33.52h0.90M175.20 33.52h-0.90M49.90 29.00h1.60M175.20 29.00h-1.60" stroke="#555" stroke-width="0.7" fill="none"/>
<text x="46.90" y="145.20" font-size="10.20" fill="#333" stroke="#333" stroke-width="0.12" text-anchor="end" font-weight="normal" textLength="19.60" lengthAdjust="spacingAndGlyphs">1300</text>
<text x="46.90" y="122.60" font-size="10.20" fill="#333" stroke="#333" stroke-width="0.12" text-anchor="end" font-weight="normal" textLength="19.60" lengthAdjust="spacingAndGlyphs">1400</text>
<text x="46.90" y="100.00" font-size="10.20" fill="#333" stroke="#333" stroke-width="0.12" text-anchor="end" font-weight="normal" textLength="19.60" lengthAdjust="spacingAndGlyphs">1500</text>
<text x="46.90" y="77.40" font-size="10.20" fill="#333" stroke="#333" stroke-width="0.12" text-anchor="end" font-weight="normal" textLength="19.60" lengthAdjust="spacingAndGlyphs">1600</text>
<text x="46.90" y="54.80" font-size="10.20" fill="#333" stroke="#333" stroke-width="0.12" text-anchor="end" font-weight="normal" textLength="19.60" lengthAdjust="spacingAndGlyphs">1700</text>
<text x="46.90" y="32.20" font-size="10.20" fill="#333" stroke="#333" stroke-width="0.12" text-anchor="end" font-weight="normal" textLength="19.60" lengthAdjust="spacingAndGlyphs">1800</text>
<text x="52.80" y="153.80" font-size="9.00" fill="#333" stroke="#333" stroke-width="0.22" text-anchor="middle" font-weight="normal">0<tspan font-size="5.58" dy="-3.0">o</tspan></text>
<text x="92.20" y="153.80" font-size="9.00" fill="#333" stroke="#333" stroke-width="0.22" text-anchor="middle" font-weight="normal">30<tspan font-size="5.58" dy="-3.0">o</tspan></text>
<text x="131.60" y="153.80" font-size="9.00" fill="#333" stroke="#333" stroke-width="0.22" text-anchor="middle" font-weight="normal">60<tspan font-size="5.58" dy="-3.0">o</tspan></text>
<text x="171.00" y="153.80" font-size="9.00" fill="#333" stroke="#333" stroke-width="0.22" text-anchor="middle" font-weight="normal">90<tspan font-size="5.58" dy="-3.0">o</tspan></text>
<text x="110.70" y="169.20" font-size="11.40" fill="#222" stroke="#222" stroke-width="0.20" text-anchor="middle" font-weight="normal" textLength="74.30" lengthAdjust="spacingAndGlyphs">Incidence angle</text>
<rect x="216.10" y="28.60" width="125.60" height="116.40" fill="none" stroke="#a8a8a8" stroke-width="0.9"/>
<path d="M218.00 145.00v-1.60M218.00 28.60v1.60M224.78 145.00v-0.90M224.78 28.60v0.90M231.56 145.00v-0.90M231.56 28.60v0.90M238.33 145.00v-0.90M238.33 28.60v0.90M245.11 145.00v-0.90M245.11 28.60v0.90M251.89 145.00v-0.90M251.89 28.60v0.90M258.67 145.00v-1.60M258.67 28.60v1.60M265.44 145.00v-0.90M265.44 28.60v0.90M272.22 145.00v-0.90M272.22 28.60v0.90M279.00 145.00v-0.90M279.00 28.60v0.90M285.78 145.00v-0.90M285.78 28.60v0.90M292.56 145.00v-0.90M292.56 28.60v0.90M299.33 145.00v-1.60M299.33 28.60v1.60M306.11 145.00v-0.90M306.11 28.60v0.90M312.89 145.00v-0.90M312.89 28.60v0.90M319.67 145.00v-0.90M319.67 28.60v0.90M326.44 145.00v-0.90M326.44 28.60v0.90M333.22 145.00v-0.90M333.22 28.60v0.90M340.00 145.00v-1.60M340.00 28.60v1.60M216.10 143.00h1.60M341.70 143.00h-1.60M216.10 138.52h0.90M341.70 138.52h-0.90M216.10 134.04h0.90M341.70 134.04h-0.90M216.10 129.56h0.90M341.70 129.56h-0.90M216.10 125.08h0.90M341.70 125.08h-0.90M216.10 120.60h1.60M341.70 120.60h-1.60M216.10 116.12h0.90M341.70 116.12h-0.90M216.10 111.64h0.90M341.70 111.64h-0.90M216.10 107.16h0.90M341.70 107.16h-0.90M216.10 102.68h0.90M341.70 102.68h-0.90M216.10 98.20h1.60M341.70 98.20h-1.60M216.10 93.72h0.90M341.70 93.72h-0.90M216.10 89.24h0.90M341.70 89.24h-0.90M216.10 84.76h0.90M341.70 84.76h-0.90M216.10 80.28h0.90M341.70 80.28h-0.90M216.10 75.80h1.60M341.70 75.80h-1.60M216.10 71.32h0.90M341.70 71.32h-0.90M216.10 66.84h0.90M341.70 66.84h-0.90M216.10 62.36h0.90M341.70 62.36h-0.90M216.10 57.88h0.90M341.70 57.88h-0.90M216.10 53.40h1.60M341.70 53.40h-1.60M216.10 48.92h0.90M341.70 48.92h-0.90M216.10 44.44h0.90M341.70 44.44h-0.90M216.10 39.96h0.90M341.70 39.96h-0.90M216.10 35.48h0.90M341.70 35.48h-0.90M216.10 31.00h1.60M341.70 31.00h-1.60" stroke="#555" stroke-width="0.7" fill="none"/>
<text x="213.10" y="146.20" font-size="10.20" fill="#333" stroke="#333" stroke-width="0.12" text-anchor="end" font-weight="normal" textLength="19.60" lengthAdjust="spacingAndGlyphs">1300</text>
<text x="213.10" y="123.80" font-size="10.20" fill="#333" stroke="#333" stroke-width="0.12" text-anchor="end" font-weight="normal" textLength="19.60" lengthAdjust="spacingAndGlyphs">1400</text>
<text x="213.10" y="101.40" font-size="10.20" fill="#333" stroke="#333" stroke-width="0.12" text-anchor="end" font-weight="normal" textLength="19.60" lengthAdjust="spacingAndGlyphs">1500</text>
<text x="213.10" y="79.00" font-size="10.20" fill="#333" stroke="#333" stroke-width="0.12" text-anchor="end" font-weight="normal" textLength="19.60" lengthAdjust="spacingAndGlyphs">1600</text>
<text x="213.10" y="56.60" font-size="10.20" fill="#333" stroke="#333" stroke-width="0.12" text-anchor="end" font-weight="normal" textLength="19.60" lengthAdjust="spacingAndGlyphs">1700</text>
<text x="213.10" y="34.20" font-size="10.20" fill="#333" stroke="#333" stroke-width="0.12" text-anchor="end" font-weight="normal" textLength="19.60" lengthAdjust="spacingAndGlyphs">1800</text>
<text x="218.80" y="153.80" font-size="9.00" fill="#333" stroke="#333" stroke-width="0.22" text-anchor="middle" font-weight="normal">0<tspan font-size="5.58" dy="-3.0">o</tspan></text>
<text x="258.53" y="153.80" font-size="9.00" fill="#333" stroke="#333" stroke-width="0.22" text-anchor="middle" font-weight="normal">30<tspan font-size="5.58" dy="-3.0">o</tspan></text>
<text x="298.27" y="153.80" font-size="9.00" fill="#333" stroke="#333" stroke-width="0.22" text-anchor="middle" font-weight="normal">60<tspan font-size="5.58" dy="-3.0">o</tspan></text>
<text x="338.00" y="153.80" font-size="9.00" fill="#333" stroke="#333" stroke-width="0.22" text-anchor="middle" font-weight="normal">90<tspan font-size="5.58" dy="-3.0">o</tspan></text>
<text x="277.20" y="169.20" font-size="11.40" fill="#222" stroke="#222" stroke-width="0.20" text-anchor="middle" font-weight="normal" textLength="74.30" lengthAdjust="spacingAndGlyphs">Incidence angle</text>
<rect x="383.50" y="29.00" width="128.20" height="115.20" fill="none" stroke="#a8a8a8" stroke-width="0.9"/>
<path d="M386.00 144.20v-1.60M386.00 29.00v1.60M392.89 144.20v-0.90M392.89 29.00v0.90M399.78 144.20v-0.90M399.78 29.00v0.90M406.67 144.20v-0.90M406.67 29.00v0.90M413.56 144.20v-0.90M413.56 29.00v0.90M420.44 144.20v-0.90M420.44 29.00v0.90M427.33 144.20v-1.60M427.33 29.00v1.60M434.22 144.20v-0.90M434.22 29.00v0.90M441.11 144.20v-0.90M441.11 29.00v0.90M448.00 144.20v-0.90M448.00 29.00v0.90M454.89 144.20v-0.90M454.89 29.00v0.90M461.78 144.20v-0.90M461.78 29.00v0.90M468.67 144.20v-1.60M468.67 29.00v1.60M475.56 144.20v-0.90M475.56 29.00v0.90M482.44 144.20v-0.90M482.44 29.00v0.90M489.33 144.20v-0.90M489.33 29.00v0.90M496.22 144.20v-0.90M496.22 29.00v0.90M503.11 144.20v-0.90M503.11 29.00v0.90M510.00 144.20v-1.60M510.00 29.00v1.60M383.50 142.00h1.60M511.70 142.00h-1.60M383.50 137.56h0.90M511.70 137.56h-0.90M383.50 133.12h0.90M511.70 133.12h-0.90M383.50 128.68h0.90M511.70 128.68h-0.90M383.50 124.24h0.90M511.70 124.24h-0.90M383.50 119.80h1.60M511.70 119.80h-1.60M383.50 115.36h0.90M511.70 115.36h-0.90M383.50 110.92h0.90M511.70 110.92h-0.90M383.50 106.48h0.90M511.70 106.48h-0.90M383.50 102.04h0.90M511.70 102.04h-0.90M383.50 97.60h1.60M511.70 97.60h-1.60M383.50 93.16h0.90M511.70 93.16h-0.90M383.50 88.72h0.90M511.70 88.72h-0.90M383.50 84.28h0.90M511.70 84.28h-0.90M383.50 79.84h0.90M511.70 79.84h-0.90M383.50 75.40h1.60M511.70 75.40h-1.60M383.50 70.96h0.90M511.70 70.96h-0.90M383.50 66.52h0.90M511.70 66.52h-0.90M383.50 62.08h0.90M511.70 62.08h-0.90M383.50 57.64h0.90M511.70 57.64h-0.90M383.50 53.20h1.60M511.70 53.20h-1.60M383.50 48.76h0.90M511.70 48.76h-0.90M383.50 44.32h0.90M511.70 44.32h-0.90M383.50 39.88h0.90M511.70 39.88h-0.90M383.50 35.44h0.90M511.70 35.44h-0.90M383.50 31.00h1.60M511.70 31.00h-1.60" stroke="#555" stroke-width="0.7" fill="none"/>
<text x="380.50" y="145.20" font-size="10.20" fill="#333" stroke="#333" stroke-width="0.12" text-anchor="end" font-weight="normal" textLength="19.60" lengthAdjust="spacingAndGlyphs">1300</text>
<text x="380.50" y="123.00" font-size="10.20" fill="#333" stroke="#333" stroke-width="0.12" text-anchor="end" font-weight="normal" textLength="19.60" lengthAdjust="spacingAndGlyphs">1400</text>
<text x="380.50" y="100.80" font-size="10.20" fill="#333" stroke="#333" stroke-width="0.12" text-anchor="end" font-weight="normal" textLength="19.60" lengthAdjust="spacingAndGlyphs">1500</text>
<text x="380.50" y="78.60" font-size="10.20" fill="#333" stroke="#333" stroke-width="0.12" text-anchor="end" font-weight="normal" textLength="19.60" lengthAdjust="spacingAndGlyphs">1600</text>
<text x="380.50" y="56.40" font-size="10.20" fill="#333" stroke="#333" stroke-width="0.12" text-anchor="end" font-weight="normal" textLength="19.60" lengthAdjust="spacingAndGlyphs">1700</text>
<text x="380.50" y="34.20" font-size="10.20" fill="#333" stroke="#333" stroke-width="0.12" text-anchor="end" font-weight="normal" textLength="19.60" lengthAdjust="spacingAndGlyphs">1800</text>
<text x="386.80" y="153.80" font-size="9.00" fill="#333" stroke="#333" stroke-width="0.22" text-anchor="middle" font-weight="normal">0<tspan font-size="5.58" dy="-3.0">o</tspan></text>
<text x="427.20" y="153.80" font-size="9.00" fill="#333" stroke="#333" stroke-width="0.22" text-anchor="middle" font-weight="normal">30<tspan font-size="5.58" dy="-3.0">o</tspan></text>
<text x="467.60" y="153.80" font-size="9.00" fill="#333" stroke="#333" stroke-width="0.22" text-anchor="middle" font-weight="normal">60<tspan font-size="5.58" dy="-3.0">o</tspan></text>
<text x="508.00" y="153.80" font-size="9.00" fill="#333" stroke="#333" stroke-width="0.22" text-anchor="middle" font-weight="normal">90<tspan font-size="5.58" dy="-3.0">o</tspan></text>
<text x="446.20" y="169.20" font-size="11.40" fill="#222" stroke="#222" stroke-width="0.20" text-anchor="middle" font-weight="normal" textLength="74.30" lengthAdjust="spacingAndGlyphs">Incidence angle</text>
<text transform="translate(21.4,82.0) rotate(-90)" x="0" y="0" font-size="11.4" fill="#222" stroke="#222" stroke-width="0.2" text-anchor="middle" textLength="97" lengthAdjust="spacingAndGlyphs">Wavelength, λ (nm)</text>
<rect x="522.30" y="48.00" width="5.70" height="80.80" fill="url(#cb)"/>
<text x="531.5" y="130.80" font-size="9.3" fill="#707070" stroke="#707070" stroke-width="0.12">0</text>
<text x="531.5" y="114.70" font-size="9.3" fill="#707070" stroke="#707070" stroke-width="0.12">0.2</text>
<text x="531.5" y="98.60" font-size="9.3" fill="#707070" stroke="#707070" stroke-width="0.12">0.4</text>
<text x="531.5" y="82.50" font-size="9.3" fill="#707070" stroke="#707070" stroke-width="0.12">0.6</text>
<text x="531.5" y="66.40" font-size="9.3" fill="#707070" stroke="#707070" stroke-width="0.12">0.8</text>
<text x="531.5" y="50.30" font-size="9.3" fill="#707070" stroke="#707070" stroke-width="0.12">1.0</text>
<rect x="92.9" y="236.0" width="39.0" height="39.00" fill="#d9d9d9"/>
<path d="M48.00 244.01 48.12 244.20 48.25 244.38 48.38 244.56 48.50 244.74 48.62 244.91 48.75 245.09 48.88 245.26 49.00 245.43 49.12 245.59 49.25 245.76 49.38 245.92 49.50 246.08 49.62 246.24 49.75 246.39 49.88 246.54 50.00 246.70 50.12 246.84 50.25 246.99 50.38 247.14 50.50 247.28 50.62 247.42 50.75 247.56 50.88 247.70 51.00 247.83 51.12 247.97 51.25 248.10 51.38 248.23 51.50 248.36 51.62 248.48 51.75 248.61 51.88 248.73 52.00 248.85 52.12 248.97 52.25 249.09 52.38 249.21 52.50 249.32 52.62 249.44 52.75 249.55 52.88 249.66 53.00 249.77 53.12 249.87 53.25 249.98 53.38 250.08 53.50 250.18 53.62 250.28 53.75 250.38 53.88 250.48 54.00 250.58 54.12 250.67 54.25 250.77 54.38 250.86 54.50 250.95 54.62 251.04 54.75 251.13 54.88 251.21 55.00 251.30 55.12 251.38 55.25 251.47 55.38 251.55 55.50 251.63 55.62 251.71 55.75 251.79 55.88 251.86 56.00 251.94 56.12 252.01 56.25 252.08 56.38 252.16 56.50 252.23 56.62 252.30 56.75 252.37 56.88 252.43 57.00 252.50 57.12 252.56 57.25 252.63 57.38 252.69 57.50 252.75 57.62 252.81 57.75 252.87 57.88 252.93 58.00 252.99 58.12 253.05 58.25 253.10 58.38 253.16 58.50 253.21 58.62 253.26 58.75 253.31 58.88 253.36 59.00 253.41 59.12 253.46 59.25 253.51 59.38 253.56 59.50 253.60 59.62 253.65 59.75 253.69 59.88 253.73 60.00 253.78 60.12 253.82 60.25 253.86 60.38 253.90 60.50 253.94 60.62 253.97 60.75 254.01 60.88 254.05 61.00 254.08 61.12 254.12 61.25 254.15 61.38 254.18 61.50 254.21 61.62 254.25 61.75 254.28 61.88 254.30 62.00 254.33 62.12 254.36 62.25 254.39 62.38 254.41 62.50 254.44 62.62 254.46 62.75 254.49 62.88 254.51 63.00 254.53 63.12 254.55 63.25 254.57 63.38 254.59 63.50 254.61 63.62 254.63 63.75 254.65 63.88 254.66 64.00 254.68 64.12 254.70 64.25 254.71 64.38 254.72 64.50 254.74 64.62 254.75 64.75 254.76 64.88 254.77 65.00 254.78 65.12 254.79 65.25 254.80 65.38 254.81 65.50 254.82 65.62 254.82 65.75 254.83 65.88 254.83 66.00 254.84 66.12 254.84 66.25 254.84 66.38 254.85 66.50 254.85 66.62 254.85 66.75 254.85 66.88 254.85 67.00 254.85 67.12 254.84 67.25 254.84 67.38 254.84 67.50 254.83 67.62 254.83 67.75 254.82 67.88 254.82 68.00 254.81 68.12 254.80 68.25 254.80 68.38 254.79 68.50 254.78 68.62 254.77 68.75 254.76 68.88 254.74 69.00 254.73 69.12 254.72 69.25 254.70 69.38 254.69 69.50 254.67 69.62 254.66 69.75 254.64 69.88 254.63 70.00 254.61 70.12 254.59 70.25 254.57 70.38 254.55 70.50 254.53 70.62 254.51 70.75 254.48 70.88 254.46 71.00 254.44 71.12 254.41 71.25 254.39 71.38 254.36 71.50 254.34 71.62 254.31 71.75 254.28 71.88 254.25 72.00 254.22 72.12 254.19 72.25 254.16 72.38 254.13 72.50 254.10 72.62 254.07 72.75 254.03 72.88 254.00 73.00 253.96 73.12 253.93 73.25 253.89 73.38 253.86 73.50 253.82 73.62 253.78 73.75 253.74 73.88 253.70 74.00 253.66 74.12 253.62 74.25 253.57 74.38 253.53 74.50 253.49 74.62 253.44 74.75 253.40 74.88 253.35 75.00 253.30 75.12 253.25 75.25 253.20 75.38 253.16 75.50 253.10 75.62 253.05 75.75 253.00 75.88 252.95 76.00 252.89 76.12 252.84 76.25 252.78 76.38 252.73 76.50 252.67 76.62 252.61 76.75 252.56 76.88 252.50 77.00 252.44 77.12 252.37 77.25 252.31 77.38 252.25 77.50 252.18 77.62 252.12 77.75 252.05 77.88 251.99 78.00 251.92 78.12 251.85 78.25 251.78 78.38 251.71 78.50 251.64 78.62 251.57 78.75 251.50 78.88 251.42 79.00 251.35 79.12 251.27 79.25 251.19 79.38 251.12 79.50 251.04 79.62 250.96 79.75 250.88 79.88 250.80 80.00 250.71 80.12 250.63 80.25 250.54 80.38 250.46 80.50 250.37 80.62 250.28 80.75 250.19 80.88 250.10 81.00 250.01 81.12 249.92 81.25 249.83 81.38 249.73 81.50 249.64 81.62 249.54 81.75 249.44 81.88 249.35 82.00 249.25 82.12 249.14 82.25 249.04 82.38 248.94 82.50 248.83 82.62 248.73 82.75 248.62 82.88 248.51 83.00 248.40 83.12 248.29 83.25 248.18 83.38 248.07 83.50 247.95 83.62 247.84 83.75 247.72 83.88 247.60 84.00 247.48 84.12 247.36 84.25 247.24 84.38 247.12 84.50 246.99 84.62 246.87 84.75 246.74 84.88 246.61 85.00 246.48 85.12 246.35 85.25 246.22 85.38 246.08 85.50 245.95 85.62 245.81 85.75 245.67 85.88 245.53 86.00 245.39 86.12 245.25 86.25 245.11 86.38 244.96 86.50 244.81 86.62 244.66 86.75 244.51 86.88 244.36 87.00 244.21 87.12 244.05 87.25 243.90 87.38 243.74 87.50 243.58 87.62 243.42 87.75 243.26 87.88 243.09 88.00 242.92 88.12 242.76 88.25 242.59 88.38 242.42 88.50 242.24 88.62 242.07 88.75 241.89 88.88 241.72 89.00 241.54 89.12 241.35 89.25 241.17 89.38 240.99 89.50 240.80 89.62 240.61 89.75 240.42 89.88 240.23 90.00 240.04 90.12 239.84 90.25 239.64 90.38 239.44 90.50 239.24 90.62 239.04 90.75 238.84 90.88 238.63 91.00 238.42 91.12 238.21 91.25 238.00 91.38 237.78 91.50 237.57 91.62 237.35 91.75 237.13 91.88 236.91 92.00 236.68 92.12 236.46 92.25 236.23 92.38 236.00 92.50 235.77 92.62 235.53 92.75 235.30 92.88 235.06 93.00 234.82 93.12 234.58 93.25 234.33 93.38 234.09 93.50 233.84 93.62 233.59 93.75 233.34 93.88 233.09 94.00 232.83 94.12 232.57 94.25 232.31 94.38 232.05 94.50 231.79 94.62 231.52 94.75 231.25 94.88 230.98 95.00 230.71 95.12 230.44 95.25 230.16 95.38 229.88 95.50 229.60 95.62 229.32 95.75 229.04 95.88 228.75 96.00 228.47 96.12 228.18 96.25 227.89 96.38 227.59 96.50 227.30 96.62 227.00 96.75 226.71 96.88 226.41 97.00 226.10 97.12 225.80 97.25 225.50 97.38 225.19 97.50 224.88 97.62 224.57 97.75 224.26 97.88 223.95 98.00 223.63 98.12 223.31 98.25 223.00 98.38 222.68 98.50 222.36 98.62 222.04 98.75 221.71 98.88 221.39 99.00 221.06 99.12 220.74 99.25 220.41 99.38 220.08 99.50 219.75 99.62 219.42 99.75 219.09 99.88 218.76 100.00 218.43 100.12 218.09 100.25 217.76 100.38 217.42 100.50 217.09 100.62 216.75 100.75 216.42 100.88 216.08 101.00 215.75 101.12 215.41 101.25 215.07 101.38 214.74 101.50 214.40 101.62 214.07 101.75 213.73 101.88 213.40 102.00 213.06 102.12 212.73 102.25 212.39 102.38 212.06 102.50 211.73 102.62 211.40 102.75 211.07 102.88 210.75 103.00 210.42 103.12 210.09 103.25 209.77 103.38 209.45 103.50 209.13 103.62 208.81 103.75 208.50 103.88 208.18 104.00 207.87 104.12 207.56 104.25 207.26 104.38 206.95 104.50 206.65 104.62 206.36 104.75 206.06 104.88 205.77 105.00 205.48 105.12 205.20 105.25 204.92 105.38 204.64 105.50 204.36 105.62 204.09 105.75 203.83 105.88 203.57 106.00 203.31 106.12 203.06 106.25 202.81 106.38 202.57 106.50 202.33 106.62 202.09 106.75 201.86 106.88 201.64 107.00 201.42 107.12 201.21 107.25 201.00 107.38 200.80 107.50 200.61 107.62 200.42 107.75 200.23 107.88 200.05 108.00 199.88 108.12 199.72 108.25 199.56 108.38 199.40 108.50 199.26 108.62 199.12 108.75 198.98 108.88 198.86 109.00 198.74 109.12 198.63 109.25 198.52 109.38 198.42 109.50 198.33 109.62 198.25 109.75 198.17 109.88 198.10 110.00 198.04 110.12 197.98 110.25 197.93 110.38 197.89 110.50 197.86 110.62 197.83 110.75 197.81 110.88 197.80 111.00 197.80 111.12 197.80 111.25 197.81 111.38 197.83 111.50 197.86 111.62 197.89 111.75 197.93 111.88 197.98 112.00 198.04 112.12 198.10 112.25 198.17 112.38 198.24 112.50 198.33 112.62 198.42 112.75 198.52 112.88 198.62 113.00 198.73 113.12 198.85 113.25 198.97 113.38 199.11 113.50 199.24 113.62 199.39 113.75 199.54 113.88 199.70 114.00 199.86 114.12 200.03 114.25 200.20 114.38 200.38 114.50 200.57 114.62 200.76 114.75 200.96 114.88 201.16 115.00 201.37 115.12 201.58 115.25 201.80 115.38 202.03 115.50 202.26 115.62 202.49 115.75 202.73 115.88 202.97 116.00 203.22 116.12 203.47 116.25 203.72 116.38 203.98 116.50 204.24 116.62 204.51 116.75 204.78 116.88 205.05 117.00 205.33 117.12 205.61 117.25 205.89 117.38 206.18 117.50 206.47 117.62 206.76 117.75 207.05 117.88 207.35 118.00 207.65 118.12 207.95 118.25 208.26 118.38 208.56 118.50 208.87 118.62 209.18 118.75 209.49 118.88 209.80 119.00 210.12 119.12 210.43 119.25 210.75 119.38 211.07 119.50 211.39 119.62 211.71 119.75 212.03 119.88 212.35 120.00 212.67 120.12 213.00 120.25 213.32 120.38 213.64 120.50 213.97 120.62 214.29 120.75 214.62 120.88 214.94 121.00 215.27 121.12 215.59 121.25 215.92 121.38 216.24 121.50 216.57 121.62 216.89 121.75 217.21 121.88 217.54 122.00 217.86 122.12 218.18 122.25 218.50 122.38 218.82 122.50 219.14 122.62 219.46 122.75 219.78 122.88 220.10 123.00 220.42 123.12 220.73 123.25 221.04 123.38 221.36 123.50 221.67 123.62 221.98 123.75 222.29 123.88 222.60 124.00 222.91 124.12 223.21 124.25 223.52 124.38 223.82 124.50 224.12 124.62 224.42 124.75 224.72 124.88 225.01 125.00 225.31 125.12 225.60 125.25 225.90 125.38 226.19 125.50 226.48 125.62 226.76 125.75 227.05 125.88 227.33 126.00 227.62 126.12 227.90 126.25 228.18 126.38 228.45 126.50 228.73 126.62 229.00 126.75 229.27 126.88 229.54 127.00 229.81 127.12 230.08 127.25 230.35 127.38 230.61 127.50 230.87 127.62 231.13 127.75 231.39 127.88 231.64 128.00 231.90 128.12 232.15 128.25 232.40 128.38 232.65 128.50 232.90 128.62 233.14 128.75 233.38 128.88 233.63 129.00 233.86 129.12 234.10 129.25 234.34 129.38 234.57 129.50 234.81 129.62 235.04 129.75 235.26 129.88 235.49 130.00 235.72 130.12 235.94 130.25 236.16 130.38 236.38 130.50 236.60 130.62 236.82 130.75 237.03 130.88 237.24 131.00 237.46 131.12 237.67 131.25 237.87 131.38 238.08 131.50 238.28 131.62 238.49 131.75 238.69 131.88 238.89 132.00 239.09 132.12 239.28 132.25 239.48 132.38 239.67 132.50 239.86 132.62 240.05 132.75 240.24 132.88 240.42 133.00 240.61 133.12 240.79 133.25 240.97 133.38 241.15 133.50 241.33 133.62 241.51 133.75 241.69 133.88 241.86 134.00 242.03 134.12 242.20 134.25 242.37 134.38 242.54 134.50 242.71 134.62 242.87 134.75 243.04 134.88 243.20 135.00 243.36 135.12 243.52 135.25 243.68 135.38 243.84 135.50 243.99 135.62 244.15 135.75 244.30 135.88 244.45 136.00 244.60 136.12 244.75 136.25 244.90 136.38 245.04 136.50 245.19 136.62 245.33 136.75 245.47 136.88 245.62 137.00 245.76 137.12 245.89 137.25 246.03 137.38 246.17 137.50 246.30 137.62 246.44 137.75 246.57 137.88 246.70 138.00 246.83 138.12 246.96 138.25 247.09 138.38 247.22 138.50 247.34 138.62 247.47 138.75 247.59 138.88 247.71 139.00 247.84 139.12 247.96 139.25 248.07 139.38 248.19 139.50 248.31 139.62 248.43 139.75 248.54 139.88 248.66 140.00 248.77 140.12 248.88 140.25 248.99 140.38 249.10 140.50 249.21 140.62 249.32 140.75 249.43 140.88 249.53 141.00 249.64 141.12 249.74 141.25 249.85 141.38 249.95 141.50 250.05 141.62 250.15 141.75 250.25 141.88 250.35 142.00 250.45 142.12 250.55 142.25 250.64 142.38 250.74 142.50 250.83 142.62 250.93 142.75 251.02 142.88 251.11 143.00 251.20 143.12 251.29 143.25 251.38 143.38 251.47 143.50 251.56 143.62 251.65 143.75 251.73 143.88 251.82 144.00 251.91 144.12 251.99 144.25 252.07 144.38 252.16 144.50 252.24 144.62 252.32 144.75 252.40 144.88 252.48 145.00 252.56 145.12 252.64 145.25 252.72 145.38 252.79 145.50 252.87 145.62 252.94 145.75 253.02 145.88 253.09 146.00 253.17 146.12 253.24 146.25 253.31 146.38 253.39 146.50 253.46 146.62 253.53 146.75 253.60 146.88 253.67 147.00 253.73 147.12 253.80 147.25 253.87 147.38 253.94 147.50 254.00 147.62 254.07 147.75 254.13 147.88 254.20 148.00 254.26 148.12 254.32 148.25 254.39 148.38 254.45 148.50 254.51 148.62 254.57 148.75 254.63 148.88 254.69 149.00 254.75 149.12 254.81 149.25 254.87 149.38 254.93 149.50 254.98 149.62 255.04 149.75 255.10 149.88 255.15 150.00 255.21 150.12 255.26 150.25 255.32 150.38 255.37 150.50 255.42 150.62 255.48 150.75 255.53 150.88 255.58 151.00 255.63 151.12 255.68 151.25 255.73 151.38 255.78 151.50 255.83 151.62 255.88 151.75 255.93 151.88 255.98 152.00 256.02 152.12 256.07 152.25 256.12 152.38 256.16 152.50 256.21 152.62 256.26 152.75 256.30 152.88 256.35 153.00 256.39 153.12 256.43 153.25 256.48 153.38 256.52 153.50 256.56 153.62 256.60 153.75 256.64 153.88 256.69 154.00 256.73 154.12 256.77 154.25 256.81 154.38 256.85 154.50 256.89 154.62 256.93 154.75 256.96 154.88 257.00 155.00 257.04 155.12 257.08 155.25 257.11 155.38 257.15 155.50 257.19 155.62 257.22 155.75 257.26 155.88 257.29 156.00 257.33 156.12 257.36 156.25 257.40 156.38 257.43 156.50 257.46 156.62 257.50 156.75 257.53 156.88 257.56 157.00 257.59 157.12 257.63 157.25 257.66 157.38 257.69 157.50 257.72 157.62 257.75 157.75 257.78 157.88 257.81 158.00 257.84 158.12 257.87 158.25 257.90 158.38 257.92 158.50 257.95 158.62 257.98 158.75 258.01 158.88 258.04 159.00 258.06 159.12 258.09 159.25 258.12 159.38 258.14 159.50 258.17 159.62 258.19 159.75 258.22 159.88 258.24 160.00 258.27 160.12 258.29 160.25 258.32 160.38 258.34 160.50 258.36 160.62 258.39 160.75 258.41 160.88 258.43 161.00 258.45 161.12 258.48 161.25 258.50 161.38 258.52 161.50 258.54 161.62 258.56 161.75 258.58 161.88 258.60 162.00 258.62 162.12 258.64 162.25 258.66 162.38 258.68 162.50 258.70 162.62 258.72 162.75 258.74 162.88 258.76 163.00 258.77 163.12 258.79 163.25 258.81 163.38 258.83 163.50 258.84 163.62 258.86 163.75 258.88 163.88 258.89 164.00 258.91 164.12 258.92 164.25 258.94 164.38 258.95 164.50 258.97 164.62 258.98 164.75 259.00 164.88 259.01 165.00 259.03 165.12 259.04 165.25 259.06 165.38 259.07 165.50 259.08 165.62 259.09 165.75 259.11 165.88 259.12 166.00 259.13 166.12 259.14 166.25 259.16 166.38 259.17 166.50 259.18 166.62 259.19 166.75 259.20 166.88 259.21 167.00 259.22 167.12 259.23 167.25 259.24 167.38 259.25 167.50 259.26 167.62 259.27 167.75 259.28 167.88 259.29 168.00 259.30 168.12 259.30 168.25 259.31 168.38 259.32 168.50 259.33 168.62 259.34 168.75 259.34 168.88 259.35 169.00 259.36 169.12 259.36 169.25 259.37 169.38 259.38 169.50 259.38 169.62 259.39 169.75 259.39 169.88 259.40 170.00 259.41 170.12 259.41 170.25 259.41 170.38 259.42 170.50 259.42 170.62 259.43 170.75 259.43 170.88 259.44 171.00 259.44 171.12 259.45 171.25 259.45 171.38 259.45 171.50 259.46 171.62 259.46 171.75 259.47 171.88 259.47 172.00 259.48 172.12 259.48 172.25 259.48 172.38 259.49 172.50 259.49 172.62 259.50 172.75 259.50 172.88 259.51 173.00 259.51" stroke="#a02ab4" stroke-width="1.0" fill="none" stroke-linejoin="round"/>
<rect x="48.00" y="197.80" width="125.00" height="77.20" fill="none" stroke="#333" stroke-width="0.85"/>
<path d="M48.00 275.00v-1.80M48.00 197.80v1.80M53.00 275.00v-1.00M53.00 197.80v1.00M58.00 275.00v-1.00M58.00 197.80v1.00M63.00 275.00v-1.00M63.00 197.80v1.00M68.00 275.00v-1.00M68.00 197.80v1.00M73.00 275.00v-1.80M73.00 197.80v1.80M78.00 275.00v-1.00M78.00 197.80v1.00M83.00 275.00v-1.00M83.00 197.80v1.00M88.00 275.00v-1.00M88.00 197.80v1.00M93.00 275.00v-1.00M93.00 197.80v1.00M98.00 275.00v-1.80M98.00 197.80v1.80M103.00 275.00v-1.00M103.00 197.80v1.00M108.00 275.00v-1.00M108.00 197.80v1.00M113.00 275.00v-1.00M113.00 197.80v1.00M118.00 275.00v-1.00M118.00 197.80v1.00M123.00 275.00v-1.80M123.00 197.80v1.80M128.00 275.00v-1.00M128.00 197.80v1.00M133.00 275.00v-1.00M133.00 197.80v1.00M138.00 275.00v-1.00M138.00 197.80v1.00M143.00 275.00v-1.00M143.00 197.80v1.00M148.00 275.00v-1.80M148.00 197.80v1.80M153.00 275.00v-1.00M153.00 197.80v1.00M158.00 275.00v-1.00M158.00 197.80v1.00M163.00 275.00v-1.00M163.00 197.80v1.00M168.00 275.00v-1.00M168.00 197.80v1.00M173.00 275.00v-1.80M173.00 197.80v1.80M48.00 275.00h1.80M173.00 275.00h-1.80M48.00 271.91h1.00M173.00 271.91h-1.00M48.00 268.82h1.00M173.00 268.82h-1.00M48.00 265.74h1.00M173.00 265.74h-1.00M48.00 262.65h1.00M173.00 262.65h-1.00M48.00 259.56h1.80M173.00 259.56h-1.80M48.00 256.47h1.00M173.00 256.47h-1.00M48.00 253.38h1.00M173.00 253.38h-1.00M48.00 250.30h1.00M173.00 250.30h-1.00M48.00 247.21h1.00M173.00 247.21h-1.00M48.00 244.12h1.80M173.00 244.12h-1.80M48.00 241.03h1.00M173.00 241.03h-1.00M48.00 237.94h1.00M173.00 237.94h-1.00M48.00 234.86h1.00M173.00 234.86h-1.00M48.00 231.77h1.00M173.00 231.77h-1.00M48.00 228.68h1.80M173.00 228.68h-1.80M48.00 225.59h1.00M173.00 225.59h-1.00M48.00 222.50h1.00M173.00 222.50h-1.00M48.00 219.42h1.00M173.00 219.42h-1.00M48.00 216.33h1.00M173.00 216.33h-1.00M48.00 213.24h1.80M173.00 213.24h-1.80M48.00 210.15h1.00M173.00 210.15h-1.00M48.00 207.06h1.00M173.00 207.06h-1.00M48.00 203.98h1.00M173.00 203.98h-1.00M48.00 200.89h1.00M173.00 200.89h-1.00M48.00 197.80h1.80M173.00 197.80h-1.80" stroke="#222" stroke-width="0.7" fill="none"/>
<text x="45.40" y="277.90" font-size="9.60" fill="#222" stroke="#222" stroke-width="0.12" text-anchor="end" font-weight="normal" textLength="11.00" lengthAdjust="spacingAndGlyphs">0.0</text>
<text x="45.40" y="262.46" font-size="9.60" fill="#222" stroke="#222" stroke-width="0.12" text-anchor="end" font-weight="normal" textLength="11.00" lengthAdjust="spacingAndGlyphs">0.2</text>
<text x="45.40" y="247.02" font-size="9.60" fill="#222" stroke="#222" stroke-width="0.12" text-anchor="end" font-weight="normal" textLength="11.00" lengthAdjust="spacingAndGlyphs">0.4</text>
<text x="45.40" y="231.58" font-size="9.60" fill="#222" stroke="#222" stroke-width="0.12" text-anchor="end" font-weight="normal" textLength="11.00" lengthAdjust="spacingAndGlyphs">0.6</text>
<text x="45.40" y="216.14" font-size="9.60" fill="#222" stroke="#222" stroke-width="0.12" text-anchor="end" font-weight="normal" textLength="11.00" lengthAdjust="spacingAndGlyphs">0.8</text>
<text x="45.40" y="200.70" font-size="9.60" fill="#222" stroke="#222" stroke-width="0.12" text-anchor="end" font-weight="normal" textLength="11.00" lengthAdjust="spacingAndGlyphs">1.0</text>
<text x="48.30" y="286.00" font-size="9.60" fill="#222" stroke="#222" stroke-width="0.12" text-anchor="middle" font-weight="normal" textLength="19.00" lengthAdjust="spacingAndGlyphs">1300</text>
<text x="73.30" y="286.00" font-size="9.60" fill="#222" stroke="#222" stroke-width="0.12" text-anchor="middle" font-weight="normal" textLength="19.00" lengthAdjust="spacingAndGlyphs">1400</text>
<text x="98.30" y="286.00" font-size="9.60" fill="#222" stroke="#222" stroke-width="0.12" text-anchor="middle" font-weight="normal" textLength="19.00" lengthAdjust="spacingAndGlyphs">1500</text>
<text x="123.30" y="286.00" font-size="9.60" fill="#222" stroke="#222" stroke-width="0.12" text-anchor="middle" font-weight="normal" textLength="19.00" lengthAdjust="spacingAndGlyphs">1600</text>
<text x="148.30" y="286.00" font-size="9.60" fill="#222" stroke="#222" stroke-width="0.12" text-anchor="middle" font-weight="normal" textLength="19.00" lengthAdjust="spacingAndGlyphs">1700</text>
<text x="173.30" y="286.00" font-size="9.60" fill="#222" stroke="#222" stroke-width="0.12" text-anchor="middle" font-weight="normal" textLength="19.00" lengthAdjust="spacingAndGlyphs">1800</text>
<text x="65.00" y="303.80" font-size="11.40" fill="#222" stroke="#222" stroke-width="0.20" text-anchor="start" font-weight="normal" textLength="91.80" lengthAdjust="spacingAndGlyphs">Wavelength, λ (nm)</text>
<path d="M93 232.3h12.5M118.5 232.3h13M93.2 230.4v3.9M131.4 230.4v3.9" stroke="#333" stroke-width="0.95" fill="none"/>
<text x="111.6" y="235.0" font-size="8.4" fill="#333" stroke="#333" stroke-width="0.15" text-anchor="middle" font-family="Liberation Serif, serif">Δλ</text>
<rect x="279.0" y="236.6" width="4.6" height="38.40" fill="#d9d9d9"/>
<path d="M217.40 215.44 217.53 215.80 217.65 216.15 217.78 216.49 217.90 216.84 218.03 217.17 218.15 217.50 218.28 217.83 218.40 218.15 218.53 218.46 218.65 218.77 218.78 219.06 218.90 219.35 219.03 219.63 219.15 219.90 219.28 220.17 219.40 220.42 219.53 220.66 219.66 220.89 219.78 221.11 219.91 221.32 220.03 221.52 220.16 221.71 220.28 221.88 220.41 222.04 220.53 222.19 220.66 222.32 220.78 222.44 220.91 222.55 221.03 222.64 221.16 222.71 221.28 222.77 221.41 222.81 221.53 222.84 221.66 222.85 221.79 222.85 221.91 222.82 222.04 222.78 222.16 222.72 222.29 222.64 222.41 222.55 222.54 222.43 222.66 222.29 222.79 222.14 222.91 221.97 223.04 221.77 223.16 221.56 223.29 221.32 223.41 221.06 223.54 220.79 223.66 220.49 223.79 220.17 223.92 219.83 224.04 219.47 224.17 219.09 224.29 218.68 224.42 218.26 224.54 217.82 224.67 217.35 224.79 216.87 224.92 216.37 225.04 215.85 225.17 215.31 225.29 214.75 225.42 214.18 225.54 213.60 225.67 212.99 225.80 212.38 225.92 211.75 226.05 211.12 226.17 210.47 226.30 209.82 226.42 209.17 226.55 208.51 226.67 207.85 226.80 207.19 226.92 206.54 227.05 205.89 227.17 205.25 227.30 204.62 227.42 204.01 227.55 203.41 227.67 202.84 227.80 202.29 227.93 201.76 228.05 201.26 228.18 200.80 228.30 200.37 228.43 199.97 228.55 199.62 228.68 199.30 228.80 199.03 228.93 198.81 229.05 198.63 229.18 198.50 229.30 198.43 229.43 198.40 229.55 198.50 229.68 198.78 229.80 199.26 229.93 199.92 230.06 200.74 230.18 201.73 230.31 202.86 230.43 204.11 230.56 205.48 230.68 206.93 230.81 208.46 230.93 210.05 231.06 211.68 231.18 213.34 231.31 215.00 231.43 216.68 231.56 218.34 231.68 219.98 231.81 221.61 231.93 223.20 232.06 224.75 232.19 226.26 232.31 227.74 232.44 229.16 232.56 230.54 232.69 231.88 232.81 233.17 232.94 234.41 233.06 235.60 233.19 236.75 233.31 237.86 233.44 238.92 233.56 239.94 233.69 240.92 233.81 241.86 233.94 242.76 234.06 243.63 234.19 244.46 234.32 245.26 234.44 246.02 234.57 246.76 234.69 247.47 234.82 248.15 234.94 248.80 235.07 249.43 235.19 250.04 235.32 250.62 235.44 251.18 235.57 251.72 235.69 252.24 235.82 252.74 235.94 253.23 236.07 253.69 236.19 254.14 236.32 254.58 236.45 255.00 236.57 255.40 236.70 255.79 236.82 256.17 236.95 256.54 237.07 256.89 237.20 257.23 237.32 257.57 237.45 257.89 237.57 258.20 237.70 258.50 237.82 258.80 237.95 259.08 238.07 259.36 238.20 259.62 238.33 259.89 238.45 260.14 238.58 260.38 238.70 260.62 238.83 260.86 238.95 261.08 239.08 261.30 239.20 261.52 239.33 261.72 239.45 261.93 239.58 262.13 239.70 262.32 239.83 262.51 239.95 262.69 240.08 262.87 240.20 263.04 240.33 263.21 240.46 263.38 240.58 263.54 240.71 263.70 240.83 263.85 240.96 264.00 241.08 264.15 241.21 264.30 241.33 264.44 241.46 264.58 241.58 264.71 241.71 264.84 241.83 264.97 241.96 265.10 242.08 265.22 242.21 265.34 242.33 265.46 242.46 265.58 242.59 265.69 242.71 265.80 242.84 265.91 242.96 266.01 243.09 266.12 243.21 266.22 243.34 266.32 243.46 266.42 243.59 266.52 243.71 266.61 243.84 266.70 243.96 266.80 244.09 266.88 244.21 266.97 244.34 267.06 244.46 267.14 244.59 267.23 244.72 267.31 244.84 267.39 244.97 267.46 245.09 267.54 245.22 267.62 245.34 267.69 245.47 267.76 245.59 267.83 245.72 267.90 245.84 267.97 245.97 268.04 246.09 268.11 246.22 268.17 246.34 268.24 246.47 268.30 246.59 268.36 246.72 268.42 246.85 268.48 246.97 268.54 247.10 268.60 247.22 268.66 247.35 268.71 247.47 268.77 247.60 268.82 247.72 268.88 247.85 268.93 247.97 268.98 248.10 269.03 248.22 269.08 248.35 269.13 248.47 269.18 248.60 269.23 248.72 269.27 248.85 269.32 248.98 269.36 249.10 269.41 249.23 269.45 249.35 269.49 249.48 269.54 249.60 269.58 249.73 269.62 249.85 269.66 249.98 269.70 250.10 269.74 250.23 269.78 250.35 269.81 250.48 269.85 250.60 269.89 250.73 269.92 250.86 269.96 250.98 269.99 251.11 270.03 251.23 270.06 251.36 270.09 251.48 270.12 251.61 270.16 251.73 270.19 251.86 270.22 251.98 270.25 252.11 270.28 252.23 270.31 252.36 270.34 252.48 270.37 252.61 270.39 252.73 270.42 252.86 270.45 252.99 270.47 253.11 270.50 253.24 270.53 253.36 270.55 253.49 270.58 253.61 270.60 253.74 270.62 253.86 270.65 253.99 270.67 254.11 270.69 254.24 270.71 254.36 270.74 254.49 270.76 254.61 270.78 254.74 270.80 254.86 270.82 254.99 270.84 255.12 270.86 255.24 270.88 255.37 270.89 255.49 270.91 255.62 270.93 255.74 270.95 255.87 270.96 255.99 270.98 256.12 271.00 256.24 271.01 256.37 271.03 256.49 271.04 256.62 271.06 256.74 271.07 256.87 271.09 256.99 271.10 257.12 271.11 257.25 271.13 257.37 271.14 257.50 271.15 257.62 271.16 257.75 271.17 257.87 271.19 258.00 271.20 258.12 271.21 258.25 271.22 258.37 271.23 258.50 271.24 258.62 271.25 258.75 271.25 258.87 271.26 259.00 271.27 259.12 271.28 259.25 271.28 259.38 271.29 259.50 271.30 259.63 271.30 259.75 271.31 259.88 271.32 260.00 271.32 260.13 271.32 260.25 271.33 260.38 271.33 260.50 271.34 260.63 271.34 260.75 271.34 260.88 271.34 261.00 271.35 261.13 271.35 261.25 271.35 261.38 271.35 261.51 271.35 261.63 271.35 261.76 271.35 261.88 271.35 262.01 271.35 262.13 271.35 262.26 271.34 262.38 271.34 262.51 271.34 262.63 271.33 262.76 271.33 262.88 271.33 263.01 271.32 263.13 271.31 263.26 271.31 263.39 271.30 263.51 271.30 263.64 271.29 263.76 271.28 263.89 271.27 264.01 271.26 264.14 271.25 264.26 271.24 264.39 271.23 264.51 271.22 264.64 271.21 264.76 271.20 264.89 271.18 265.01 271.17 265.14 271.15 265.26 271.14 265.39 271.12 265.52 271.11 265.64 271.09 265.77 271.07 265.89 271.05 266.02 271.03 266.14 271.01 266.27 270.99 266.39 270.97 266.52 270.95 266.64 270.92 266.77 270.90 266.89 270.87 267.02 270.84 267.14 270.82 267.27 270.79 267.39 270.76 267.52 270.73 267.65 270.70 267.77 270.66 267.90 270.63 268.02 270.59 268.15 270.56 268.27 270.52 268.40 270.48 268.52 270.44 268.65 270.39 268.77 270.35 268.90 270.31 269.02 270.26 269.15 270.21 269.27 270.16 269.40 270.11 269.52 270.05 269.65 270.00 269.78 269.94 269.90 269.88 270.03 269.82 270.15 269.75 270.28 269.69 270.40 269.62 270.53 269.55 270.65 269.47 270.78 269.39 270.90 269.32 271.03 269.23 271.15 269.15 271.28 269.06 271.40 268.97 271.53 268.87 271.65 268.77 271.78 268.67 271.91 268.56 272.03 268.45 272.16 268.33 272.28 268.21 272.41 268.09 272.53 267.96 272.66 267.82 272.78 267.68 272.91 267.53 273.03 267.38 273.16 267.22 273.28 267.05 273.41 266.88 273.53 266.70 273.66 266.51 273.78 266.31 273.91 266.11 274.04 265.89 274.16 265.66 274.29 265.43 274.41 265.18 274.54 264.92 274.66 264.65 274.79 264.37 274.91 264.07 275.04 263.76 275.16 263.43 275.29 263.09 275.41 262.73 275.54 262.34 275.66 261.94 275.79 261.52 275.92 261.08 276.04 260.61 276.17 260.12 276.29 259.60 276.42 259.05 276.54 258.46 276.67 257.85 276.79 257.20 276.92 256.51 277.04 255.79 277.17 255.01 277.29 254.20 277.42 253.33 277.54 252.41 277.67 251.44 277.79 250.41 277.92 249.31 278.05 248.15 278.17 246.91 278.30 245.60 278.42 244.22 278.55 242.75 278.67 241.19 278.80 239.54 278.92 237.81 279.05 235.98 279.17 234.05 279.30 232.04 279.42 229.93 279.55 227.73 279.67 225.46 279.80 223.12 279.92 220.73 280.05 218.30 280.18 215.86 280.30 213.44 280.43 211.06 280.55 208.77 280.68 206.61 280.80 204.61 280.93 202.82 281.05 201.29 281.18 200.05 281.30 199.14 281.43 198.59 281.55 198.40 281.68 198.59 281.80 199.14 281.93 200.06 282.05 201.29 282.18 202.82 282.31 204.61 282.43 206.61 282.56 208.78 282.68 211.07 282.81 213.45 282.93 215.87 283.06 218.32 283.18 220.75 283.31 223.14 283.43 225.49 283.56 227.76 283.68 229.96 283.81 232.08 283.93 234.10 284.06 236.03 284.18 237.86 284.31 239.60 284.44 241.26 284.56 242.82 284.69 244.29 284.81 245.69 284.94 247.00 285.06 248.24 285.19 249.41 285.31 250.51 285.44 251.55 285.56 252.53 285.69 253.45 285.81 254.33 285.94 255.15 286.06 255.92 286.19 256.66 286.31 257.35 286.44 258.01 286.57 258.63 286.69 259.21 286.82 259.77 286.94 260.30 287.07 260.80 287.19 261.27 287.32 261.72 287.44 262.15 287.57 262.55 287.69 262.94 287.82 263.31 287.94 263.66 288.07 263.99 288.19 264.31 288.32 264.61 288.45 264.90 288.57 265.18 288.70 265.44 288.82 265.70 288.95 265.94 289.07 266.17 289.20 266.39 289.32 266.60 289.45 266.81 289.57 267.00 289.70 267.19 289.82 267.37 289.95 267.54 290.07 267.71 290.20 267.87 290.32 268.02 290.45 268.17 290.58 268.31 290.70 268.45 290.83 268.58 290.95 268.71 291.08 268.83 291.20 268.95 291.33 269.06 291.45 269.17 291.58 269.28 291.70 269.38 291.83 269.48 291.95 269.57 292.08 269.67 292.20 269.75 292.33 269.84 292.45 269.92 292.58 270.01 292.71 270.08 292.83 270.16 292.96 270.23 293.08 270.30 293.21 270.37 293.33 270.44 293.46 270.51 293.58 270.57 293.71 270.63 293.83 270.69 293.96 270.75 294.08 270.80 294.21 270.86 294.33 270.91 294.46 270.96 294.58 271.01 294.71 271.06 294.84 271.11 294.96 271.15 295.09 271.20 295.21 271.24 295.34 271.28 295.46 271.32 295.59 271.36 295.71 271.40 295.84 271.44 295.96 271.48 296.09 271.51 296.21 271.55 296.34 271.58 296.46 271.61 296.59 271.64 296.71 271.68 296.84 271.71 296.97 271.74 297.09 271.77 297.22 271.79 297.34 271.82 297.47 271.85 297.59 271.87 297.72 271.90 297.84 271.92 297.97 271.95 298.09 271.97 298.22 272.00 298.34 272.02 298.47 272.04 298.59 272.06 298.72 272.08 298.85 272.10 298.97 272.12 299.10 272.14 299.22 272.16 299.35 272.18 299.47 272.20 299.60 272.22 299.72 272.23 299.85 272.25 299.97 272.27 300.10 272.28 300.22 272.30 300.35 272.31 300.47 272.33 300.60 272.34 300.72 272.36 300.85 272.37 300.98 272.38 301.10 272.40 301.23 272.41 301.35 272.42 301.48 272.43 301.60 272.45 301.73 272.46 301.85 272.47 301.98 272.48 302.10 272.49 302.23 272.50 302.35 272.51 302.48 272.52 302.60 272.53 302.73 272.54 302.85 272.55 302.98 272.56 303.11 272.57 303.23 272.57 303.36 272.58 303.48 272.59 303.61 272.60 303.73 272.61 303.86 272.61 303.98 272.62 304.11 272.63 304.23 272.63 304.36 272.64 304.48 272.65 304.61 272.65 304.73 272.66 304.86 272.66 304.98 272.67 305.11 272.67 305.24 272.68 305.36 272.68 305.49 272.69 305.61 272.69 305.74 272.70 305.86 272.70 305.99 272.71 306.11 272.71 306.24 272.71 306.36 272.72 306.49 272.72 306.61 272.72 306.74 272.73 306.86 272.73 306.99 272.73 307.11 272.73 307.24 272.74 307.37 272.74 307.49 272.74 307.62 272.74 307.74 272.74 307.87 272.75 307.99 272.75 308.12 272.75 308.24 272.75 308.37 272.75 308.49 272.75 308.62 272.75 308.74 272.75 308.87 272.76 308.99 272.76 309.12 272.76 309.24 272.76 309.37 272.76 309.50 272.76 309.62 272.76 309.75 272.76 309.87 272.76 310.00 272.75 310.12 272.75 310.25 272.75 310.37 272.75 310.50 272.75 310.62 272.75 310.75 272.75 310.87 272.75 311.00 272.75 311.12 272.74 311.25 272.74 311.38 272.74 311.50 272.74 311.63 272.74 311.75 272.73 311.88 272.73 312.00 272.73 312.13 272.73 312.25 272.72 312.38 272.72 312.50 272.72 312.63 272.71 312.75 272.71 312.88 272.71 313.00 272.70 313.13 272.70 313.25 272.70 313.38 272.69 313.51 272.69 313.63 272.68 313.76 272.68 313.88 272.68 314.01 272.67 314.13 272.67 314.26 272.66 314.38 272.66 314.51 272.65 314.63 272.65 314.76 272.64 314.88 272.64 315.01 272.63 315.13 272.62 315.26 272.62 315.38 272.61 315.51 272.61 315.64 272.60 315.76 272.59 315.89 272.59 316.01 272.58 316.14 272.57 316.26 272.57 316.39 272.56 316.51 272.55 316.64 272.55 316.76 272.54 316.89 272.53 317.01 272.52 317.14 272.52 317.26 272.51 317.39 272.50 317.51 272.49 317.64 272.48 317.77 272.48 317.89 272.47 318.02 272.46 318.14 272.45 318.27 272.44 318.39 272.43 318.52 272.42 318.64 272.41 318.77 272.40 318.89 272.39 319.02 272.38 319.14 272.37 319.27 272.36 319.39 272.35 319.52 272.34 319.64 272.33 319.77 272.32 319.90 272.31 320.02 272.30 320.15 272.29 320.27 272.27 320.40 272.26 320.52 272.25 320.65 272.24 320.77 272.23 320.90 272.21 321.02 272.20 321.15 272.19 321.27 272.18 321.40 272.16 321.52 272.15 321.65 272.13 321.77 272.12 321.90 272.11 322.03 272.09 322.15 272.08 322.28 272.06 322.40 272.05 322.53 272.03 322.65 272.02 322.78 272.00 322.90 271.99 323.03 271.97 323.15 271.95 323.28 271.94 323.40 271.92 323.53 271.90 323.65 271.89 323.78 271.87 323.90 271.85 324.03 271.83 324.16 271.82 324.28 271.80 324.41 271.78 324.53 271.76 324.66 271.74 324.78 271.72 324.91 271.70 325.03 271.68 325.16 271.66 325.28 271.64 325.41 271.62 325.53 271.60 325.66 271.58 325.78 271.56 325.91 271.53 326.04 271.51 326.16 271.49 326.29 271.47 326.41 271.44 326.54 271.42 326.66 271.39 326.79 271.37 326.91 271.34 327.04 271.32 327.16 271.29 327.29 271.27 327.41 271.24 327.54 271.22 327.66 271.19 327.79 271.16 327.91 271.13 328.04 271.10 328.17 271.08 328.29 271.05 328.42 271.02 328.54 270.99 328.67 270.96 328.79 270.93 328.92 270.89 329.04 270.86 329.17 270.83 329.29 270.80 329.42 270.76 329.54 270.73 329.67 270.69 329.79 270.66 329.92 270.62 330.04 270.59 330.17 270.55 330.30 270.51 330.42 270.48 330.55 270.44 330.67 270.40 330.80 270.36 330.92 270.32 331.05 270.28 331.17 270.24 331.30 270.19 331.42 270.15 331.55 270.11 331.67 270.06 331.80 270.02 331.92 269.97 332.05 269.92 332.17 269.88 332.30 269.83 332.43 269.78 332.55 269.73 332.68 269.68 332.80 269.63 332.93 269.57 333.05 269.52 333.18 269.47 333.30 269.41 333.43 269.35 333.55 269.30 333.68 269.24 333.80 269.18 333.93 269.12 334.05 269.06 334.18 268.99 334.30 268.93 334.43 268.87 334.56 268.80 334.68 268.73 334.81 268.66 334.93 268.59 335.06 268.52 335.18 268.45 335.31 268.37 335.43 268.30 335.56 268.22 335.68 268.14 335.81 268.06 335.93 267.98 336.06 267.90 336.18 267.81 336.31 267.73 336.44 267.64 336.56 267.55 336.69 267.46 336.81 267.36 336.94 267.27 337.06 267.17 337.19 267.07 337.31 266.97 337.44 266.86 337.56 266.76 337.69 266.65 337.81 266.54 337.94 266.43 338.06 266.31 338.19 266.19 338.31 266.07 338.44 265.95 338.57 265.82 338.69 265.69 338.82 265.56 338.94 265.42 339.07 265.29 339.19 265.15 339.32 265.00 339.44 264.85 339.57 264.70 339.69 264.55 339.82 264.39 339.94 264.23 340.07 264.06 340.19 263.89 340.32 263.71 340.44 263.53 340.57 263.35 340.70 263.16 340.82 262.97 340.95 262.77 341.07 262.57 341.20 262.36 341.32 262.15 341.45 261.93 341.57 261.71 341.70 261.47 341.82 261.24 341.95 261.00 342.07 260.75 342.20 260.49 342.32 260.23 342.45 259.96 342.57 259.68 342.70 259.39" stroke="#a02ab4" stroke-width="1.0" fill="none" stroke-linejoin="round"/>
<rect x="217.40" y="198.40" width="125.30" height="76.60" fill="none" stroke="#333" stroke-width="0.85"/>
<path d="M217.40 275.00v-1.80M217.40 198.40v1.80M222.41 275.00v-1.00M222.41 198.40v1.00M227.42 275.00v-1.00M227.42 198.40v1.00M232.44 275.00v-1.00M232.44 198.40v1.00M237.45 275.00v-1.00M237.45 198.40v1.00M242.46 275.00v-1.80M242.46 198.40v1.80M247.47 275.00v-1.00M247.47 198.40v1.00M252.48 275.00v-1.00M252.48 198.40v1.00M257.50 275.00v-1.00M257.50 198.40v1.00M262.51 275.00v-1.00M262.51 198.40v1.00M267.52 275.00v-1.80M267.52 198.40v1.80M272.53 275.00v-1.00M272.53 198.40v1.00M277.54 275.00v-1.00M277.54 198.40v1.00M282.56 275.00v-1.00M282.56 198.40v1.00M287.57 275.00v-1.00M287.57 198.40v1.00M292.58 275.00v-1.80M292.58 198.40v1.80M297.59 275.00v-1.00M297.59 198.40v1.00M302.60 275.00v-1.00M302.60 198.40v1.00M307.62 275.00v-1.00M307.62 198.40v1.00M312.63 275.00v-1.00M312.63 198.40v1.00M317.64 275.00v-1.80M317.64 198.40v1.80M322.65 275.00v-1.00M322.65 198.40v1.00M327.66 275.00v-1.00M327.66 198.40v1.00M332.68 275.00v-1.00M332.68 198.40v1.00M337.69 275.00v-1.00M337.69 198.40v1.00M342.70 275.00v-1.80M342.70 198.40v1.80M217.40 275.00h1.80M342.70 275.00h-1.80M217.40 271.94h1.00M342.70 271.94h-1.00M217.40 268.87h1.00M342.70 268.87h-1.00M217.40 265.81h1.00M342.70 265.81h-1.00M217.40 262.74h1.00M342.70 262.74h-1.00M217.40 259.68h1.80M342.70 259.68h-1.80M217.40 256.62h1.00M342.70 256.62h-1.00M217.40 253.55h1.00M342.70 253.55h-1.00M217.40 250.49h1.00M342.70 250.49h-1.00M217.40 247.42h1.00M342.70 247.42h-1.00M217.40 244.36h1.80M342.70 244.36h-1.80M217.40 241.30h1.00M342.70 241.30h-1.00M217.40 238.23h1.00M342.70 238.23h-1.00M217.40 235.17h1.00M342.70 235.17h-1.00M217.40 232.10h1.00M342.70 232.10h-1.00M217.40 229.04h1.80M342.70 229.04h-1.80M217.40 225.98h1.00M342.70 225.98h-1.00M217.40 222.91h1.00M342.70 222.91h-1.00M217.40 219.85h1.00M342.70 219.85h-1.00M217.40 216.78h1.00M342.70 216.78h-1.00M217.40 213.72h1.80M342.70 213.72h-1.80M217.40 210.66h1.00M342.70 210.66h-1.00M217.40 207.59h1.00M342.70 207.59h-1.00M217.40 204.53h1.00M342.70 204.53h-1.00M217.40 201.46h1.00M342.70 201.46h-1.00M217.40 198.40h1.80M342.70 198.40h-1.80" stroke="#222" stroke-width="0.7" fill="none"/>
<text x="214.80" y="277.90" font-size="9.60" fill="#222" stroke="#222" stroke-width="0.12" text-anchor="end" font-weight="normal" textLength="11.00" lengthAdjust="spacingAndGlyphs">0.0</text>
<text x="214.80" y="262.58" font-size="9.60" fill="#222" stroke="#222" stroke-width="0.12" text-anchor="end" font-weight="normal" textLength="11.00" lengthAdjust="spacingAndGlyphs">0.2</text>
<text x="214.80" y="247.26" font-size="9.60" fill="#222" stroke="#222" stroke-width="0.12" text-anchor="end" font-weight="normal" textLength="11.00" lengthAdjust="spacingAndGlyphs">0.4</text>
<text x="214.80" y="231.94" font-size="9.60" fill="#222" stroke="#222" stroke-width="0.12" text-anchor="end" font-weight="normal" textLength="11.00" lengthAdjust="spacingAndGlyphs">0.6</text>
<text x="214.80" y="216.62" font-size="9.60" fill="#222" stroke="#222" stroke-width="0.12" text-anchor="end" font-weight="normal" textLength="11.00" lengthAdjust="spacingAndGlyphs">0.8</text>
<text x="214.80" y="201.30" font-size="9.60" fill="#222" stroke="#222" stroke-width="0.12" text-anchor="end" font-weight="normal" textLength="11.00" lengthAdjust="spacingAndGlyphs">1.0</text>
<text x="217.70" y="286.00" font-size="9.60" fill="#222" stroke="#222" stroke-width="0.12" text-anchor="middle" font-weight="normal" textLength="19.00" lengthAdjust="spacingAndGlyphs">1300</text>
<text x="242.76" y="286.00" font-size="9.60" fill="#222" stroke="#222" stroke-width="0.12" text-anchor="middle" font-weight="normal" textLength="19.00" lengthAdjust="spacingAndGlyphs">1400</text>
<text x="267.82" y="286.00" font-size="9.60" fill="#222" stroke="#222" stroke-width="0.12" text-anchor="middle" font-weight="normal" textLength="19.00" lengthAdjust="spacingAndGlyphs">1500</text>
<text x="292.88" y="286.00" font-size="9.60" fill="#222" stroke="#222" stroke-width="0.12" text-anchor="middle" font-weight="normal" textLength="19.00" lengthAdjust="spacingAndGlyphs">1600</text>
<text x="317.94" y="286.00" font-size="9.60" fill="#222" stroke="#222" stroke-width="0.12" text-anchor="middle" font-weight="normal" textLength="19.00" lengthAdjust="spacingAndGlyphs">1700</text>
<text x="343.00" y="286.00" font-size="9.60" fill="#222" stroke="#222" stroke-width="0.12" text-anchor="middle" font-weight="normal" textLength="19.00" lengthAdjust="spacingAndGlyphs">1800</text>
<text x="234.40" y="303.80" font-size="11.40" fill="#222" stroke="#222" stroke-width="0.20" text-anchor="start" font-weight="normal" textLength="91.80" lengthAdjust="spacingAndGlyphs">Wavelength, λ (nm)</text>
<rect x="446.9" y="236.6" width="1.6" height="38.40" fill="#e4e4e4"/>
<path d="M383.50 240.05 383.63 240.96 383.75 241.81 383.88 242.63 384.00 243.41 384.13 244.14 384.25 244.83 384.38 245.49 384.50 246.11 384.63 246.69 384.75 247.23 384.88 247.74 385.00 248.21 385.13 248.65 385.25 249.06 385.38 249.44 385.50 249.79 385.63 250.10 385.76 250.39 385.88 250.66 386.01 250.89 386.13 251.10 386.26 251.29 386.38 251.45 386.51 251.59 386.63 251.70 386.76 251.80 386.88 251.87 387.01 251.92 387.13 251.95 387.26 251.95 387.38 251.94 387.51 251.91 387.63 251.86 387.76 251.79 387.89 251.70 388.01 251.59 388.14 251.46 388.26 251.32 388.39 251.16 388.51 250.97 388.64 250.78 388.76 250.56 388.89 250.32 389.01 250.07 389.14 249.80 389.26 249.51 389.39 249.20 389.51 248.87 389.64 248.53 389.76 248.16 389.89 247.78 390.02 247.38 390.14 246.96 390.27 246.52 390.39 246.06 390.52 245.58 390.64 245.08 390.77 244.55 390.89 244.01 391.02 243.45 391.14 242.86 391.27 242.26 391.39 241.63 391.52 240.98 391.64 240.31 391.77 239.61 391.90 238.89 392.02 238.15 392.15 237.39 392.27 236.60 392.40 235.79 392.52 234.95 392.65 234.09 392.77 233.21 392.90 232.31 393.02 231.38 393.15 230.43 393.27 229.46 393.40 228.47 393.52 227.46 393.65 226.43 393.77 225.38 393.90 224.31 394.03 223.23 394.15 222.13 394.28 221.02 394.40 219.90 394.53 218.77 394.65 217.64 394.78 216.50 394.90 215.37 395.03 214.24 395.15 213.11 395.28 212.00 395.40 210.90 395.53 209.82 395.65 208.76 395.78 207.73 395.90 206.73 396.03 205.77 396.16 204.85 396.28 203.97 396.41 203.15 396.53 202.38 396.66 201.67 396.78 201.03 396.91 200.45 397.03 199.94 397.16 199.50 397.28 199.14 397.41 198.86 397.53 198.66 397.66 198.54 397.78 198.50 397.91 198.50 398.03 198.50 398.16 198.50 398.29 198.51 398.41 198.53 398.54 198.57 398.66 198.62 398.79 198.71 398.91 198.83 399.04 199.00 399.16 199.23 399.29 199.51 399.41 199.88 399.54 200.32 399.66 200.86 399.79 201.48 399.91 202.21 400.04 203.03 400.16 203.95 400.29 204.95 400.42 206.03 400.54 207.18 400.67 208.37 400.79 209.58 400.92 210.79 401.04 211.98 401.17 213.11 401.29 214.15 401.42 215.09 401.54 215.90 401.67 216.55 401.79 217.03 401.92 217.32 402.04 217.42 402.17 217.33 402.30 217.04 402.42 216.56 402.55 215.92 402.67 215.11 402.80 214.18 402.92 213.13 403.05 212.01 403.17 210.82 403.30 209.61 403.42 208.40 403.55 207.21 403.67 206.06 403.80 204.98 403.92 203.97 404.05 203.05 404.17 202.22 404.30 201.50 404.43 200.87 404.55 200.33 404.68 199.89 404.80 199.52 404.93 199.23 405.05 199.00 405.18 198.83 405.30 198.71 405.43 198.62 405.55 198.57 405.68 198.53 405.80 198.51 405.93 198.50 406.05 198.50 406.18 198.50 406.30 198.50 406.43 198.52 406.56 198.66 406.68 199.03 406.81 199.75 406.93 200.90 407.06 202.56 407.18 204.76 407.31 207.48 407.43 210.68 407.56 214.26 407.68 218.12 407.81 222.13 407.93 226.18 408.06 230.16 408.18 234.00 408.31 237.62 408.43 241.00 408.56 244.12 408.69 246.97 408.81 249.55 408.94 251.88 409.06 253.97 409.19 255.85 409.31 257.53 409.44 259.04 409.56 260.39 409.69 261.60 409.81 262.68 409.94 263.65 410.06 264.52 410.19 265.31 410.31 266.02 410.44 266.66 410.56 267.24 410.69 267.76 410.82 268.24 410.94 268.67 411.07 269.07 411.19 269.43 411.32 269.76 411.44 270.06 411.57 270.34 411.69 270.60 411.82 270.83 411.94 271.05 412.07 271.25 412.19 271.44 412.32 271.61 412.44 271.77 412.57 271.92 412.69 272.06 412.82 272.19 412.95 272.31 413.07 272.42 413.20 272.53 413.32 272.63 413.45 272.72 413.57 272.81 413.70 272.89 413.82 272.97 413.95 273.04 414.07 273.11 414.20 273.17 414.32 273.24 414.45 273.29 414.57 273.35 414.70 273.40 414.82 273.45 414.95 273.50 415.08 273.54 415.20 273.58 415.33 273.62 415.45 273.66 415.58 273.70 415.70 273.73 415.83 273.76 415.95 273.80 416.08 273.83 416.20 273.85 416.33 273.88 416.45 273.91 416.58 273.93 416.70 273.96 416.83 273.98 416.96 274.00 417.08 274.02 417.21 274.04 417.33 274.06 417.46 274.08 417.58 274.10 417.71 274.11 417.83 274.13 417.96 274.15 418.08 274.16 418.21 274.18 418.33 274.19 418.46 274.20 418.58 274.22 418.71 274.23 418.83 274.24 418.96 274.25 419.09 274.26 419.21 274.28 419.34 274.29 419.46 274.30 419.59 274.31 419.71 274.32 419.84 274.32 419.96 274.33 420.09 274.34 420.21 274.35 420.34 274.36 420.46 274.37 420.59 274.37 420.71 274.38 420.84 274.39 420.96 274.39 421.09 274.40 421.22 274.41 421.34 274.41 421.47 274.42 421.59 274.42 421.72 274.43 421.84 274.43 421.97 274.44 422.09 274.44 422.22 274.45 422.34 274.45 422.47 274.46 422.59 274.46 422.72 274.47 422.84 274.47 422.97 274.47 423.09 274.48 423.22 274.48 423.35 274.49 423.47 274.49 423.60 274.49 423.72 274.50 423.85 274.50 423.97 274.50 424.10 274.50 424.22 274.51 424.35 274.51 424.47 274.51 424.60 274.52 424.72 274.52 424.85 274.52 424.97 274.52 425.10 274.52 425.22 274.53 425.35 274.53 425.48 274.53 425.60 274.53 425.73 274.53 425.85 274.54 425.98 274.54 426.10 274.54 426.23 274.54 426.35 274.54 426.48 274.54 426.60 274.54 426.73 274.55 426.85 274.55 426.98 274.55 427.10 274.55 427.23 274.55 427.36 274.55 427.48 274.55 427.61 274.55 427.73 274.55 427.86 274.55 427.98 274.55 428.11 274.55 428.23 274.55 428.36 274.56 428.48 274.56 428.61 274.56 428.73 274.56 428.86 274.56 428.98 274.56 429.11 274.56 429.23 274.56 429.36 274.56 429.49 274.56 429.61 274.56 429.74 274.56 429.86 274.56 429.99 274.56 430.11 274.55 430.24 274.55 430.36 274.55 430.49 274.55 430.61 274.55 430.74 274.55 430.86 274.55 430.99 274.55 431.11 274.55 431.24 274.55 431.36 274.55 431.49 274.55 431.62 274.55 431.74 274.54 431.87 274.54 431.99 274.54 432.12 274.54 432.24 274.54 432.37 274.54 432.49 274.54 432.62 274.53 432.74 274.53 432.87 274.53 432.99 274.53 433.12 274.53 433.24 274.52 433.37 274.52 433.49 274.52 433.62 274.52 433.75 274.51 433.87 274.51 434.00 274.51 434.12 274.51 434.25 274.50 434.37 274.50 434.50 274.50 434.62 274.49 434.75 274.49 434.87 274.49 435.00 274.48 435.12 274.48 435.25 274.48 435.37 274.47 435.50 274.47 435.62 274.46 435.75 274.46 435.88 274.46 436.00 274.45 436.13 274.45 436.25 274.44 436.38 274.44 436.50 274.43 436.63 274.42 436.75 274.42 436.88 274.41 437.00 274.41 437.13 274.40 437.25 274.39 437.38 274.39 437.50 274.38 437.63 274.37 437.75 274.36 437.88 274.35 438.01 274.35 438.13 274.34 438.26 274.33 438.38 274.32 438.51 274.31 438.63 274.30 438.76 274.28 438.88 274.27 439.01 274.26 439.13 274.25 439.26 274.23 439.38 274.22 439.51 274.21 439.63 274.19 439.76 274.17 439.88 274.16 440.01 274.14 440.14 274.12 440.26 274.10 440.39 274.08 440.51 274.06 440.64 274.03 440.76 274.01 440.89 273.98 441.01 273.96 441.14 273.93 441.26 273.90 441.39 273.86 441.51 273.83 441.64 273.79 441.76 273.75 441.89 273.71 442.02 273.66 442.14 273.61 442.27 273.56 442.39 273.51 442.52 273.45 442.64 273.38 442.77 273.31 442.89 273.24 443.02 273.15 443.14 273.06 443.27 272.97 443.39 272.86 443.52 272.74 443.64 272.62 443.77 272.48 443.89 272.32 444.02 272.15 444.15 271.96 444.27 271.74 444.40 271.50 444.52 271.24 444.65 270.93 444.77 270.59 444.90 270.19 445.02 269.74 445.15 269.21 445.27 268.61 445.40 267.89 445.52 267.05 445.65 266.05 445.77 264.85 445.90 263.40 446.02 261.63 446.15 259.43 446.28 256.70 446.40 253.27 446.53 248.93 446.65 243.45 446.78 236.58 446.90 228.22 447.03 218.66 447.15 209.01 447.28 201.43 447.40 198.50 447.53 201.43 447.65 209.01 447.78 218.66 447.90 228.22 448.03 236.58 448.15 243.45 448.28 248.93 448.41 253.27 448.53 256.70 448.66 259.43 448.78 261.62 448.91 263.39 449.03 264.84 449.16 266.04 449.28 267.04 449.41 267.88 449.53 268.59 449.66 269.20 449.78 269.72 449.91 270.17 450.03 270.57 450.16 270.91 450.28 271.21 450.41 271.48 450.54 271.72 450.66 271.93 450.79 272.12 450.91 272.29 451.04 272.45 451.16 272.59 451.29 272.71 451.41 272.83 451.54 272.94 451.66 273.03 451.79 273.12 451.91 273.20 452.04 273.28 452.16 273.34 452.29 273.41 452.42 273.47 452.54 273.52 452.67 273.57 452.79 273.62 452.92 273.67 453.04 273.71 453.17 273.75 453.29 273.78 453.42 273.82 453.54 273.85 453.67 273.88 453.79 273.91 453.92 273.93 454.04 273.96 454.17 273.98 454.29 274.00 454.42 274.02 454.55 274.04 454.67 274.06 454.80 274.08 454.92 274.10 455.05 274.11 455.17 274.13 455.30 274.14 455.42 274.16 455.55 274.17 455.67 274.18 455.80 274.20 455.92 274.21 456.05 274.22 456.17 274.23 456.30 274.24 456.42 274.25 456.55 274.26 456.68 274.27 456.80 274.27 456.93 274.28 457.05 274.29 457.18 274.30 457.30 274.30 457.43 274.31 457.55 274.32 457.68 274.32 457.80 274.33 457.93 274.33 458.05 274.34 458.18 274.34 458.30 274.35 458.43 274.35 458.55 274.36 458.68 274.36 458.81 274.37 458.93 274.37 459.06 274.37 459.18 274.38 459.31 274.38 459.43 274.38 459.56 274.39 459.68 274.39 459.81 274.39 459.93 274.39 460.06 274.40 460.18 274.40 460.31 274.40 460.43 274.40 460.56 274.41 460.68 274.41 460.81 274.41 460.94 274.41 461.06 274.41 461.19 274.42 461.31 274.42 461.44 274.42 461.56 274.42 461.69 274.42 461.81 274.42 461.94 274.42 462.06 274.42 462.19 274.43 462.31 274.43 462.44 274.43 462.56 274.43 462.69 274.43 462.81 274.43 462.94 274.43 463.07 274.43 463.19 274.43 463.32 274.43 463.44 274.43 463.57 274.43 463.69 274.43 463.82 274.43 463.94 274.43 464.07 274.43 464.19 274.43 464.32 274.43 464.44 274.43 464.57 274.43 464.69 274.43 464.82 274.43 464.94 274.43 465.07 274.43 465.20 274.43 465.32 274.43 465.45 274.43 465.57 274.43 465.70 274.43 465.82 274.43 465.95 274.43 466.07 274.43 466.20 274.43 466.32 274.43 466.45 274.43 466.57 274.43 466.70 274.43 466.82 274.43 466.95 274.43 467.08 274.42 467.20 274.42 467.33 274.42 467.45 274.42 467.58 274.42 467.70 274.42 467.83 274.42 467.95 274.42 468.08 274.42 468.20 274.42 468.33 274.41 468.45 274.41 468.58 274.41 468.70 274.41 468.83 274.41 468.95 274.41 469.08 274.41 469.21 274.41 469.33 274.40 469.46 274.40 469.58 274.40 469.71 274.40 469.83 274.40 469.96 274.40 470.08 274.39 470.21 274.39 470.33 274.39 470.46 274.39 470.58 274.39 470.71 274.39 470.83 274.38 470.96 274.38 471.08 274.38 471.21 274.38 471.34 274.38 471.46 274.37 471.59 274.37 471.71 274.37 471.84 274.37 471.96 274.37 472.09 274.36 472.21 274.36 472.34 274.36 472.46 274.36 472.59 274.35 472.71 274.35 472.84 274.35 472.96 274.35 473.09 274.34 473.21 274.34 473.34 274.34 473.47 274.34 473.59 274.33 473.72 274.33 473.84 274.33 473.97 274.32 474.09 274.32 474.22 274.32 474.34 274.32 474.47 274.31 474.59 274.31 474.72 274.31 474.84 274.30 474.97 274.30 475.09 274.30 475.22 274.29 475.34 274.29 475.47 274.29 475.60 274.28 475.72 274.28 475.85 274.27 475.97 274.27 476.10 274.27 476.22 274.26 476.35 274.26 476.47 274.25 476.60 274.25 476.72 274.25 476.85 274.24 476.97 274.24 477.10 274.23 477.22 274.23 477.35 274.22 477.48 274.22 477.60 274.21 477.73 274.21 477.85 274.20 477.98 274.20 478.10 274.19 478.23 274.19 478.35 274.18 478.48 274.18 478.60 274.17 478.73 274.16 478.85 274.16 478.98 274.15 479.10 274.15 479.23 274.14 479.35 274.13 479.48 274.13 479.61 274.12 479.73 274.11 479.86 274.11 479.98 274.10 480.11 274.09 480.23 274.09 480.36 274.08 480.48 274.07 480.61 274.06 480.73 274.05 480.86 274.05 480.98 274.04 481.11 274.03 481.23 274.02 481.36 274.01 481.48 274.00 481.61 273.99 481.74 273.98 481.86 273.97 481.99 273.96 482.11 273.95 482.24 273.94 482.36 273.93 482.49 273.92 482.61 273.91 482.74 273.89 482.86 273.88 482.99 273.87 483.11 273.86 483.24 273.84 483.36 273.83 483.49 273.82 483.61 273.80 483.74 273.79 483.87 273.77 483.99 273.76 484.12 273.74 484.24 273.73 484.37 273.71 484.49 273.69 484.62 273.67 484.74 273.66 484.87 273.64 484.99 273.62 485.12 273.60 485.24 273.58 485.37 273.56 485.49 273.53 485.62 273.51 485.74 273.49 485.87 273.46 486.00 273.44 486.12 273.41 486.25 273.39 486.37 273.36 486.50 273.33 486.62 273.30 486.75 273.27 486.87 273.24 487.00 273.21 487.12 273.18 487.25 273.14 487.37 273.11 487.50 273.07 487.62 273.03 487.75 272.99 487.87 272.95 488.00 272.91 488.13 272.86 488.25 272.82 488.38 272.77 488.50 272.72 488.63 272.67 488.75 272.61 488.88 272.56 489.00 272.50 489.13 272.44 489.25 272.37 489.38 272.31 489.50 272.24 489.63 272.17 489.75 272.09 489.88 272.02 490.00 271.93 490.13 271.85 490.26 271.76 490.38 271.67 490.51 271.57 490.63 271.47 490.76 271.37 490.88 271.26 491.01 271.14 491.13 271.02 491.26 270.89 491.38 270.76 491.51 270.62 491.63 270.47 491.76 270.32 491.88 270.15 492.01 269.98 492.14 269.81 492.26 269.62 492.39 269.42 492.51 269.21 492.64 268.99 492.76 268.76 492.89 268.52 493.01 268.26 493.14 267.99 493.26 267.71 493.39 267.41 493.51 267.09 493.64 266.75 493.76 266.40 493.89 266.02 494.01 265.62 494.14 265.20 494.27 264.76 494.39 264.29 494.52 263.79 494.64 263.27 494.77 262.71 494.89 262.12 495.02 261.50 495.14 260.84 495.27 260.14 495.39 259.40 495.52 258.62 495.64 257.79 495.77 256.92 495.89 255.99 496.02 255.02 496.14 253.99 496.27 252.91 496.40 251.76 496.52 250.57 496.65 249.31 496.77 247.99 496.90 246.61 497.02 245.16 497.15 243.66 497.27 242.10 497.40 240.48 497.52 238.81 497.65 237.09 497.77 235.32 497.90 233.51 498.02 231.67 498.15 229.81 498.27 227.92 498.40 226.03 498.53 224.14 498.65 222.27 498.78 220.42 498.90 218.60 499.03 216.83 499.15 215.12 499.28 213.48 499.40 211.91 499.53 210.42 499.65 209.02 499.78 207.72 499.90 206.51 500.03 205.40 500.15 204.40 500.28 203.49 500.40 202.68 500.53 201.97 500.66 201.34 500.78 200.80 500.91 200.34 501.03 199.94 501.16 199.62 501.28 199.35 501.41 199.13 501.53 198.96 501.66 198.82 501.78 198.72 501.91 198.64 502.03 198.59 502.16 198.55 502.28 198.53 502.41 198.51 502.54 198.51 502.66 198.50 502.79 198.50 502.91 198.50 503.04 198.50 503.16 198.50 503.29 198.50 503.41 198.50 503.54 198.50 503.66 198.51 503.79 198.52 503.91 198.54 504.04 198.58 504.16 198.62 504.29 198.68 504.41 198.75 504.54 198.85 504.67 198.97 504.79 199.11 504.92 199.28 505.04 199.48 505.17 199.70 505.29 199.95 505.42 200.22 505.54 200.51 505.67 200.81 505.79 201.13 505.92 201.45 506.04 201.77 506.17 202.07 506.29 202.36 506.42 202.62 506.54 202.84 506.67 203.02 506.80 203.16 506.92 203.24 507.05 203.27 507.17 203.24 507.30 203.15 507.42 203.02 507.55 202.84 507.67 202.61 507.80 202.35 507.92 202.07 508.05 201.76 508.17 201.44 508.30 201.12 508.42 200.81 508.55 200.50 508.67 200.21 508.80 199.94" stroke="#a02ab4" stroke-width="1.0" fill="none" stroke-linejoin="round"/>
<rect x="383.50" y="198.50" width="125.30" height="76.50" fill="none" stroke="#333" stroke-width="0.85"/>
<path d="M383.50 275.00v-1.80M383.50 198.50v1.80M388.51 275.00v-1.00M388.51 198.50v1.00M393.52 275.00v-1.00M393.52 198.50v1.00M398.54 275.00v-1.00M398.54 198.50v1.00M403.55 275.00v-1.00M403.55 198.50v1.00M408.56 275.00v-1.80M408.56 198.50v1.80M413.57 275.00v-1.00M413.57 198.50v1.00M418.58 275.00v-1.00M418.58 198.50v1.00M423.60 275.00v-1.00M423.60 198.50v1.00M428.61 275.00v-1.00M428.61 198.50v1.00M433.62 275.00v-1.80M433.62 198.50v1.80M438.63 275.00v-1.00M438.63 198.50v1.00M443.64 275.00v-1.00M443.64 198.50v1.00M448.66 275.00v-1.00M448.66 198.50v1.00M453.67 275.00v-1.00M453.67 198.50v1.00M458.68 275.00v-1.80M458.68 198.50v1.80M463.69 275.00v-1.00M463.69 198.50v1.00M468.70 275.00v-1.00M468.70 198.50v1.00M473.72 275.00v-1.00M473.72 198.50v1.00M478.73 275.00v-1.00M478.73 198.50v1.00M483.74 275.00v-1.80M483.74 198.50v1.80M488.75 275.00v-1.00M488.75 198.50v1.00M493.76 275.00v-1.00M493.76 198.50v1.00M498.78 275.00v-1.00M498.78 198.50v1.00M503.79 275.00v-1.00M503.79 198.50v1.00M508.80 275.00v-1.80M508.80 198.50v1.80M383.50 275.00h1.80M508.80 275.00h-1.80M383.50 271.94h1.00M508.80 271.94h-1.00M383.50 268.88h1.00M508.80 268.88h-1.00M383.50 265.82h1.00M508.80 265.82h-1.00M383.50 262.76h1.00M508.80 262.76h-1.00M383.50 259.70h1.80M508.80 259.70h-1.80M383.50 256.64h1.00M508.80 256.64h-1.00M383.50 253.58h1.00M508.80 253.58h-1.00M383.50 250.52h1.00M508.80 250.52h-1.00M383.50 247.46h1.00M508.80 247.46h-1.00M383.50 244.40h1.80M508.80 244.40h-1.80M383.50 241.34h1.00M508.80 241.34h-1.00M383.50 238.28h1.00M508.80 238.28h-1.00M383.50 235.22h1.00M508.80 235.22h-1.00M383.50 232.16h1.00M508.80 232.16h-1.00M383.50 229.10h1.80M508.80 229.10h-1.80M383.50 226.04h1.00M508.80 226.04h-1.00M383.50 222.98h1.00M508.80 222.98h-1.00M383.50 219.92h1.00M508.80 219.92h-1.00M383.50 216.86h1.00M508.80 216.86h-1.00M383.50 213.80h1.80M508.80 213.80h-1.80M383.50 210.74h1.00M508.80 210.74h-1.00M383.50 207.68h1.00M508.80 207.68h-1.00M383.50 204.62h1.00M508.80 204.62h-1.00M383.50 201.56h1.00M508.80 201.56h-1.00M383.50 198.50h1.80M508.80 198.50h-1.80" stroke="#222" stroke-width="0.7" fill="none"/>
<text x="380.90" y="277.90" font-size="9.60" fill="#222" stroke="#222" stroke-width="0.12" text-anchor="end" font-weight="normal" textLength="11.00" lengthAdjust="spacingAndGlyphs">0.0</text>
<text x="380.90" y="262.60" font-size="9.60" fill="#222" stroke="#222" stroke-width="0.12" text-anchor="end" font-weight="normal" textLength="11.00" lengthAdjust="spacingAndGlyphs">0.2</text>
<text x="380.90" y="247.30" font-size="9.60" fill="#222" stroke="#222" stroke-width="0.12" text-anchor="end" font-weight="normal" textLength="11.00" lengthAdjust="spacingAndGlyphs">0.4</text>
<text x="380.90" y="232.00" font-size="9.60" fill="#222" stroke="#222" stroke-width="0.12" text-anchor="end" font-weight="normal" textLength="11.00" lengthAdjust="spacingAndGlyphs">0.6</text>
<text x="380.90" y="216.70" font-size="9.60" fill="#222" stroke="#222" stroke-width="0.12" text-anchor="end" font-weight="normal" textLength="11.00" lengthAdjust="spacingAndGlyphs">0.8</text>
<text x="380.90" y="201.40" font-size="9.60" fill="#222" stroke="#222" stroke-width="0.12" text-anchor="end" font-weight="normal" textLength="11.00" lengthAdjust="spacingAndGlyphs">1.0</text>
<text x="383.80" y="286.00" font-size="9.60" fill="#222" stroke="#222" stroke-width="0.12" text-anchor="middle" font-weight="normal" textLength="19.00" lengthAdjust="spacingAndGlyphs">1300</text>
<text x="408.86" y="286.00" font-size="9.60" fill="#222" stroke="#222" stroke-width="0.12" text-anchor="middle" font-weight="normal" textLength="19.00" lengthAdjust="spacingAndGlyphs">1400</text>
<text x="433.92" y="286.00" font-size="9.60" fill="#222" stroke="#222" stroke-width="0.12" text-anchor="middle" font-weight="normal" textLength="19.00" lengthAdjust="spacingAndGlyphs">1500</text>
<text x="458.98" y="286.00" font-size="9.60" fill="#222" stroke="#222" stroke-width="0.12" text-anchor="middle" font-weight="normal" textLength="19.00" lengthAdjust="spacingAndGlyphs">1600</text>
<text x="484.04" y="286.00" font-size="9.60" fill="#222" stroke="#222" stroke-width="0.12" text-anchor="middle" font-weight="normal" textLength="19.00" lengthAdjust="spacingAndGlyphs">1700</text>
<text x="509.10" y="286.00" font-size="9.60" fill="#222" stroke="#222" stroke-width="0.12" text-anchor="middle" font-weight="normal" textLength="19.00" lengthAdjust="spacingAndGlyphs">1800</text>
<text x="400.50" y="303.80" font-size="11.40" fill="#222" stroke="#222" stroke-width="0.20" text-anchor="start" font-weight="normal" textLength="91.80" lengthAdjust="spacingAndGlyphs">Wavelength, λ (nm)</text>
<text transform="translate(23.4,235.5) rotate(-90)" x="0" y="0" font-size="11.4" fill="#222" stroke="#222" stroke-width="0.2" text-anchor="middle" textLength="67.6" lengthAdjust="spacingAndGlyphs">Transmission</text>
</svg></body></html>
